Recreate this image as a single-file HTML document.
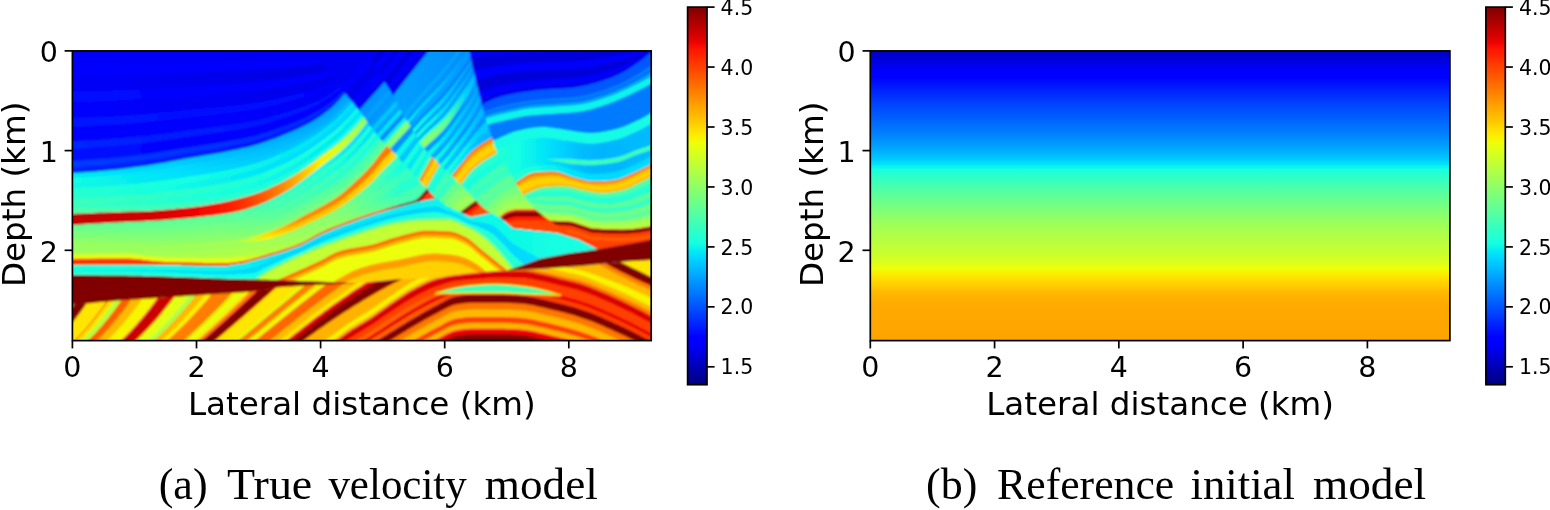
<!DOCTYPE html>
<html lang="en"><head><meta charset="utf-8"><title>Velocity models</title>
<style>
html,body{margin:0;padding:0;background:#fff;}
body{width:1550px;height:510px;overflow:hidden;}
svg{display:block;}
.t28{font-family:"DejaVu Sans","Liberation Sans",sans-serif;font-size:28.5px;fill:#000;}
.t32{font-family:"DejaVu Sans","Liberation Sans",sans-serif;font-size:32.55px;fill:#000;}
.t20{font-family:"DejaVu Sans","Liberation Sans",sans-serif;font-size:20.5px;fill:#000;}
.cap{font-family:"Liberation Serif","DejaVu Serif",serif;font-size:45px;fill:#000;}
.tk{stroke:#000;stroke-width:1.7;}
.sp{fill:none;stroke:#000;stroke-width:1.7;}
</style></head><body>
<svg width="1550" height="510" viewBox="0 0 1550 510">
<defs>
<linearGradient id="jet" x1="0" y1="0" x2="0" y2="1"><stop offset="0.0000" stop-color="#800000"/><stop offset="0.0156" stop-color="#920000"/><stop offset="0.0312" stop-color="#a40000"/><stop offset="0.0469" stop-color="#b60000"/><stop offset="0.0625" stop-color="#c80000"/><stop offset="0.0781" stop-color="#da0000"/><stop offset="0.0938" stop-color="#ec0400"/><stop offset="0.1094" stop-color="#fe1200"/><stop offset="0.1250" stop-color="#ff2100"/><stop offset="0.1406" stop-color="#ff3000"/><stop offset="0.1562" stop-color="#ff3f00"/><stop offset="0.1719" stop-color="#ff4d00"/><stop offset="0.1875" stop-color="#ff5c00"/><stop offset="0.2031" stop-color="#ff6b00"/><stop offset="0.2188" stop-color="#ff7a00"/><stop offset="0.2344" stop-color="#ff8800"/><stop offset="0.2500" stop-color="#ff9700"/><stop offset="0.2656" stop-color="#ffa600"/><stop offset="0.2812" stop-color="#ffb500"/><stop offset="0.2969" stop-color="#ffc300"/><stop offset="0.3125" stop-color="#ffd200"/><stop offset="0.3281" stop-color="#ffe100"/><stop offset="0.3438" stop-color="#fcf000"/><stop offset="0.3594" stop-color="#effe08"/><stop offset="0.3750" stop-color="#e2ff15"/><stop offset="0.3906" stop-color="#d5ff21"/><stop offset="0.4062" stop-color="#c9ff2e"/><stop offset="0.4219" stop-color="#bcff3b"/><stop offset="0.4375" stop-color="#afff48"/><stop offset="0.4531" stop-color="#a2ff55"/><stop offset="0.4688" stop-color="#95ff62"/><stop offset="0.4844" stop-color="#88ff6f"/><stop offset="0.5000" stop-color="#7bff7b"/><stop offset="0.5156" stop-color="#6fff88"/><stop offset="0.5312" stop-color="#62ff95"/><stop offset="0.5469" stop-color="#55ffa2"/><stop offset="0.5625" stop-color="#48ffaf"/><stop offset="0.5781" stop-color="#3bffbc"/><stop offset="0.5938" stop-color="#2effc9"/><stop offset="0.6094" stop-color="#21ffd5"/><stop offset="0.6250" stop-color="#15ffe2"/><stop offset="0.6406" stop-color="#08efef"/><stop offset="0.6562" stop-color="#00dffc"/><stop offset="0.6719" stop-color="#00cfff"/><stop offset="0.6875" stop-color="#00bfff"/><stop offset="0.7031" stop-color="#00afff"/><stop offset="0.7188" stop-color="#009fff"/><stop offset="0.7344" stop-color="#008fff"/><stop offset="0.7500" stop-color="#0080ff"/><stop offset="0.7656" stop-color="#0070ff"/><stop offset="0.7812" stop-color="#0060ff"/><stop offset="0.7969" stop-color="#0050ff"/><stop offset="0.8125" stop-color="#0040ff"/><stop offset="0.8281" stop-color="#0030ff"/><stop offset="0.8438" stop-color="#0020ff"/><stop offset="0.8594" stop-color="#0010ff"/><stop offset="0.8750" stop-color="#0000ff"/><stop offset="0.8906" stop-color="#0000fe"/><stop offset="0.9062" stop-color="#0000ec"/><stop offset="0.9219" stop-color="#0000da"/><stop offset="0.9375" stop-color="#0000c8"/><stop offset="0.9531" stop-color="#0000b6"/><stop offset="0.9688" stop-color="#0000a4"/><stop offset="0.9844" stop-color="#000092"/><stop offset="1.0000" stop-color="#000080"/></linearGradient>
<linearGradient id="prof" x1="0" y1="0" x2="0" y2="1"><stop offset="0.0000" stop-color="#0000c2"/><stop offset="0.0083" stop-color="#0000c9"/><stop offset="0.0167" stop-color="#0000d0"/><stop offset="0.0250" stop-color="#0000d7"/><stop offset="0.0333" stop-color="#0000de"/><stop offset="0.0417" stop-color="#0000e6"/><stop offset="0.0500" stop-color="#0000ee"/><stop offset="0.0583" stop-color="#0000f6"/><stop offset="0.0667" stop-color="#0000fe"/><stop offset="0.0750" stop-color="#0000ff"/><stop offset="0.0833" stop-color="#0000ff"/><stop offset="0.0917" stop-color="#0002ff"/><stop offset="0.1000" stop-color="#0008ff"/><stop offset="0.1083" stop-color="#000eff"/><stop offset="0.1167" stop-color="#0014ff"/><stop offset="0.1250" stop-color="#001aff"/><stop offset="0.1333" stop-color="#0020ff"/><stop offset="0.1417" stop-color="#0026ff"/><stop offset="0.1500" stop-color="#002cff"/><stop offset="0.1583" stop-color="#0032ff"/><stop offset="0.1667" stop-color="#0038ff"/><stop offset="0.1750" stop-color="#003eff"/><stop offset="0.1833" stop-color="#0043ff"/><stop offset="0.1917" stop-color="#0048ff"/><stop offset="0.2000" stop-color="#004dff"/><stop offset="0.2083" stop-color="#0052ff"/><stop offset="0.2167" stop-color="#0057ff"/><stop offset="0.2250" stop-color="#005cff"/><stop offset="0.2333" stop-color="#0061ff"/><stop offset="0.2417" stop-color="#0066ff"/><stop offset="0.2500" stop-color="#006bff"/><stop offset="0.2583" stop-color="#0070ff"/><stop offset="0.2667" stop-color="#0075ff"/><stop offset="0.2750" stop-color="#007aff"/><stop offset="0.2833" stop-color="#007fff"/><stop offset="0.2917" stop-color="#0085ff"/><stop offset="0.3000" stop-color="#008bff"/><stop offset="0.3083" stop-color="#0091ff"/><stop offset="0.3167" stop-color="#0098ff"/><stop offset="0.3250" stop-color="#009eff"/><stop offset="0.3333" stop-color="#00a5ff"/><stop offset="0.3417" stop-color="#00acff"/><stop offset="0.3500" stop-color="#00b3ff"/><stop offset="0.3583" stop-color="#00bbff"/><stop offset="0.3667" stop-color="#00c3ff"/><stop offset="0.3750" stop-color="#00ccff"/><stop offset="0.3833" stop-color="#00d8ff"/><stop offset="0.3917" stop-color="#00e5f7"/><stop offset="0.4000" stop-color="#0bf3ec"/><stop offset="0.4083" stop-color="#15ffe2"/><stop offset="0.4167" stop-color="#1effd8"/><stop offset="0.4250" stop-color="#26ffd1"/><stop offset="0.4333" stop-color="#2dffca"/><stop offset="0.4417" stop-color="#34ffc3"/><stop offset="0.4500" stop-color="#3bffbc"/><stop offset="0.4583" stop-color="#41ffb6"/><stop offset="0.4667" stop-color="#47ffb0"/><stop offset="0.4750" stop-color="#4dffaa"/><stop offset="0.4833" stop-color="#53ffa4"/><stop offset="0.4917" stop-color="#59ff9d"/><stop offset="0.5000" stop-color="#5fff97"/><stop offset="0.5083" stop-color="#65ff92"/><stop offset="0.5167" stop-color="#6aff8d"/><stop offset="0.5250" stop-color="#70ff87"/><stop offset="0.5333" stop-color="#75ff82"/><stop offset="0.5417" stop-color="#7aff7d"/><stop offset="0.5500" stop-color="#7fff77"/><stop offset="0.5583" stop-color="#85ff72"/><stop offset="0.5667" stop-color="#8aff6d"/><stop offset="0.5750" stop-color="#8fff67"/><stop offset="0.5833" stop-color="#95ff62"/><stop offset="0.5917" stop-color="#9aff5d"/><stop offset="0.6000" stop-color="#9fff57"/><stop offset="0.6083" stop-color="#a3ff54"/><stop offset="0.6167" stop-color="#a7ff50"/><stop offset="0.6250" stop-color="#aaff4d"/><stop offset="0.6333" stop-color="#aeff49"/><stop offset="0.6417" stop-color="#b1ff46"/><stop offset="0.6500" stop-color="#b5ff42"/><stop offset="0.6583" stop-color="#b8ff3f"/><stop offset="0.6667" stop-color="#bcff3b"/><stop offset="0.6750" stop-color="#bfff38"/><stop offset="0.6833" stop-color="#c3ff34"/><stop offset="0.6917" stop-color="#c6ff31"/><stop offset="0.7000" stop-color="#caff2c"/><stop offset="0.7083" stop-color="#cfff28"/><stop offset="0.7167" stop-color="#d4ff23"/><stop offset="0.7250" stop-color="#d8ff1f"/><stop offset="0.7333" stop-color="#deff19"/><stop offset="0.7417" stop-color="#e6ff11"/><stop offset="0.7500" stop-color="#edff0a"/><stop offset="0.7583" stop-color="#f4f903"/><stop offset="0.7667" stop-color="#fbf000"/><stop offset="0.7750" stop-color="#ffe800"/><stop offset="0.7833" stop-color="#ffe100"/><stop offset="0.7917" stop-color="#ffdb00"/><stop offset="0.8000" stop-color="#ffd400"/><stop offset="0.8083" stop-color="#ffce00"/><stop offset="0.8167" stop-color="#ffc700"/><stop offset="0.8250" stop-color="#ffbf00"/><stop offset="0.8333" stop-color="#ffb900"/><stop offset="0.8417" stop-color="#ffb600"/><stop offset="0.8500" stop-color="#ffb300"/><stop offset="0.8583" stop-color="#ffb000"/><stop offset="0.8667" stop-color="#ffad00"/><stop offset="0.8750" stop-color="#ffab00"/><stop offset="0.8833" stop-color="#ffaa00"/><stop offset="0.8917" stop-color="#ffa900"/><stop offset="0.9000" stop-color="#ffa900"/><stop offset="0.9083" stop-color="#ffa800"/><stop offset="0.9167" stop-color="#ffa800"/><stop offset="0.9250" stop-color="#ffa800"/><stop offset="0.9333" stop-color="#ffa700"/><stop offset="0.9417" stop-color="#ffa700"/><stop offset="0.9500" stop-color="#ffa600"/><stop offset="0.9583" stop-color="#ffa600"/><stop offset="0.9667" stop-color="#ffa500"/><stop offset="0.9750" stop-color="#ffa500"/><stop offset="0.9833" stop-color="#ffa500"/><stop offset="0.9917" stop-color="#ffa400"/><stop offset="1.0000" stop-color="#ffa400"/></linearGradient>
<clipPath id="pc"><rect x="72.4" y="50.9" width="578.80" height="289.70"/></clipPath>
<filter id="blur" x="0" y="0" width="1550" height="510" filterUnits="userSpaceOnUse"><feGaussianBlur stdDeviation="0.9"/></filter>
<mask id="cA" maskUnits="userSpaceOnUse" x="0" y="0" width="1550" height="510"><path d="M60,44 60,48 60,52 60,56 60,60 60,64 60,68 60,72 60,76 60,80 60,84 60,88 60,92 60,96 60,100 60,104 60,108 60,112 60,116 60,120 60,124 60,128 60,132 60,136 60,140 60,144 60,148 60,152 60,156 60,160 60,164 60,168 60,172 60,176 60,180 60,184 60,188 60,192 60,196 60,200 60,204 60,208 60,212 60,216 60,220 60,224 60,228 60,232 60,236 60,240 60,244 60,248 60,252 60,256 60,260 60,264 60,268 60,272 60,276 60,280 60,284 60,288 60,292 60,296 60,300 60,304 60,308 60,312 60,316 60,320 60,324 60,328 60,332 60,336 60,340 60,344 60,348 749.7,348 741.2,344 732.7,340 724.1,336 715.6,332 707.1,328 698.6,324 690.1,320 681.6,316 673.1,312 664.6,308 656.1,304 647.6,300 639.1,296 630.6,292 622.1,288 613.5,284 605,280 596.5,276 588,272 579.5,268 571,264 562.5,260 554,256 545.5,252 537,248 528.5,244 520,240 511.4,236 502.9,232 494.4,228 485.9,224 477.4,220 468.9,216 460.4,212 451.2,208 444.4,204 439.4,200 435.2,196 431.5,192 428.1,188 424.4,184 420.5,180 416.7,176 412.8,172 409,168 405.4,164 401.9,160 398.4,156 394.9,152 391,148 386.9,144 383,140 379.6,136 376.4,132 373.4,128 370.4,124 367.5,120 364.7,116 361.9,112 358.8,108 355.6,104 352.3,100 349,96 345.7,92 342.5,88 339.4,84 336.2,80 333.1,76 330,72 326.9,68 323.7,64 320.6,60 317.4,56 314.3,52 311.1,48 308,44Z" fill="#fff"/></mask>
<mask id="cB" maskUnits="userSpaceOnUse" x="0" y="0" width="1550" height="510"><path d="M306.4,44 309.5,48 312.7,52 315.8,56 319,60 322.1,64 325.2,68 328.4,72 331.5,76 334.6,80 337.8,84 340.9,88 344.1,92 347.3,96 350.7,100 354,104 357.2,108 360.3,112 363.2,116 365.9,120 368.8,124 371.8,128 374.8,132 378,136 381.3,140 385.1,144 389.2,148 393.1,152 396.7,156 400.2,160 403.7,164 407.3,168 411.1,172 414.9,176 418.8,180 422.6,184 426.4,188 429.9,192 433.4,196 437.5,200 442.3,204 448.5,208 457.3,212 466.1,216 474.6,220 483.1,224 491.6,228 500.1,232 508.6,236 517.1,240 525.6,244 534.2,248 542.7,252 551.2,256 559.7,260 568.2,264 576.7,268 585.2,272 593.7,276 602.2,280 610.7,284 619.2,288 627.7,292 636.3,296 644.8,300 653.3,304 661.8,308 670.3,312 678.8,316 687.3,320 695.8,324 704.3,328 712.8,332 721.3,336 729.8,340 738.3,344 746.9,348 658,348 653.2,344 648.3,340 643.5,336 638.6,332 633.8,328 629,324 624.1,320 619.3,316 614.5,312 609.6,308 604.8,304 600,300 595.1,296 590.3,292 585.4,288 580.6,284 575.8,280 570.9,276 566.1,272 561.3,268 556.4,264 551.6,260 546.8,256 541.9,252 537.1,248 532.2,244 527.4,240 522.6,236 517.7,232 512.9,228 509,224 503.9,220 497.9,216 490.8,212 485.7,208 481.2,204 477,200 473,196 469.3,192 465.7,188 461.9,184 458,180 453.9,176 449.6,172 445.2,168 440.9,164 436.8,160 432.7,156 428.9,152 425.4,148 422.5,144 420,140 417.7,136 415.4,132 412.9,128 410.5,124 408,120 405.6,116 403.1,112 400.8,108 398.6,104 396.7,100 394.7,96 392.5,92 390,88 387.4,84 384.9,80 382.3,76 379.8,72 377.2,68 374.6,64 372,60 369.4,56 366.8,52 364.3,48 361.7,44Z" fill="#fff"/></mask>
<mask id="cC" maskUnits="userSpaceOnUse" x="0" y="0" width="1550" height="510"><path d="M360.2,44 362.8,48 365.4,52 367.9,56 370.5,60 373.1,64 375.7,68 378.3,72 380.9,76 383.4,80 386,84 388.5,88 391,92 393.3,96 395.3,100 397.3,104 399.4,108 401.7,112 404.1,116 406.6,120 409,124 411.5,128 413.9,132 416.3,136 418.6,140 421,144 423.8,148 427.2,152 430.9,156 435,160 439.1,164 443.3,168 447.7,172 452.1,176 456.2,180 460.1,184 464,188 467.6,192 471.3,196 475.2,200 479.3,204 483.7,208 488.7,212 495.3,216 501.8,220 507,224 511.2,228 515.7,232 520.6,236 525.4,240 530.3,244 535.1,248 539.9,252 544.8,256 549.6,260 554.4,264 559.3,268 564.1,272 568.9,276 573.8,280 578.6,284 583.5,288 588.3,292 593.1,296 598,300 602.8,304 607.6,308 612.5,312 617.3,316 622.1,320 627,324 631.8,328 636.7,332 641.5,336 646.3,340 651.2,344 656,348 845.5,348 835.8,344 826,340 816.3,336 806.6,332 796.8,328 787.1,324 777.4,320 767.7,316 757.9,312 748.2,308 738.5,304 728.7,300 719,296 709.3,292 699.6,288 689.8,284 680.1,280 670.4,276 660.6,272 650.9,268 641.2,264 631.5,260 621.7,256 612,252 601.6,248 592.5,244 584.8,240 577.8,236 571,232 564,228 557.4,224 551.3,220 545.6,216 540.5,212 536.1,208 532.3,204 528.9,200 525.7,196 522.8,192 520.1,188 517.5,184 515.1,180 512.9,176 510.7,172 508.6,168 506.3,164 503.7,160 501,156 498.5,152 496.4,148 494.9,144 493.9,140 492.9,136 491.6,132 490,128 488.5,124 487.2,120 486.1,116 485,112 483.9,108 482.9,104 481.8,100 480.9,96 479.9,92 478.9,88 477.9,84 476.9,80 475.8,76 474.8,72 473.9,68 473,64 472.2,60 471.4,56 470.7,52 469.9,48 469.1,44Z" fill="#fff"/></mask>
<mask id="cD" maskUnits="userSpaceOnUse" x="0" y="0" width="1550" height="510"><path d="M468,44 468.8,48 469.6,52 470.4,56 471.1,60 472,64 472.8,68 473.7,72 474.7,76 475.7,80 476.8,84 477.8,88 478.8,92 479.7,96 480.7,100 481.7,104 482.8,108 483.8,112 484.9,116 486.1,120 487.3,124 488.8,128 490.3,132 491.7,136 492.8,140 493.7,144 495.1,148 497,152 499.5,156 502.2,160 504.8,164 507.2,168 509.4,172 511.5,176 513.7,180 516.1,184 518.6,188 521.2,192 524.1,196 527.2,200 530.6,204 534.3,208 538.5,212 543.5,216 549.1,220 555,224 561.6,228 568.5,232 575.4,236 582.3,240 589.8,244 598.6,248 608.7,252 618.6,256 628.4,260 638.1,264 647.8,268 657.6,272 667.3,276 677,280 686.7,284 696.5,288 706.2,292 715.9,296 725.7,300 735.4,304 745.1,308 754.8,312 764.6,316 774.3,320 784,324 793.8,328 803.5,332 813.2,336 822.9,340 832.7,344 842.4,348 666,348 666,344 666,340 666,336 666,332 666,328 666,324 666,320 666,316 666,312 666,308 666,304 666,300 666,296 666,292 666,288 666,284 666,280 666,276 666,272 666,268 666,264 666,260 666,256 666,252 666,248 666,244 666,240 666,236 666,232 666,228 666,224 666,220 666,216 666,212 666,208 666,204 666,200 666,196 666,192 666,188 666,184 666,180 666,176 666,172 666,168 666,164 666,160 666,156 666,152 666,148 666,144 666,140 666,136 666,132 666,128 666,124 666,120 666,116 666,112 666,108 666,104 666,100 666,96 666,92 666,88 666,84 666,80 666,76 666,72 666,68 666,64 666,60 666,56 666,52 666,48 666,44Z" fill="#fff"/></mask>
<mask id="cE" maskUnits="userSpaceOnUse" x="0" y="0" width="1550" height="510"><path d="M60,264.8 63,264.8 66,264.7 69,264.7 72,264.7 75,264.7 78,264.7 81,264.7 84,264.6 87,264.6 90,264.6 93,264.6 96,264.6 99,264.6 102,264.5 105,264.5 108,264.5 111,264.5 114,264.5 117,264.5 120,264.4 123,264.4 126,264.4 129,264.4 132,264.4 135,264.5 138,264.5 141,264.5 144,264.5 147,264.6 150,264.6 153,264.6 156,264.7 159,264.7 162,264.8 165,264.8 168,264.9 171,264.9 174,265 177,265.1 180,265.1 183,265.2 186,265.2 189,265.3 192,265.3 195,265.4 198,265.4 201,265.5 204,265.5 207,265.6 210,265.6 213,265.7 216,265.7 219,265.8 222,265.9 225,265.9 228,265.4 231,265 234,264.5 237,264.1 240,263.6 243,263.2 246,262.5 249,261.6 252,260.8 255,259.9 258,259.1 261,258.2 264,257.4 267,256.5 270,255.6 273,254.7 276,253.8 279,252.9 282,252 285,251 288,249.9 291,248.8 294,247.7 297,246.7 300,245.6 303,244 306,242.4 309,240.8 312,239.2 315,237.6 318,235.9 321,234.3 324,233 327,231.8 330,230.5 333,229.3 336,228.1 339,226.8 342,225.6 345,224.6 348,223.5 351,222.4 354,221.3 357,220.2 360,219.1 363,218 366,216.9 369,215.9 372,214.9 375,214 378,213.1 381,212.2 384,211.3 387,210.3 390,209.4 393,208.5 396,207.6 399,206.7 402,205.9 405,205 408,204.2 411,203.4 414,202.6 417,201.8 420,201.2 423,200.6 426,200 429,199.4 432,198.8 435,198.2 438,198.7 441,201.1 444,203.4 447,205.7 450,207.1 453,208.5 456,209.9 459,211.3 462,212.8 465,214.3 468,215.7 471,216.9 474,216.3 477,215.7 480,215 483,214.4 486,213.8 489,213.2 492,212.8 495,214.4 498,216.1 501,218.2 504,220.6 507,223.1 510,225.6 513,228 516,228.4 519,228.7 522,229.1 525,229.4 528,229.8 531,230.1 534,230.5 537,230.8 540,231.1 543,231.3 546,231.6 549,231.9 552,232.2 555,232.5 558,233.1 561,234 564,234.9 567,235.8 570,236.7 573,237.7 576,238.6 579,239.5 582,240.9 585,242.4 588,244 591,245.6 594,247.2 597,248.7 600,249.7 603,249.4 606,249.1 609,248.8 612,248.4 615,248 618,247.6 621,247.2 624,246.8 627,246.2 630,245.7 633,245.2 636,244.6 639,244.1 642,243.6 645,243.1 648,242.5 651,242 654,241.5 657,240.9 660,240.4 663,239.9 666,239.4 L666,346.0 60,346.0Z" fill="#fff"/></mask>
<mask id="cU" maskUnits="userSpaceOnUse" x="0" y="0" width="1550" height="510"><path d="M60,305.1 63,305 66,304.8 69,304.6 72,304.4 75,304.2 78,304.1 81,303.9 84,303.7 87,303.5 90,303.2 93,302.9 96,302.6 99,302.3 102,302 105,301.8 108,301.5 111,301.2 114,300.9 117,300.6 120,300.4 123,300.2 126,300 129,299.8 132,299.6 135,299.4 138,299.2 141,299 144,298.8 147,298.6 150,298.4 153,298.2 156,298 159,297.7 162,297.5 165,297.3 168,297.1 171,296.9 174,296.7 177,296.5 180,296.4 183,296.2 186,296 189,295.8 192,295.6 195,295.4 198,295.2 201,295 204,294.8 207,294.6 210,294.4 213,294.2 216,294 219,293.8 222,293.6 225,293.4 228,293.2 231,293 234,292.8 237,292.6 240,292.4 243,292.2 246,292.1 249,291.9 252,291.5 255,291.1 258,290.7 261,290.3 264,289.9 267,289.3 270,288.6 273,288 276,287.4 279,287.2 282,287 285,286.8 288,286.6 291,286.4 294,286.2 297,286 300,285.8 303,285.6 306,285.4 309,285.3 312,285.2 315,285 318,284.9 321,284.8 324,284.6 327,284.5 330,284.4 333,284.2 336,284.1 339,284 342,283.9 345,283.8 348,283.6 351,283.5 354,283.4 357,283.3 360,283 363,282.7 366,282.4 369,282.1 372,281.8 375,281.5 378,281.2 381,280.9 384,280.7 387,280.4 390,280.1 393,279.8 396,279.6 399,279.5 402,279.3 405,279.2 408,279 411,278.9 414,278.7 417,278.6 420,278.4 423,278.2 426,278.1 429,277.9 432,277.8 435,277.6 438,277.4 441,277 444,276.6 447,276.1 450,275.7 453,275.3 456,274.9 459,274.4 462,274 465,273.6 468,273.2 471,272.7 474,272.3 477,272 480,271.8 483,271.7 486,271.5 489,271.4 492,271.2 495,271.1 498,270.9 501,270.8 504,270.6 507,270.5 510,270.4 513,270.2 516,270.1 519,269.9 522,269.8 525,269.6 528,269.5 531,269.3 534,269.2 537,269 540,268.9 543,268.7 546,268.4 549,268.2 552,268 555,267.8 558,267.5 561,267.3 564,267.1 567,266.9 570,266.6 573,266.4 576,266.2 579,266 582,265.7 585,265.4 588,265.2 591,264.9 594,264.6 597,264.3 600,264 603,263.7 606,263.4 609,263.1 612,262.8 615,262.5 618,262.2 621,261.9 624,261.7 627,261.4 630,261.2 633,261 636,260.8 639,260.6 642,260.4 645,260.3 648,260.1 651,259.9 654,259.7 657,259.6 660,259.4 663,259.2 666,259 L666,346.0 60,346.0Z" fill="#fff"/></mask>
<linearGradient id="g1" gradientUnits="userSpaceOnUse" x1="72" y1="0" x2="400" y2="0"><stop offset="0.000" stop-color="#0000f9"/><stop offset="0.050" stop-color="#0000f9"/><stop offset="0.100" stop-color="#0000f8"/><stop offset="0.150" stop-color="#0000f8"/><stop offset="0.200" stop-color="#0000f7"/><stop offset="0.250" stop-color="#0000f7"/><stop offset="0.300" stop-color="#0000f7"/><stop offset="0.350" stop-color="#0000f6"/><stop offset="0.400" stop-color="#0000f6"/><stop offset="0.450" stop-color="#0000f6"/><stop offset="0.500" stop-color="#0000f5"/><stop offset="0.550" stop-color="#0000f5"/><stop offset="0.600" stop-color="#0000f5"/><stop offset="0.650" stop-color="#0000f4"/><stop offset="0.700" stop-color="#0000f4"/><stop offset="0.750" stop-color="#0000f3"/><stop offset="0.800" stop-color="#0000f3"/><stop offset="0.850" stop-color="#0000f3"/><stop offset="0.900" stop-color="#0000f2"/><stop offset="0.950" stop-color="#0000f2"/><stop offset="1.000" stop-color="#0000f2"/></linearGradient>
<linearGradient id="g2" gradientUnits="userSpaceOnUse" x1="72" y1="0" x2="400" y2="0"><stop offset="0.000" stop-color="#0005ff"/><stop offset="0.050" stop-color="#0004ff"/><stop offset="0.100" stop-color="#0003ff"/><stop offset="0.150" stop-color="#0001ff"/><stop offset="0.200" stop-color="#0000ff"/><stop offset="0.250" stop-color="#0000ff"/><stop offset="0.300" stop-color="#0000ff"/><stop offset="0.350" stop-color="#0000ff"/><stop offset="0.400" stop-color="#0000ff"/><stop offset="0.450" stop-color="#0000ff"/><stop offset="0.500" stop-color="#0000ff"/><stop offset="0.550" stop-color="#0000ff"/><stop offset="0.600" stop-color="#0000ff"/><stop offset="0.650" stop-color="#0000ff"/><stop offset="0.700" stop-color="#0000ff"/><stop offset="0.750" stop-color="#0000ff"/><stop offset="0.800" stop-color="#0000ff"/><stop offset="0.850" stop-color="#0000fd"/><stop offset="0.900" stop-color="#0000fc"/><stop offset="0.950" stop-color="#0000fa"/><stop offset="1.000" stop-color="#0000f9"/></linearGradient>
<linearGradient id="g3" gradientUnits="userSpaceOnUse" x1="72" y1="0" x2="400" y2="0"><stop offset="0.000" stop-color="#0000f9"/><stop offset="0.050" stop-color="#0000f7"/><stop offset="0.100" stop-color="#0000f6"/><stop offset="0.150" stop-color="#0000f5"/><stop offset="0.200" stop-color="#0000f3"/><stop offset="0.250" stop-color="#0000f2"/><stop offset="0.300" stop-color="#0000f0"/><stop offset="0.350" stop-color="#0000ef"/><stop offset="0.400" stop-color="#0000ed"/><stop offset="0.450" stop-color="#0000ec"/><stop offset="0.500" stop-color="#0000ea"/><stop offset="0.550" stop-color="#0000e9"/><stop offset="0.600" stop-color="#0000e7"/><stop offset="0.650" stop-color="#0000e6"/><stop offset="0.700" stop-color="#0000e4"/><stop offset="0.750" stop-color="#0000e3"/><stop offset="0.800" stop-color="#0000e1"/><stop offset="0.850" stop-color="#0000e0"/><stop offset="0.900" stop-color="#0000de"/><stop offset="0.950" stop-color="#0000dd"/><stop offset="1.000" stop-color="#0000db"/></linearGradient>
<linearGradient id="g4" gradientUnits="userSpaceOnUse" x1="72" y1="0" x2="400" y2="0"><stop offset="0.000" stop-color="#000cff"/><stop offset="0.050" stop-color="#000aff"/><stop offset="0.100" stop-color="#0009ff"/><stop offset="0.150" stop-color="#0008ff"/><stop offset="0.200" stop-color="#0007ff"/><stop offset="0.250" stop-color="#0005ff"/><stop offset="0.300" stop-color="#0004ff"/><stop offset="0.350" stop-color="#0003ff"/><stop offset="0.400" stop-color="#0001ff"/><stop offset="0.450" stop-color="#0000ff"/><stop offset="0.500" stop-color="#0000ff"/><stop offset="0.550" stop-color="#0000ff"/><stop offset="0.600" stop-color="#0000ff"/><stop offset="0.650" stop-color="#0000ff"/><stop offset="0.700" stop-color="#0000ff"/><stop offset="0.750" stop-color="#0000ff"/><stop offset="0.800" stop-color="#0000ff"/><stop offset="0.850" stop-color="#0000ff"/><stop offset="0.900" stop-color="#0000ff"/><stop offset="0.950" stop-color="#0000ff"/><stop offset="1.000" stop-color="#0000ff"/></linearGradient>
<linearGradient id="g5" gradientUnits="userSpaceOnUse" x1="72" y1="0" x2="400" y2="0"><stop offset="0.000" stop-color="#0000ff"/><stop offset="0.050" stop-color="#0000ff"/><stop offset="0.100" stop-color="#0000fd"/><stop offset="0.150" stop-color="#0000fc"/><stop offset="0.200" stop-color="#0000fa"/><stop offset="0.250" stop-color="#0000f9"/><stop offset="0.300" stop-color="#0000f7"/><stop offset="0.350" stop-color="#0000f6"/><stop offset="0.400" stop-color="#0000f5"/><stop offset="0.450" stop-color="#0000f3"/><stop offset="0.500" stop-color="#0000f2"/><stop offset="0.550" stop-color="#0000f0"/><stop offset="0.600" stop-color="#0000ef"/><stop offset="0.650" stop-color="#0000ed"/><stop offset="0.700" stop-color="#0000ec"/><stop offset="0.750" stop-color="#0000ea"/><stop offset="0.800" stop-color="#0000e9"/><stop offset="0.850" stop-color="#0000e7"/><stop offset="0.900" stop-color="#0000e6"/><stop offset="0.950" stop-color="#0000e4"/><stop offset="1.000" stop-color="#0000e3"/></linearGradient>
<linearGradient id="g6" gradientUnits="userSpaceOnUse" x1="72" y1="0" x2="400" y2="0"><stop offset="0.000" stop-color="#0019ff"/><stop offset="0.050" stop-color="#0017ff"/><stop offset="0.100" stop-color="#0016ff"/><stop offset="0.150" stop-color="#0015ff"/><stop offset="0.200" stop-color="#0014ff"/><stop offset="0.250" stop-color="#0012ff"/><stop offset="0.300" stop-color="#0011ff"/><stop offset="0.350" stop-color="#0010ff"/><stop offset="0.400" stop-color="#000eff"/><stop offset="0.450" stop-color="#000dff"/><stop offset="0.500" stop-color="#000cff"/><stop offset="0.550" stop-color="#000aff"/><stop offset="0.600" stop-color="#0009ff"/><stop offset="0.650" stop-color="#0008ff"/><stop offset="0.700" stop-color="#0007ff"/><stop offset="0.750" stop-color="#0005ff"/><stop offset="0.800" stop-color="#0004ff"/><stop offset="0.850" stop-color="#0003ff"/><stop offset="0.900" stop-color="#0001ff"/><stop offset="0.950" stop-color="#0000ff"/><stop offset="1.000" stop-color="#0000ff"/></linearGradient>
<linearGradient id="g7" gradientUnits="userSpaceOnUse" x1="72" y1="0" x2="400" y2="0"><stop offset="0.000" stop-color="#0000ff"/><stop offset="0.050" stop-color="#0000ff"/><stop offset="0.100" stop-color="#0000ff"/><stop offset="0.150" stop-color="#0000ff"/><stop offset="0.200" stop-color="#0000ff"/><stop offset="0.250" stop-color="#0000ff"/><stop offset="0.300" stop-color="#0000ff"/><stop offset="0.350" stop-color="#0000ff"/><stop offset="0.400" stop-color="#0000ff"/><stop offset="0.450" stop-color="#0000fe"/><stop offset="0.500" stop-color="#0000fd"/><stop offset="0.550" stop-color="#0000fb"/><stop offset="0.600" stop-color="#0000fa"/><stop offset="0.650" stop-color="#0000f8"/><stop offset="0.700" stop-color="#0000f7"/><stop offset="0.750" stop-color="#0000f5"/><stop offset="0.800" stop-color="#0000f4"/><stop offset="0.850" stop-color="#0000f2"/><stop offset="0.900" stop-color="#0000f1"/><stop offset="0.950" stop-color="#0000ef"/><stop offset="1.000" stop-color="#0000ee"/></linearGradient>
<linearGradient id="g8" gradientUnits="userSpaceOnUse" x1="72" y1="0" x2="400" y2="0"><stop offset="0.000" stop-color="#0026ff"/><stop offset="0.050" stop-color="#0024ff"/><stop offset="0.100" stop-color="#0023ff"/><stop offset="0.150" stop-color="#0022ff"/><stop offset="0.200" stop-color="#0020ff"/><stop offset="0.250" stop-color="#001fff"/><stop offset="0.300" stop-color="#001eff"/><stop offset="0.350" stop-color="#001dff"/><stop offset="0.400" stop-color="#001bff"/><stop offset="0.450" stop-color="#001aff"/><stop offset="0.500" stop-color="#0019ff"/><stop offset="0.550" stop-color="#0017ff"/><stop offset="0.600" stop-color="#0016ff"/><stop offset="0.650" stop-color="#0015ff"/><stop offset="0.700" stop-color="#0014ff"/><stop offset="0.750" stop-color="#0012ff"/><stop offset="0.800" stop-color="#0011ff"/><stop offset="0.850" stop-color="#0010ff"/><stop offset="0.900" stop-color="#000eff"/><stop offset="0.950" stop-color="#000dff"/><stop offset="1.000" stop-color="#000cff"/></linearGradient>
<linearGradient id="g9" gradientUnits="userSpaceOnUse" x1="72" y1="0" x2="400" y2="0"><stop offset="0.000" stop-color="#003cff"/><stop offset="0.050" stop-color="#003bff"/><stop offset="0.100" stop-color="#003aff"/><stop offset="0.150" stop-color="#0038ff"/><stop offset="0.200" stop-color="#0037ff"/><stop offset="0.250" stop-color="#0036ff"/><stop offset="0.300" stop-color="#0035ff"/><stop offset="0.350" stop-color="#0033ff"/><stop offset="0.400" stop-color="#0032ff"/><stop offset="0.450" stop-color="#0031ff"/><stop offset="0.500" stop-color="#002fff"/><stop offset="0.550" stop-color="#002eff"/><stop offset="0.600" stop-color="#002dff"/><stop offset="0.650" stop-color="#002bff"/><stop offset="0.700" stop-color="#002aff"/><stop offset="0.750" stop-color="#0029ff"/><stop offset="0.800" stop-color="#0028ff"/><stop offset="0.850" stop-color="#0026ff"/><stop offset="0.900" stop-color="#0025ff"/><stop offset="0.950" stop-color="#0024ff"/><stop offset="1.000" stop-color="#0022ff"/></linearGradient>
<linearGradient id="g10" gradientUnits="userSpaceOnUse" x1="72" y1="0" x2="380" y2="0"><stop offset="0.000" stop-color="#05ebf2"/><stop offset="0.053" stop-color="#01e7f6"/><stop offset="0.105" stop-color="#00e2fa"/><stop offset="0.158" stop-color="#00ddfd"/><stop offset="0.211" stop-color="#00d9ff"/><stop offset="0.263" stop-color="#00d4ff"/><stop offset="0.316" stop-color="#00d0ff"/><stop offset="0.368" stop-color="#00cbff"/><stop offset="0.421" stop-color="#00c6ff"/><stop offset="0.474" stop-color="#00c2ff"/><stop offset="0.526" stop-color="#00bdff"/><stop offset="0.579" stop-color="#00b9ff"/><stop offset="0.632" stop-color="#00b4ff"/><stop offset="0.684" stop-color="#00afff"/><stop offset="0.737" stop-color="#00abff"/><stop offset="0.789" stop-color="#00a6ff"/><stop offset="0.842" stop-color="#00a2ff"/><stop offset="0.895" stop-color="#009dff"/><stop offset="0.947" stop-color="#0098ff"/><stop offset="1.000" stop-color="#0094ff"/></linearGradient>
<linearGradient id="g11" gradientUnits="userSpaceOnUse" x1="72" y1="0" x2="380" y2="0"><stop offset="0.000" stop-color="#14ffe3"/><stop offset="0.053" stop-color="#10f9e7"/><stop offset="0.105" stop-color="#0cf4eb"/><stop offset="0.158" stop-color="#07efef"/><stop offset="0.211" stop-color="#03e9f4"/><stop offset="0.263" stop-color="#00e4f8"/><stop offset="0.316" stop-color="#00dffc"/><stop offset="0.368" stop-color="#00daff"/><stop offset="0.421" stop-color="#00d4ff"/><stop offset="0.474" stop-color="#00cfff"/><stop offset="0.526" stop-color="#00caff"/><stop offset="0.579" stop-color="#00c4ff"/><stop offset="0.632" stop-color="#00bfff"/><stop offset="0.684" stop-color="#00baff"/><stop offset="0.737" stop-color="#00b5ff"/><stop offset="0.789" stop-color="#00afff"/><stop offset="0.842" stop-color="#00aaff"/><stop offset="0.895" stop-color="#00a5ff"/><stop offset="0.947" stop-color="#009fff"/><stop offset="1.000" stop-color="#009aff"/></linearGradient>
<linearGradient id="g12" gradientUnits="userSpaceOnUse" x1="72" y1="0" x2="380" y2="0"><stop offset="0.000" stop-color="#12fbe5"/><stop offset="0.053" stop-color="#0ef7e8"/><stop offset="0.105" stop-color="#0bf3ec"/><stop offset="0.158" stop-color="#08efef"/><stop offset="0.211" stop-color="#04ebf2"/><stop offset="0.263" stop-color="#01e7f6"/><stop offset="0.316" stop-color="#00e3f9"/><stop offset="0.368" stop-color="#00dffc"/><stop offset="0.421" stop-color="#00dbff"/><stop offset="0.474" stop-color="#00d7ff"/><stop offset="0.526" stop-color="#00d2ff"/><stop offset="0.579" stop-color="#00ceff"/><stop offset="0.632" stop-color="#00caff"/><stop offset="0.684" stop-color="#00c6ff"/><stop offset="0.737" stop-color="#00c2ff"/><stop offset="0.789" stop-color="#00beff"/><stop offset="0.842" stop-color="#00baff"/><stop offset="0.895" stop-color="#00b6ff"/><stop offset="0.947" stop-color="#00b2ff"/><stop offset="1.000" stop-color="#00aeff"/></linearGradient>
<linearGradient id="g13" gradientUnits="userSpaceOnUse" x1="72" y1="0" x2="380" y2="0"><stop offset="0.000" stop-color="#27ffd0"/><stop offset="0.053" stop-color="#24ffd3"/><stop offset="0.105" stop-color="#22ffd5"/><stop offset="0.158" stop-color="#1fffd8"/><stop offset="0.211" stop-color="#1dffda"/><stop offset="0.263" stop-color="#1affdd"/><stop offset="0.316" stop-color="#18ffdf"/><stop offset="0.368" stop-color="#15ffe2"/><stop offset="0.421" stop-color="#13fde4"/><stop offset="0.474" stop-color="#10fae7"/><stop offset="0.526" stop-color="#0ef7e9"/><stop offset="0.579" stop-color="#0bf4eb"/><stop offset="0.632" stop-color="#09f0ee"/><stop offset="0.684" stop-color="#06edf0"/><stop offset="0.737" stop-color="#04eaf3"/><stop offset="0.789" stop-color="#01e7f5"/><stop offset="0.842" stop-color="#00e4f8"/><stop offset="0.895" stop-color="#00e1fa"/><stop offset="0.947" stop-color="#00defd"/><stop offset="1.000" stop-color="#00dbff"/></linearGradient>
<linearGradient id="g14" gradientUnits="userSpaceOnUse" x1="72" y1="0" x2="380" y2="0"><stop offset="0.000" stop-color="#27ffd0"/><stop offset="0.053" stop-color="#23ffd4"/><stop offset="0.105" stop-color="#20ffd7"/><stop offset="0.158" stop-color="#1dffda"/><stop offset="0.211" stop-color="#19ffdd"/><stop offset="0.263" stop-color="#16ffe1"/><stop offset="0.316" stop-color="#13fde4"/><stop offset="0.368" stop-color="#0ff9e7"/><stop offset="0.421" stop-color="#0cf5eb"/><stop offset="0.474" stop-color="#09f0ee"/><stop offset="0.526" stop-color="#06ecf1"/><stop offset="0.579" stop-color="#02e8f5"/><stop offset="0.632" stop-color="#00e4f8"/><stop offset="0.684" stop-color="#00e0fb"/><stop offset="0.737" stop-color="#00dcfe"/><stop offset="0.789" stop-color="#00d8ff"/><stop offset="0.842" stop-color="#00d4ff"/><stop offset="0.895" stop-color="#00d0ff"/><stop offset="0.947" stop-color="#00ccff"/><stop offset="1.000" stop-color="#00c8ff"/></linearGradient>
<linearGradient id="g15" gradientUnits="userSpaceOnUse" x1="72" y1="0" x2="380" y2="0"><stop offset="0.000" stop-color="#3bffbb"/><stop offset="0.053" stop-color="#39ffbe"/><stop offset="0.105" stop-color="#36ffc0"/><stop offset="0.158" stop-color="#34ffc3"/><stop offset="0.211" stop-color="#32ffc5"/><stop offset="0.263" stop-color="#2fffc8"/><stop offset="0.316" stop-color="#2dffca"/><stop offset="0.368" stop-color="#2affcd"/><stop offset="0.421" stop-color="#28ffcf"/><stop offset="0.474" stop-color="#25ffd2"/><stop offset="0.526" stop-color="#23ffd4"/><stop offset="0.579" stop-color="#20ffd7"/><stop offset="0.632" stop-color="#1effd9"/><stop offset="0.684" stop-color="#1bffdc"/><stop offset="0.737" stop-color="#19ffde"/><stop offset="0.789" stop-color="#16ffe0"/><stop offset="0.842" stop-color="#14fee3"/><stop offset="0.895" stop-color="#11fbe5"/><stop offset="0.947" stop-color="#0ff8e8"/><stop offset="1.000" stop-color="#0cf5ea"/></linearGradient>
<linearGradient id="g16" gradientUnits="userSpaceOnUse" x1="72" y1="0" x2="380" y2="0"><stop offset="0.000" stop-color="#39ffbe"/><stop offset="0.053" stop-color="#35ffc1"/><stop offset="0.105" stop-color="#32ffc5"/><stop offset="0.158" stop-color="#2effc8"/><stop offset="0.211" stop-color="#2bffcc"/><stop offset="0.263" stop-color="#28ffcf"/><stop offset="0.316" stop-color="#24ffd3"/><stop offset="0.368" stop-color="#21ffd6"/><stop offset="0.421" stop-color="#1dffd9"/><stop offset="0.474" stop-color="#1affdd"/><stop offset="0.526" stop-color="#16ffe0"/><stop offset="0.579" stop-color="#13fde4"/><stop offset="0.632" stop-color="#10f9e7"/><stop offset="0.684" stop-color="#0cf5eb"/><stop offset="0.737" stop-color="#09f0ee"/><stop offset="0.789" stop-color="#05ecf2"/><stop offset="0.842" stop-color="#02e8f5"/><stop offset="0.895" stop-color="#00e3f8"/><stop offset="0.947" stop-color="#00dffc"/><stop offset="1.000" stop-color="#00dbff"/></linearGradient>
<linearGradient id="g17" gradientUnits="userSpaceOnUse" x1="72" y1="0" x2="380" y2="0"><stop offset="0.000" stop-color="#4effa9"/><stop offset="0.053" stop-color="#4affad"/><stop offset="0.105" stop-color="#47ffb0"/><stop offset="0.158" stop-color="#43ffb3"/><stop offset="0.211" stop-color="#40ffb7"/><stop offset="0.263" stop-color="#3dffba"/><stop offset="0.316" stop-color="#39ffbe"/><stop offset="0.368" stop-color="#36ffc1"/><stop offset="0.421" stop-color="#32ffc5"/><stop offset="0.474" stop-color="#2fffc8"/><stop offset="0.526" stop-color="#2bffcb"/><stop offset="0.579" stop-color="#28ffcf"/><stop offset="0.632" stop-color="#24ffd2"/><stop offset="0.684" stop-color="#21ffd6"/><stop offset="0.737" stop-color="#1effd9"/><stop offset="0.789" stop-color="#1affdd"/><stop offset="0.842" stop-color="#17ffe0"/><stop offset="0.895" stop-color="#13fde3"/><stop offset="0.947" stop-color="#10f9e7"/><stop offset="1.000" stop-color="#0cf5ea"/></linearGradient>
<linearGradient id="g18" gradientUnits="userSpaceOnUse" x1="72" y1="0" x2="370" y2="0"><stop offset="0.000" stop-color="#c20000"/><stop offset="0.056" stop-color="#c50000"/><stop offset="0.111" stop-color="#c80000"/><stop offset="0.167" stop-color="#cb0000"/><stop offset="0.222" stop-color="#ce0000"/><stop offset="0.278" stop-color="#d30000"/><stop offset="0.333" stop-color="#de0000"/><stop offset="0.389" stop-color="#e90100"/><stop offset="0.444" stop-color="#f30900"/><stop offset="0.500" stop-color="#fe1200"/><stop offset="0.556" stop-color="#ff2900"/><stop offset="0.611" stop-color="#ff4600"/><stop offset="0.667" stop-color="#ff6b00"/><stop offset="0.722" stop-color="#ff9400"/><stop offset="0.778" stop-color="#ffc400"/><stop offset="0.833" stop-color="#fdee00"/><stop offset="0.889" stop-color="#d8ff1e"/><stop offset="0.944" stop-color="#adff4a"/><stop offset="1.000" stop-color="#82ff75"/></linearGradient>
<linearGradient id="g19" gradientUnits="userSpaceOnUse" x1="72" y1="0" x2="400" y2="0"><stop offset="0.000" stop-color="#60ff97"/><stop offset="0.050" stop-color="#5fff98"/><stop offset="0.100" stop-color="#5eff98"/><stop offset="0.150" stop-color="#5eff99"/><stop offset="0.200" stop-color="#5dff9a"/><stop offset="0.250" stop-color="#5cff9b"/><stop offset="0.300" stop-color="#5bff9c"/><stop offset="0.350" stop-color="#5aff9c"/><stop offset="0.400" stop-color="#59ff9d"/><stop offset="0.450" stop-color="#59ff9e"/><stop offset="0.500" stop-color="#54ffa3"/><stop offset="0.550" stop-color="#47ffb0"/><stop offset="0.600" stop-color="#3bffbc"/><stop offset="0.650" stop-color="#2fffc8"/><stop offset="0.700" stop-color="#22ffd5"/><stop offset="0.750" stop-color="#16ffe1"/><stop offset="0.800" stop-color="#0af1ed"/><stop offset="0.850" stop-color="#00e2fa"/><stop offset="0.900" stop-color="#00d3ff"/><stop offset="0.950" stop-color="#00c3ff"/><stop offset="1.000" stop-color="#00b4ff"/></linearGradient>
<linearGradient id="g20" gradientUnits="userSpaceOnUse" x1="72" y1="0" x2="400" y2="0"><stop offset="0.000" stop-color="#6aff8c"/><stop offset="0.050" stop-color="#6aff8d"/><stop offset="0.100" stop-color="#69ff8e"/><stop offset="0.150" stop-color="#68ff8f"/><stop offset="0.200" stop-color="#67ff90"/><stop offset="0.250" stop-color="#66ff90"/><stop offset="0.300" stop-color="#66ff91"/><stop offset="0.350" stop-color="#65ff92"/><stop offset="0.400" stop-color="#64ff93"/><stop offset="0.450" stop-color="#63ff94"/><stop offset="0.500" stop-color="#60ff97"/><stop offset="0.550" stop-color="#57ffa0"/><stop offset="0.600" stop-color="#4fffa8"/><stop offset="0.650" stop-color="#47ffb0"/><stop offset="0.700" stop-color="#3effb8"/><stop offset="0.750" stop-color="#36ffc1"/><stop offset="0.800" stop-color="#2effc9"/><stop offset="0.850" stop-color="#25ffd1"/><stop offset="0.900" stop-color="#1dffda"/><stop offset="0.950" stop-color="#15ffe2"/><stop offset="1.000" stop-color="#0cf5ea"/></linearGradient>
<linearGradient id="g21" gradientUnits="userSpaceOnUse" x1="72" y1="0" x2="400" y2="0"><stop offset="0.000" stop-color="#70ff87"/><stop offset="0.050" stop-color="#6fff88"/><stop offset="0.100" stop-color="#6eff89"/><stop offset="0.150" stop-color="#6dff8a"/><stop offset="0.200" stop-color="#6cff8a"/><stop offset="0.250" stop-color="#6cff8b"/><stop offset="0.300" stop-color="#6bff8c"/><stop offset="0.350" stop-color="#6aff8d"/><stop offset="0.400" stop-color="#69ff8e"/><stop offset="0.450" stop-color="#68ff8e"/><stop offset="0.500" stop-color="#63ff94"/><stop offset="0.550" stop-color="#57ffa0"/><stop offset="0.600" stop-color="#4affad"/><stop offset="0.650" stop-color="#3dffb9"/><stop offset="0.700" stop-color="#31ffc6"/><stop offset="0.750" stop-color="#24ffd3"/><stop offset="0.800" stop-color="#18ffdf"/><stop offset="0.850" stop-color="#0bf3ec"/><stop offset="0.900" stop-color="#00e4f8"/><stop offset="0.950" stop-color="#00d4ff"/><stop offset="1.000" stop-color="#00c4ff"/></linearGradient>
<linearGradient id="g22" gradientUnits="userSpaceOnUse" x1="72" y1="0" x2="400" y2="0"><stop offset="0.000" stop-color="#7aff7d"/><stop offset="0.050" stop-color="#79ff7e"/><stop offset="0.100" stop-color="#78ff7e"/><stop offset="0.150" stop-color="#78ff7f"/><stop offset="0.200" stop-color="#77ff80"/><stop offset="0.250" stop-color="#76ff81"/><stop offset="0.300" stop-color="#75ff82"/><stop offset="0.350" stop-color="#74ff82"/><stop offset="0.400" stop-color="#74ff83"/><stop offset="0.450" stop-color="#73ff84"/><stop offset="0.500" stop-color="#6fff88"/><stop offset="0.550" stop-color="#67ff90"/><stop offset="0.600" stop-color="#5eff99"/><stop offset="0.650" stop-color="#55ffa1"/><stop offset="0.700" stop-color="#4dffaa"/><stop offset="0.750" stop-color="#44ffb2"/><stop offset="0.800" stop-color="#3cffbb"/><stop offset="0.850" stop-color="#33ffc4"/><stop offset="0.900" stop-color="#2bffcc"/><stop offset="0.950" stop-color="#22ffd5"/><stop offset="1.000" stop-color="#19ffdd"/></linearGradient>
<linearGradient id="g23" gradientUnits="userSpaceOnUse" x1="72" y1="0" x2="400" y2="0"><stop offset="0.000" stop-color="#7fff77"/><stop offset="0.050" stop-color="#7eff78"/><stop offset="0.100" stop-color="#7eff79"/><stop offset="0.150" stop-color="#7dff7a"/><stop offset="0.200" stop-color="#7cff7b"/><stop offset="0.250" stop-color="#7bff7c"/><stop offset="0.300" stop-color="#7aff7c"/><stop offset="0.350" stop-color="#7aff7d"/><stop offset="0.400" stop-color="#79ff7e"/><stop offset="0.450" stop-color="#78ff7f"/><stop offset="0.500" stop-color="#73ff84"/><stop offset="0.550" stop-color="#68ff8f"/><stop offset="0.600" stop-color="#5cff9b"/><stop offset="0.650" stop-color="#50ffa6"/><stop offset="0.700" stop-color="#45ffb2"/><stop offset="0.750" stop-color="#39ffbd"/><stop offset="0.800" stop-color="#2effc9"/><stop offset="0.850" stop-color="#22ffd5"/><stop offset="0.900" stop-color="#17ffe0"/><stop offset="0.950" stop-color="#0bf3ec"/><stop offset="1.000" stop-color="#00e5f7"/></linearGradient>
<linearGradient id="g24" gradientUnits="userSpaceOnUse" x1="72" y1="0" x2="400" y2="0"><stop offset="0.000" stop-color="#87ff70"/><stop offset="0.050" stop-color="#86ff70"/><stop offset="0.100" stop-color="#86ff71"/><stop offset="0.150" stop-color="#85ff72"/><stop offset="0.200" stop-color="#84ff73"/><stop offset="0.250" stop-color="#83ff74"/><stop offset="0.300" stop-color="#82ff75"/><stop offset="0.350" stop-color="#81ff75"/><stop offset="0.400" stop-color="#81ff76"/><stop offset="0.450" stop-color="#80ff77"/><stop offset="0.500" stop-color="#7cff7a"/><stop offset="0.550" stop-color="#74ff82"/><stop offset="0.600" stop-color="#6cff8b"/><stop offset="0.650" stop-color="#64ff93"/><stop offset="0.700" stop-color="#5cff9b"/><stop offset="0.750" stop-color="#54ffa3"/><stop offset="0.800" stop-color="#4cffab"/><stop offset="0.850" stop-color="#44ffb3"/><stop offset="0.900" stop-color="#3cffbb"/><stop offset="0.950" stop-color="#34ffc3"/><stop offset="1.000" stop-color="#2cffcb"/></linearGradient>
<linearGradient id="g25" gradientUnits="userSpaceOnUse" x1="72" y1="0" x2="400" y2="0"><stop offset="0.000" stop-color="#8fff68"/><stop offset="0.050" stop-color="#8eff69"/><stop offset="0.100" stop-color="#8dff69"/><stop offset="0.150" stop-color="#8dff6a"/><stop offset="0.200" stop-color="#8cff6b"/><stop offset="0.250" stop-color="#8bff6c"/><stop offset="0.300" stop-color="#8aff6d"/><stop offset="0.350" stop-color="#89ff6d"/><stop offset="0.400" stop-color="#88ff6e"/><stop offset="0.450" stop-color="#88ff6f"/><stop offset="0.500" stop-color="#85ff72"/><stop offset="0.550" stop-color="#7eff79"/><stop offset="0.600" stop-color="#77ff80"/><stop offset="0.650" stop-color="#70ff87"/><stop offset="0.700" stop-color="#69ff8d"/><stop offset="0.750" stop-color="#63ff94"/><stop offset="0.800" stop-color="#5cff9b"/><stop offset="0.850" stop-color="#55ffa2"/><stop offset="0.900" stop-color="#4effa9"/><stop offset="0.950" stop-color="#47ffaf"/><stop offset="1.000" stop-color="#41ffb6"/></linearGradient>
<linearGradient id="g26" gradientUnits="userSpaceOnUse" x1="72" y1="0" x2="400" y2="0"><stop offset="0.000" stop-color="#94ff63"/><stop offset="0.050" stop-color="#93ff63"/><stop offset="0.100" stop-color="#93ff64"/><stop offset="0.150" stop-color="#92ff65"/><stop offset="0.200" stop-color="#91ff66"/><stop offset="0.250" stop-color="#90ff67"/><stop offset="0.300" stop-color="#8fff67"/><stop offset="0.350" stop-color="#8fff68"/><stop offset="0.400" stop-color="#8eff69"/><stop offset="0.450" stop-color="#8dff6a"/><stop offset="0.500" stop-color="#8bff6c"/><stop offset="0.550" stop-color="#86ff71"/><stop offset="0.600" stop-color="#81ff76"/><stop offset="0.650" stop-color="#7cff7b"/><stop offset="0.700" stop-color="#77ff7f"/><stop offset="0.750" stop-color="#73ff84"/><stop offset="0.800" stop-color="#6eff89"/><stop offset="0.850" stop-color="#69ff8e"/><stop offset="0.900" stop-color="#64ff92"/><stop offset="0.950" stop-color="#60ff97"/><stop offset="1.000" stop-color="#5bff9c"/></linearGradient>
<linearGradient id="g27" gradientUnits="userSpaceOnUse" x1="72" y1="0" x2="400" y2="0"><stop offset="0.000" stop-color="#99ff5d"/><stop offset="0.050" stop-color="#9aff5c"/><stop offset="0.100" stop-color="#9bff5b"/><stop offset="0.150" stop-color="#9cff5a"/><stop offset="0.200" stop-color="#9dff59"/><stop offset="0.250" stop-color="#9eff58"/><stop offset="0.300" stop-color="#9fff57"/><stop offset="0.350" stop-color="#a0ff56"/><stop offset="0.400" stop-color="#a1ff55"/><stop offset="0.450" stop-color="#a2ff54"/><stop offset="0.500" stop-color="#a3ff53"/><stop offset="0.550" stop-color="#ceff29"/><stop offset="0.600" stop-color="#ffd600"/><stop offset="0.650" stop-color="#ffaf00"/><stop offset="0.700" stop-color="#ff8b00"/><stop offset="0.750" stop-color="#ff8600"/><stop offset="0.800" stop-color="#ff8200"/><stop offset="0.850" stop-color="#ff7d00"/><stop offset="0.900" stop-color="#ff7b00"/><stop offset="0.950" stop-color="#ff7900"/><stop offset="1.000" stop-color="#ff7700"/></linearGradient>
<linearGradient id="g28" gradientUnits="userSpaceOnUse" x1="72" y1="0" x2="400" y2="0"><stop offset="0.000" stop-color="#9fff58"/><stop offset="0.050" stop-color="#a0ff57"/><stop offset="0.100" stop-color="#a1ff56"/><stop offset="0.150" stop-color="#a2ff55"/><stop offset="0.200" stop-color="#a3ff54"/><stop offset="0.250" stop-color="#a4ff53"/><stop offset="0.300" stop-color="#a5ff52"/><stop offset="0.350" stop-color="#a6ff51"/><stop offset="0.400" stop-color="#a7ff50"/><stop offset="0.450" stop-color="#a8ff4f"/><stop offset="0.500" stop-color="#a9ff4e"/><stop offset="0.550" stop-color="#cbff2c"/><stop offset="0.600" stop-color="#feed00"/><stop offset="0.650" stop-color="#ffd900"/><stop offset="0.700" stop-color="#ffc800"/><stop offset="0.750" stop-color="#ffc800"/><stop offset="0.800" stop-color="#ffc800"/><stop offset="0.850" stop-color="#ffc800"/><stop offset="0.900" stop-color="#ffcd00"/><stop offset="0.950" stop-color="#ffd200"/><stop offset="1.000" stop-color="#ffd700"/></linearGradient>
<linearGradient id="g29" gradientUnits="userSpaceOnUse" x1="72" y1="0" x2="400" y2="0"><stop offset="0.000" stop-color="#8fff68"/><stop offset="0.050" stop-color="#90ff67"/><stop offset="0.100" stop-color="#91ff66"/><stop offset="0.150" stop-color="#92ff64"/><stop offset="0.200" stop-color="#94ff63"/><stop offset="0.250" stop-color="#95ff62"/><stop offset="0.300" stop-color="#96ff61"/><stop offset="0.350" stop-color="#97ff60"/><stop offset="0.400" stop-color="#98ff5f"/><stop offset="0.450" stop-color="#99ff5e"/><stop offset="0.500" stop-color="#9aff5c"/><stop offset="0.550" stop-color="#9cff5b"/><stop offset="0.600" stop-color="#98ff5f"/><stop offset="0.650" stop-color="#90ff67"/><stop offset="0.700" stop-color="#88ff6f"/><stop offset="0.750" stop-color="#80ff77"/><stop offset="0.800" stop-color="#78ff7f"/><stop offset="0.850" stop-color="#68ff8f"/><stop offset="0.900" stop-color="#54ffa3"/><stop offset="0.950" stop-color="#40ffb7"/><stop offset="1.000" stop-color="#2cffcb"/></linearGradient>
<linearGradient id="g30" gradientUnits="userSpaceOnUse" x1="72" y1="0" x2="400" y2="0"><stop offset="0.000" stop-color="#a4ff53"/><stop offset="0.050" stop-color="#a5ff52"/><stop offset="0.100" stop-color="#a6ff51"/><stop offset="0.150" stop-color="#a7ff4f"/><stop offset="0.200" stop-color="#a8ff4e"/><stop offset="0.250" stop-color="#aaff4d"/><stop offset="0.300" stop-color="#abff4c"/><stop offset="0.350" stop-color="#acff4b"/><stop offset="0.400" stop-color="#adff4a"/><stop offset="0.450" stop-color="#aeff49"/><stop offset="0.500" stop-color="#afff48"/><stop offset="0.550" stop-color="#b0ff46"/><stop offset="0.600" stop-color="#adff4a"/><stop offset="0.650" stop-color="#a5ff52"/><stop offset="0.700" stop-color="#9dff5a"/><stop offset="0.750" stop-color="#95ff62"/><stop offset="0.800" stop-color="#8cff6a"/><stop offset="0.850" stop-color="#76ff81"/><stop offset="0.900" stop-color="#57ffa0"/><stop offset="0.950" stop-color="#38ffbf"/><stop offset="1.000" stop-color="#19ffdd"/></linearGradient>
<linearGradient id="g31" gradientUnits="userSpaceOnUse" x1="72" y1="0" x2="400" y2="0"><stop offset="0.000" stop-color="#9cff5b"/><stop offset="0.050" stop-color="#9dff5a"/><stop offset="0.100" stop-color="#9eff58"/><stop offset="0.150" stop-color="#9fff57"/><stop offset="0.200" stop-color="#a1ff56"/><stop offset="0.250" stop-color="#a2ff55"/><stop offset="0.300" stop-color="#a3ff54"/><stop offset="0.350" stop-color="#a4ff53"/><stop offset="0.400" stop-color="#a5ff52"/><stop offset="0.450" stop-color="#a6ff50"/><stop offset="0.500" stop-color="#a7ff4f"/><stop offset="0.550" stop-color="#a9ff4e"/><stop offset="0.600" stop-color="#a5ff52"/><stop offset="0.650" stop-color="#9dff5a"/><stop offset="0.700" stop-color="#95ff62"/><stop offset="0.750" stop-color="#8dff6a"/><stop offset="0.800" stop-color="#85ff72"/><stop offset="0.850" stop-color="#74ff82"/><stop offset="0.900" stop-color="#60ff97"/><stop offset="0.950" stop-color="#4bffac"/><stop offset="1.000" stop-color="#36ffc1"/></linearGradient>
<linearGradient id="g32" gradientUnits="userSpaceOnUse" x1="72" y1="0" x2="400" y2="0"><stop offset="0.000" stop-color="#aeff48"/><stop offset="0.050" stop-color="#afff47"/><stop offset="0.100" stop-color="#b1ff46"/><stop offset="0.150" stop-color="#b2ff45"/><stop offset="0.200" stop-color="#b3ff44"/><stop offset="0.250" stop-color="#b4ff43"/><stop offset="0.300" stop-color="#b5ff42"/><stop offset="0.350" stop-color="#b6ff40"/><stop offset="0.400" stop-color="#b7ff3f"/><stop offset="0.450" stop-color="#b9ff3e"/><stop offset="0.500" stop-color="#baff3d"/><stop offset="0.550" stop-color="#bbff3c"/><stop offset="0.600" stop-color="#b7ff40"/><stop offset="0.650" stop-color="#afff48"/><stop offset="0.700" stop-color="#a7ff50"/><stop offset="0.750" stop-color="#9fff58"/><stop offset="0.800" stop-color="#97ff60"/><stop offset="0.850" stop-color="#80ff76"/><stop offset="0.900" stop-color="#62ff94"/><stop offset="0.950" stop-color="#44ffb2"/><stop offset="1.000" stop-color="#27ffd0"/></linearGradient>
<linearGradient id="g33" gradientUnits="userSpaceOnUse" x1="72" y1="0" x2="400" y2="0"><stop offset="0.000" stop-color="#a9ff4e"/><stop offset="0.050" stop-color="#aaff4d"/><stop offset="0.100" stop-color="#abff4b"/><stop offset="0.150" stop-color="#adff4a"/><stop offset="0.200" stop-color="#aeff49"/><stop offset="0.250" stop-color="#afff48"/><stop offset="0.300" stop-color="#b0ff47"/><stop offset="0.350" stop-color="#b1ff46"/><stop offset="0.400" stop-color="#b2ff45"/><stop offset="0.450" stop-color="#b3ff43"/><stop offset="0.500" stop-color="#b4ff42"/><stop offset="0.550" stop-color="#b6ff41"/><stop offset="0.600" stop-color="#b2ff45"/><stop offset="0.650" stop-color="#aaff4d"/><stop offset="0.700" stop-color="#a2ff55"/><stop offset="0.750" stop-color="#9aff5d"/><stop offset="0.800" stop-color="#92ff65"/><stop offset="0.850" stop-color="#82ff75"/><stop offset="0.900" stop-color="#6eff89"/><stop offset="0.950" stop-color="#5aff9d"/><stop offset="1.000" stop-color="#46ffb1"/></linearGradient>
<linearGradient id="g34" gradientUnits="userSpaceOnUse" x1="72" y1="0" x2="275" y2="0"><stop offset="0.000" stop-color="#e3ff14"/><stop offset="0.083" stop-color="#e3ff14"/><stop offset="0.167" stop-color="#e3ff14"/><stop offset="0.250" stop-color="#e3ff14"/><stop offset="0.333" stop-color="#e3ff14"/><stop offset="0.417" stop-color="#e3ff14"/><stop offset="0.500" stop-color="#e3ff14"/><stop offset="0.583" stop-color="#e3ff14"/><stop offset="0.667" stop-color="#e3ff14"/><stop offset="0.750" stop-color="#e3ff14"/><stop offset="0.833" stop-color="#e1ff16"/><stop offset="0.917" stop-color="#c5ff32"/><stop offset="1.000" stop-color="#a9ff4e"/></linearGradient>
<linearGradient id="g35" gradientUnits="userSpaceOnUse" x1="72" y1="0" x2="425" y2="0"><stop offset="0.000" stop-color="#ff3200"/><stop offset="0.045" stop-color="#ff3300"/><stop offset="0.091" stop-color="#ff3500"/><stop offset="0.136" stop-color="#ff3600"/><stop offset="0.182" stop-color="#ff3700"/><stop offset="0.227" stop-color="#ff3900"/><stop offset="0.273" stop-color="#ff3a00"/><stop offset="0.318" stop-color="#ff3b00"/><stop offset="0.364" stop-color="#ff3d00"/><stop offset="0.409" stop-color="#ff3e00"/><stop offset="0.455" stop-color="#ff3f00"/><stop offset="0.500" stop-color="#ff4100"/><stop offset="0.545" stop-color="#ff4400"/><stop offset="0.591" stop-color="#ff4800"/><stop offset="0.636" stop-color="#ff4b00"/><stop offset="0.682" stop-color="#ff4f00"/><stop offset="0.727" stop-color="#ff5200"/><stop offset="0.773" stop-color="#ff5600"/><stop offset="0.818" stop-color="#ff5a00"/><stop offset="0.864" stop-color="#ff5d00"/><stop offset="0.909" stop-color="#d40000"/><stop offset="0.955" stop-color="#800000"/><stop offset="1.000" stop-color="#800000"/></linearGradient>
<linearGradient id="g36" gradientUnits="userSpaceOnUse" x1="72" y1="0" x2="440" y2="0"><stop offset="0.000" stop-color="#ff3200"/><stop offset="0.043" stop-color="#ff3300"/><stop offset="0.087" stop-color="#ff3500"/><stop offset="0.130" stop-color="#ff3600"/><stop offset="0.174" stop-color="#ff3700"/><stop offset="0.217" stop-color="#ff3900"/><stop offset="0.261" stop-color="#ff3a00"/><stop offset="0.304" stop-color="#ff3b00"/><stop offset="0.348" stop-color="#ff3d00"/><stop offset="0.391" stop-color="#ff3e00"/><stop offset="0.435" stop-color="#ff3f00"/><stop offset="0.478" stop-color="#ff4100"/><stop offset="0.522" stop-color="#ff4400"/><stop offset="0.565" stop-color="#ff4700"/><stop offset="0.609" stop-color="#ff4b00"/><stop offset="0.652" stop-color="#ff4e00"/><stop offset="0.696" stop-color="#ff5200"/><stop offset="0.739" stop-color="#ff5500"/><stop offset="0.783" stop-color="#ff5800"/><stop offset="0.826" stop-color="#ff5c00"/><stop offset="0.870" stop-color="#ff5900"/><stop offset="0.913" stop-color="#ff2900"/><stop offset="0.957" stop-color="#ff3100"/><stop offset="1.000" stop-color="#ff4100"/></linearGradient>
<linearGradient id="g37" gradientUnits="userSpaceOnUse" x1="395" y1="0" x2="480" y2="0"><stop offset="0.000" stop-color="#00a1ff"/><stop offset="0.200" stop-color="#009cff"/><stop offset="0.400" stop-color="#0097ff"/><stop offset="0.600" stop-color="#0092ff"/><stop offset="0.800" stop-color="#008cff"/><stop offset="1.000" stop-color="#0087ff"/></linearGradient>
<linearGradient id="g38" gradientUnits="userSpaceOnUse" x1="395" y1="0" x2="480" y2="0"><stop offset="0.000" stop-color="#00b7ff"/><stop offset="0.200" stop-color="#00b2ff"/><stop offset="0.400" stop-color="#00aeff"/><stop offset="0.600" stop-color="#00a8ff"/><stop offset="0.800" stop-color="#00a3ff"/><stop offset="1.000" stop-color="#009dff"/></linearGradient>
<linearGradient id="g39" gradientUnits="userSpaceOnUse" x1="395" y1="0" x2="480" y2="0"><stop offset="0.000" stop-color="#1cffdb"/><stop offset="0.200" stop-color="#08f0ee"/><stop offset="0.400" stop-color="#00d7ff"/><stop offset="0.600" stop-color="#00baff"/><stop offset="0.800" stop-color="#0097ff"/><stop offset="1.000" stop-color="#0094ff"/></linearGradient>
<linearGradient id="g40" gradientUnits="userSpaceOnUse" x1="395" y1="0" x2="480" y2="0"><stop offset="0.000" stop-color="#00aeff"/><stop offset="0.200" stop-color="#00a9ff"/><stop offset="0.400" stop-color="#00a4ff"/><stop offset="0.600" stop-color="#009fff"/><stop offset="0.800" stop-color="#0099ff"/><stop offset="1.000" stop-color="#0094ff"/></linearGradient>
<linearGradient id="g41" gradientUnits="userSpaceOnUse" x1="395" y1="0" x2="480" y2="0"><stop offset="0.000" stop-color="#0080ff"/><stop offset="0.200" stop-color="#007bff"/><stop offset="0.400" stop-color="#0077ff"/><stop offset="0.600" stop-color="#0071ff"/><stop offset="0.800" stop-color="#006cff"/><stop offset="1.000" stop-color="#0066ff"/></linearGradient>
<linearGradient id="g42" gradientUnits="userSpaceOnUse" x1="395" y1="0" x2="480" y2="0"><stop offset="0.000" stop-color="#2cffcb"/><stop offset="0.200" stop-color="#18ffdf"/><stop offset="0.400" stop-color="#04ebf2"/><stop offset="0.600" stop-color="#00ceff"/><stop offset="0.800" stop-color="#00a9ff"/><stop offset="1.000" stop-color="#0094ff"/></linearGradient>
<linearGradient id="g43" gradientUnits="userSpaceOnUse" x1="395" y1="0" x2="480" y2="0"><stop offset="0.000" stop-color="#0087ff"/><stop offset="0.200" stop-color="#0082ff"/><stop offset="0.400" stop-color="#007dff"/><stop offset="0.600" stop-color="#0078ff"/><stop offset="0.800" stop-color="#0072ff"/><stop offset="1.000" stop-color="#006dff"/></linearGradient>
<linearGradient id="g44" gradientUnits="userSpaceOnUse" x1="395" y1="0" x2="480" y2="0"><stop offset="0.000" stop-color="#34ffc3"/><stop offset="0.200" stop-color="#20ffd7"/><stop offset="0.400" stop-color="#0cf5eb"/><stop offset="0.600" stop-color="#00d7ff"/><stop offset="0.800" stop-color="#00b2ff"/><stop offset="1.000" stop-color="#0094ff"/></linearGradient>
<linearGradient id="g45" gradientUnits="userSpaceOnUse" x1="395" y1="0" x2="480" y2="0"><stop offset="0.000" stop-color="#008dff"/><stop offset="0.200" stop-color="#0088ff"/><stop offset="0.400" stop-color="#0083ff"/><stop offset="0.600" stop-color="#007eff"/><stop offset="0.800" stop-color="#0079ff"/><stop offset="1.000" stop-color="#0073ff"/></linearGradient>
<linearGradient id="g46" gradientUnits="userSpaceOnUse" x1="395" y1="0" x2="480" y2="0"><stop offset="0.000" stop-color="#41ffb6"/><stop offset="0.200" stop-color="#2dffca"/><stop offset="0.400" stop-color="#19ffde"/><stop offset="0.600" stop-color="#02e8f5"/><stop offset="0.800" stop-color="#00c2ff"/><stop offset="1.000" stop-color="#0094ff"/></linearGradient>
<linearGradient id="g47" gradientUnits="userSpaceOnUse" x1="415" y1="0" x2="482" y2="0"><stop offset="0.000" stop-color="#8fff68"/><stop offset="0.250" stop-color="#82ff75"/><stop offset="0.500" stop-color="#54ffa3"/><stop offset="0.750" stop-color="#00d4ff"/><stop offset="1.000" stop-color="#00a4ff"/></linearGradient>
<linearGradient id="g48" gradientUnits="userSpaceOnUse" x1="395" y1="0" x2="480" y2="0"><stop offset="0.000" stop-color="#009eff"/><stop offset="0.200" stop-color="#009aff"/><stop offset="0.400" stop-color="#0096ff"/><stop offset="0.600" stop-color="#0092ff"/><stop offset="0.800" stop-color="#008eff"/><stop offset="1.000" stop-color="#0089ff"/></linearGradient>
<linearGradient id="g49" gradientUnits="userSpaceOnUse" x1="395" y1="0" x2="480" y2="0"><stop offset="0.000" stop-color="#31ffc6"/><stop offset="0.200" stop-color="#21ffd6"/><stop offset="0.400" stop-color="#11fbe5"/><stop offset="0.600" stop-color="#00e4f8"/><stop offset="0.800" stop-color="#00c5ff"/><stop offset="1.000" stop-color="#00a1ff"/></linearGradient>
<linearGradient id="g50" gradientUnits="userSpaceOnUse" x1="395" y1="0" x2="480" y2="0"><stop offset="0.000" stop-color="#00aeff"/><stop offset="0.200" stop-color="#00aaff"/><stop offset="0.400" stop-color="#00a6ff"/><stop offset="0.600" stop-color="#00a2ff"/><stop offset="0.800" stop-color="#009eff"/><stop offset="1.000" stop-color="#009aff"/></linearGradient>
<linearGradient id="g51" gradientUnits="userSpaceOnUse" x1="395" y1="0" x2="480" y2="0"><stop offset="0.000" stop-color="#3bffbb"/><stop offset="0.200" stop-color="#2cffcb"/><stop offset="0.400" stop-color="#1cffdb"/><stop offset="0.600" stop-color="#09f1ee"/><stop offset="0.800" stop-color="#00d2ff"/><stop offset="1.000" stop-color="#00aeff"/></linearGradient>
<linearGradient id="g52" gradientUnits="userSpaceOnUse" x1="395" y1="0" x2="480" y2="0"><stop offset="0.000" stop-color="#02e8f5"/><stop offset="0.200" stop-color="#00d4ff"/><stop offset="0.400" stop-color="#00c1ff"/><stop offset="0.600" stop-color="#00aaff"/><stop offset="0.800" stop-color="#008eff"/><stop offset="1.000" stop-color="#0094ff"/></linearGradient>
<linearGradient id="g53" gradientUnits="userSpaceOnUse" x1="395" y1="0" x2="480" y2="0"><stop offset="0.000" stop-color="#46ffb1"/><stop offset="0.200" stop-color="#36ffc1"/><stop offset="0.400" stop-color="#26ffd0"/><stop offset="0.600" stop-color="#14fee3"/><stop offset="0.800" stop-color="#00dffc"/><stop offset="1.000" stop-color="#00bbff"/></linearGradient>
<linearGradient id="g54" gradientUnits="userSpaceOnUse" x1="395" y1="0" x2="480" y2="0"><stop offset="0.000" stop-color="#1cffdb"/><stop offset="0.200" stop-color="#0cf5ea"/><stop offset="0.400" stop-color="#00e1fa"/><stop offset="0.600" stop-color="#00caff"/><stop offset="0.800" stop-color="#00acff"/><stop offset="1.000" stop-color="#0094ff"/></linearGradient>
<linearGradient id="g55" gradientUnits="userSpaceOnUse" x1="395" y1="0" x2="480" y2="0"><stop offset="0.000" stop-color="#56ffa1"/><stop offset="0.200" stop-color="#46ffb1"/><stop offset="0.400" stop-color="#36ffc1"/><stop offset="0.600" stop-color="#23ffd4"/><stop offset="0.800" stop-color="#0bf3ec"/><stop offset="1.000" stop-color="#00ceff"/></linearGradient>
<linearGradient id="g56" gradientUnits="userSpaceOnUse" x1="395" y1="0" x2="480" y2="0"><stop offset="0.000" stop-color="#43ffb4"/><stop offset="0.200" stop-color="#33ffc3"/><stop offset="0.400" stop-color="#24ffd3"/><stop offset="0.600" stop-color="#11fae6"/><stop offset="0.800" stop-color="#00dcfe"/><stop offset="1.000" stop-color="#00b7ff"/></linearGradient>
<linearGradient id="g57" gradientUnits="userSpaceOnUse" x1="500" y1="0" x2="650" y2="0"><stop offset="0.000" stop-color="#21ffd5"/><stop offset="0.111" stop-color="#15ffe2"/><stop offset="0.222" stop-color="#08f0ef"/><stop offset="0.333" stop-color="#00dffc"/><stop offset="0.444" stop-color="#00cdff"/><stop offset="0.556" stop-color="#00bbff"/><stop offset="0.667" stop-color="#00b5ff"/><stop offset="0.778" stop-color="#00b7ff"/><stop offset="0.889" stop-color="#00b9ff"/><stop offset="1.000" stop-color="#00bbff"/></linearGradient>
<linearGradient id="g58" gradientUnits="userSpaceOnUse" x1="500" y1="0" x2="650" y2="0"><stop offset="0.000" stop-color="#36ffc1"/><stop offset="0.111" stop-color="#27ffd0"/><stop offset="0.222" stop-color="#17ffe0"/><stop offset="0.333" stop-color="#0af2ed"/><stop offset="0.444" stop-color="#02e8f4"/><stop offset="0.556" stop-color="#00dffc"/><stop offset="0.667" stop-color="#00dbff"/><stop offset="0.778" stop-color="#00dbff"/><stop offset="0.889" stop-color="#00dbff"/><stop offset="1.000" stop-color="#00dbff"/></linearGradient>
<linearGradient id="g59" gradientUnits="userSpaceOnUse" x1="72" y1="0" x2="650" y2="0"><stop offset="0.000" stop-color="#21ffd5"/><stop offset="0.028" stop-color="#1fffd8"/><stop offset="0.056" stop-color="#1dffda"/><stop offset="0.083" stop-color="#1affdd"/><stop offset="0.111" stop-color="#18ffdf"/><stop offset="0.139" stop-color="#15ffe1"/><stop offset="0.167" stop-color="#13fde4"/><stop offset="0.194" stop-color="#11fae6"/><stop offset="0.222" stop-color="#0ef7e9"/><stop offset="0.250" stop-color="#0cf4eb"/><stop offset="0.278" stop-color="#09f1ed"/><stop offset="0.306" stop-color="#07eef0"/><stop offset="0.333" stop-color="#05ebf2"/><stop offset="0.361" stop-color="#02e8f5"/><stop offset="0.389" stop-color="#00e5f7"/><stop offset="0.417" stop-color="#01e6f6"/><stop offset="0.444" stop-color="#02e8f5"/><stop offset="0.472" stop-color="#04eaf3"/><stop offset="0.500" stop-color="#05ecf2"/><stop offset="0.528" stop-color="#07eef0"/><stop offset="0.556" stop-color="#08efef"/><stop offset="0.583" stop-color="#0af1ed"/><stop offset="0.611" stop-color="#0bf3ec"/><stop offset="0.639" stop-color="#0cf5ea"/><stop offset="0.667" stop-color="#0df6e9"/><stop offset="0.694" stop-color="#0ef7e8"/><stop offset="0.722" stop-color="#0ff9e7"/><stop offset="0.750" stop-color="#10fae6"/><stop offset="0.778" stop-color="#11fbe5"/><stop offset="0.806" stop-color="#12fce4"/><stop offset="0.833" stop-color="#13fee3"/><stop offset="0.861" stop-color="#14ffe2"/><stop offset="0.889" stop-color="#15ffe1"/><stop offset="0.917" stop-color="#16ffe0"/><stop offset="0.944" stop-color="#17ffdf"/><stop offset="0.972" stop-color="#18ffde"/><stop offset="1.000" stop-color="#19ffdd"/></linearGradient>
<linearGradient id="g60" gradientUnits="userSpaceOnUse" x1="72" y1="0" x2="650" y2="0"><stop offset="0.000" stop-color="#12fbe5"/><stop offset="0.028" stop-color="#0ff8e8"/><stop offset="0.056" stop-color="#0cf5ea"/><stop offset="0.083" stop-color="#0af2ed"/><stop offset="0.111" stop-color="#07efef"/><stop offset="0.139" stop-color="#05ebf2"/><stop offset="0.167" stop-color="#02e8f5"/><stop offset="0.194" stop-color="#00e5f7"/><stop offset="0.222" stop-color="#00e2fa"/><stop offset="0.250" stop-color="#00dffc"/><stop offset="0.278" stop-color="#00dbff"/><stop offset="0.306" stop-color="#00d8ff"/><stop offset="0.333" stop-color="#00d5ff"/><stop offset="0.361" stop-color="#00d2ff"/><stop offset="0.389" stop-color="#00cfff"/><stop offset="0.417" stop-color="#00cfff"/><stop offset="0.444" stop-color="#00cfff"/><stop offset="0.472" stop-color="#00d0ff"/><stop offset="0.500" stop-color="#00d1ff"/><stop offset="0.528" stop-color="#00d2ff"/><stop offset="0.556" stop-color="#00d2ff"/><stop offset="0.583" stop-color="#00d3ff"/><stop offset="0.611" stop-color="#00d4ff"/><stop offset="0.639" stop-color="#00d5ff"/><stop offset="0.667" stop-color="#00d6ff"/><stop offset="0.694" stop-color="#00d7ff"/><stop offset="0.722" stop-color="#00d8ff"/><stop offset="0.750" stop-color="#00daff"/><stop offset="0.778" stop-color="#00dbff"/><stop offset="0.806" stop-color="#00dcfe"/><stop offset="0.833" stop-color="#00ddfd"/><stop offset="0.861" stop-color="#00dffc"/><stop offset="0.889" stop-color="#00e0fb"/><stop offset="0.917" stop-color="#00e1fa"/><stop offset="0.944" stop-color="#00e2f9"/><stop offset="0.972" stop-color="#00e3f8"/><stop offset="1.000" stop-color="#00e5f7"/></linearGradient>
<linearGradient id="g61" gradientUnits="userSpaceOnUse" x1="72" y1="0" x2="650" y2="0"><stop offset="0.000" stop-color="#27ffd0"/><stop offset="0.028" stop-color="#25ffd2"/><stop offset="0.056" stop-color="#24ffd3"/><stop offset="0.083" stop-color="#22ffd5"/><stop offset="0.111" stop-color="#21ffd6"/><stop offset="0.139" stop-color="#1fffd8"/><stop offset="0.167" stop-color="#1effd9"/><stop offset="0.194" stop-color="#1cffdb"/><stop offset="0.222" stop-color="#1bffdc"/><stop offset="0.250" stop-color="#19ffdd"/><stop offset="0.278" stop-color="#18ffdf"/><stop offset="0.306" stop-color="#16ffe0"/><stop offset="0.333" stop-color="#15ffe2"/><stop offset="0.361" stop-color="#13fee3"/><stop offset="0.389" stop-color="#12fce5"/><stop offset="0.417" stop-color="#13fde4"/><stop offset="0.444" stop-color="#15ffe2"/><stop offset="0.472" stop-color="#17ffe0"/><stop offset="0.500" stop-color="#18ffde"/><stop offset="0.528" stop-color="#1affdd"/><stop offset="0.556" stop-color="#1cffdb"/><stop offset="0.583" stop-color="#1effd9"/><stop offset="0.611" stop-color="#20ffd7"/><stop offset="0.639" stop-color="#21ffd5"/><stop offset="0.667" stop-color="#22ffd5"/><stop offset="0.694" stop-color="#22ffd5"/><stop offset="0.722" stop-color="#23ffd4"/><stop offset="0.750" stop-color="#23ffd4"/><stop offset="0.778" stop-color="#23ffd3"/><stop offset="0.806" stop-color="#24ffd3"/><stop offset="0.833" stop-color="#24ffd3"/><stop offset="0.861" stop-color="#25ffd2"/><stop offset="0.889" stop-color="#25ffd2"/><stop offset="0.917" stop-color="#25ffd1"/><stop offset="0.944" stop-color="#26ffd1"/><stop offset="0.972" stop-color="#26ffd1"/><stop offset="1.000" stop-color="#27ffd0"/></linearGradient>
<linearGradient id="g62" gradientUnits="userSpaceOnUse" x1="340" y1="0" x2="660" y2="0"><stop offset="0.000" stop-color="#ff6b00"/><stop offset="0.050" stop-color="#ff6800"/><stop offset="0.100" stop-color="#ff6600"/><stop offset="0.150" stop-color="#ff6400"/><stop offset="0.200" stop-color="#ff6100"/><stop offset="0.250" stop-color="#ff5f00"/><stop offset="0.300" stop-color="#ff5500"/><stop offset="0.350" stop-color="#ff4c00"/><stop offset="0.400" stop-color="#ff4200"/><stop offset="0.450" stop-color="#ff4100"/><stop offset="0.500" stop-color="#ff4100"/><stop offset="0.550" stop-color="#ff4100"/><stop offset="0.600" stop-color="#ff4100"/><stop offset="0.650" stop-color="#ff4100"/><stop offset="0.700" stop-color="#ff4100"/><stop offset="0.750" stop-color="#ff4100"/><stop offset="0.800" stop-color="#ff4100"/><stop offset="0.850" stop-color="#ff4100"/><stop offset="0.900" stop-color="#ff4100"/><stop offset="0.950" stop-color="#ff4100"/><stop offset="1.000" stop-color="#ff4100"/></linearGradient>
</defs>
<rect width="1550" height="510" fill="#fff"/>
<g clip-path="url(#pc)">
<g filter="url(#blur)"><rect x="60" y="40" width="610" height="310" fill="#00b4ff"/>
<g mask="url(#cA)"><path d="M60,40 468,40 L468,346 60,346Z" fill="url(#g1)"/>
<path d="M60,65.8 66,65.7 72,65.7 81,65.6 87,65.5 93,65.5 99,65.4 105,65.3 111,65.3 117,65.2 123,65.1 129,65 135,64.9 138,64.9 141,64.8 144,64.8 147,64.7 150,64.7 153,64.6 156,64.6 159,64.5 162,64.4 165,64.4 168,64.3 171,64.2 174,64.2 177,64.1 180,64 183,64 186,63.9 189,63.8 192,63.8 195,63.7 198,63.7 201,63.6 204,63.5 207,63.5 210,63.4 213,63.4 216,63.3 219,63.2 222,63.2 225,63.1 228,63 231,63 234,62.9 237,62.8 240,62.7 243,62.7 246,62.6 249,62.5 252,62.4 255,62.3 258,62.2 261,62.1 264,61.9 267,61.8 270,61.7 273,61.6 276,61.4 279,61.3 282,61.1 285,61 288,60.8 291,60.7 294,60.5 297,60.4 300,60.2 303,60 306,59.9 309,59.7 312,59.5 315,59.2 318,59 321,58.8 324,58.5 327,58.2 330,57.9 333,57.6 336,57.3 339,56.9 342,56.5 345,56.1 348,55.6 351,55.2 354,54.8 357,54.3 360,53.9 363,53.4 366,53 369,52.6 372,52.1 375,51.7 378,51.3 381,50.8 384,50.4 387,49.9 390,49.5 393,49.1 396,48.6 399,48.2 402,47.8 405,47.3 408,46.9 411,46.4 414,46 417,45.6 420,45.1 423,44.7 426,44.3 429,43.8 432,43.4 435,43 438,42.5 441,42.1 444,41.6 447,41.2 450,40.8 453,40.3 456,40 468,40 L468,346 60,346Z" fill="url(#g2)"/>
<path d="M60,75.6 66,75.5 72,75.4 78,75.3 84,75.3 90,75.2 93,75.1 96,75.1 99,75 102,75 105,74.9 108,74.9 111,74.8 114,74.7 117,74.7 120,74.6 123,74.5 126,74.5 129,74.4 132,74.3 135,74.2 138,74.1 141,74.1 144,74 147,73.9 150,73.8 153,73.7 156,73.6 159,73.5 162,73.4 165,73.3 168,73.2 171,73.1 174,73 177,72.8 180,72.7 183,72.6 186,72.5 189,72.4 192,72.3 195,72.2 198,72.1 201,72 204,71.9 207,71.8 210,71.7 213,71.6 216,71.5 219,71.4 222,71.3 225,71.2 228,71 231,70.9 234,70.8 237,70.7 240,70.6 243,70.4 246,70.3 249,70.1 252,70 255,69.8 258,69.6 261,69.4 264,69.2 267,69 270,68.8 273,68.6 276,68.4 279,68.1 282,67.9 285,67.7 288,67.4 291,67.2 294,66.9 297,66.6 300,66.4 303,66.1 306,65.8 309,65.4 312,65.1 315,64.7 318,64.4 321,64 324,63.5 327,63.1 330,62.6 333,62 336,61.4 339,60.8 342,60.1 345,59.4 348,58.7 351,58 354,57.3 357,56.6 360,55.8 363,55.1 366,54.3 369,53.6 372,52.9 375,52.2 378,51.4 381,50.7 384,50 387,49.2 390,48.5 393,47.8 396,47.1 399,46.3 402,45.6 405,44.9 408,44.1 411,43.4 414,42.7 417,42 420,41.2 423,40.5 426,40 468,40 L468,346 60,346Z" fill="url(#g3)"/>
<path d="M60,91.6 63,91.5 66,91.4 69,91.4 72,91.3 75,91.2 78,91.2 81,91.1 84,91 87,91 90,90.9 93,90.8 96,90.7 99,90.6 102,90.6 105,90.5 108,90.4 111,90.3 114,90.2 117,90.1 120,90 123,89.8 126,89.7 129,89.6 132,89.5 135,89.3 138,89.2 141,89.1 144,88.9 147,88.8 150,88.6 153,88.5 156,88.3 159,88.1 162,88 165,87.8 168,87.6 171,87.4 174,87.2 177,87 180,86.9 183,86.7 186,86.5 189,86.3 192,86.2 195,86 198,85.8 201,85.7 204,85.5 207,85.3 210,85.2 213,85 216,84.8 219,84.6 222,84.5 225,84.3 228,84.1 231,83.9 234,83.7 237,83.5 240,83.3 243,83 246,82.8 249,82.6 252,82.3 255,82 258,81.7 261,81.4 264,81.1 267,80.8 270,80.4 273,80 276,79.7 279,79.3 282,78.9 285,78.5 288,78.1 291,77.7 294,77.2 297,76.8 300,76.3 303,75.8 306,75.3 309,74.8 312,74.3 315,73.7 318,73 321,72.4 324,71.7 327,70.9 330,70.1 333,69.2 336,68.2 339,67.2 342,66 345,64.9 348,63.8 351,62.6 354,61.4 357,60.2 360,58.9 363,57.7 366,56.5 369,55.3 372,54.1 375,52.9 378,51.7 381,50.5 384,49.3 387,48.1 390,46.9 393,45.7 396,44.5 399,43.3 402,42.1 405,40.9 408,40 468,40 L468,346 60,346Z" fill="url(#g4)"/>
<path d="M60,102.7 63,102.6 66,102.5 69,102.4 72,102.3 75,102.2 78,102.1 81,102 84,102 87,101.9 90,101.8 93,101.7 96,101.6 99,101.5 102,101.3 105,101.2 108,101.1 111,101 114,100.9 117,100.7 120,100.6 123,100.4 126,100.3 129,100.1 132,99.9 135,99.8 138,99.6 141,99.4 144,99.3 147,99.1 150,98.9 153,98.7 156,98.5 159,98.3 162,98 165,97.8 168,97.6 171,97.3 174,97.1 177,96.9 180,96.6 183,96.4 186,96.2 189,96 192,95.8 195,95.5 198,95.3 201,95.1 204,94.9 207,94.7 210,94.5 213,94.3 216,94 219,93.8 222,93.6 225,93.3 228,93.1 231,92.8 234,92.6 237,92.3 240,92.1 243,91.8 246,91.5 249,91.2 252,90.9 255,90.5 258,90.1 261,89.7 264,89.3 267,88.9 270,88.4 273,88 276,87.5 279,87 282,86.5 285,86 288,85.5 291,84.9 294,84.4 297,83.8 300,83.2 303,82.6 306,82 309,81.3 312,80.6 315,79.9 318,79.1 321,78.2 324,77.3 327,76.3 330,75.3 333,74.2 336,72.9 339,71.6 342,70.1 345,68.7 348,67.3 351,65.8 354,64.2 357,62.7 360,61.1 363,59.5 366,58 369,56.5 372,55 375,53.4 378,51.9 381,50.4 384,48.8 387,47.3 390,45.8 393,44.2 396,42.7 399,41.2 402,40 468,40 L468,346 60,346Z" fill="url(#g5)"/>
<path d="M60,118.7 63,118.5 66,118.4 69,118.3 72,118.2 75,118.1 78,118 81,117.8 84,117.7 87,117.6 90,117.5 93,117.3 96,117.2 99,117.1 102,116.9 105,116.8 108,116.6 111,116.5 114,116.3 117,116.1 120,115.9 123,115.7 126,115.5 129,115.3 132,115.1 135,114.9 138,114.7 141,114.4 144,114.2 147,113.9 150,113.7 153,113.4 156,113.2 159,112.9 162,112.6 165,112.3 168,112 171,111.7 174,111.4 177,111.1 180,110.8 183,110.5 186,110.2 189,109.9 192,109.6 195,109.3 198,109.1 201,108.8 204,108.5 207,108.2 210,107.9 213,107.7 216,107.4 219,107.1 222,106.8 225,106.4 228,106.1 231,105.8 234,105.5 237,105.1 240,104.8 243,104.4 246,104 249,103.6 252,103.2 255,102.7 258,102.2 261,101.7 264,101.2 267,100.6 270,100 273,99.4 276,98.8 279,98.1 282,97.5 285,96.8 288,96.1 291,95.4 294,94.7 297,94 300,93.2 303,92.4 306,91.6 309,90.7 312,89.8 315,88.8 318,87.7 321,86.6 324,85.4 327,84.2 330,82.8 333,81.4 336,79.7 339,77.9 342,76.1 345,74.2 348,72.3 351,70.3 354,68.3 357,66.3 360,64.2 363,62.2 366,60.2 369,58.2 372,56.2 375,54.2 378,52.2 381,50.2 384,48.2 387,46.2 390,44.2 393,42.2 396,40.2 399,40 468,40 L468,346 60,346Z" fill="url(#g6)"/>
<path d="M60,127.3 63,127.1 66,127 69,126.8 72,126.7 75,126.6 78,126.5 81,126.4 84,126.2 87,126.1 90,125.9 93,125.8 96,125.6 99,125.5 102,125.3 105,125.1 108,125 111,124.8 114,124.6 117,124.4 120,124.2 123,124 126,123.7 129,123.5 132,123.3 135,123 138,122.8 141,122.5 144,122.2 147,122 150,121.7 153,121.4 156,121.1 159,120.8 162,120.4 165,120.1 168,119.8 171,119.4 174,119.1 177,118.7 180,118.4 183,118 186,117.7 189,117.4 192,117.1 195,116.8 198,116.4 201,116.1 204,115.8 207,115.5 210,115.2 213,114.9 216,114.5 219,114.2 222,113.9 225,113.5 228,113.1 231,112.8 234,112.4 237,112 240,111.6 243,111.2 246,110.8 249,110.3 252,109.8 255,109.3 258,108.8 261,108.2 264,107.6 267,106.9 270,106.3 273,105.6 276,104.9 279,104.1 282,103.4 285,102.6 288,101.9 291,101.1 294,100.3 297,99.5 300,98.6 303,97.7 306,96.7 309,95.7 312,94.7 315,93.6 318,92.4 321,91.2 324,89.8 327,88.4 330,86.9 333,85.2 336,83.4 339,81.4 342,79.3 345,77.1 348,75 351,72.8 354,70.6 357,68.2 360,65.9 363,63.6 366,61.4 369,59.1 372,56.8 375,54.6 378,52.3 381,50.1 384,47.8 387,45.6 390,43.3 393,41 396,40 468,40 L468,346 60,346Z" fill="url(#g7)"/>
<path d="M60,142.1 63,141.9 66,141.7 69,141.5 72,141.4 75,141.2 78,141.1 81,140.9 84,140.8 87,140.6 90,140.5 93,140.3 96,140.1 99,139.9 102,139.7 105,139.5 108,139.3 111,139.1 114,138.8 117,138.6 120,138.3 123,138.1 126,137.8 129,137.5 132,137.2 135,136.9 138,136.6 141,136.3 144,136 147,135.7 150,135.4 153,135 156,134.6 159,134.3 162,133.9 165,133.5 168,133.1 171,132.7 174,132.2 177,131.8 180,131.4 183,131 186,130.6 189,130.2 192,129.9 195,129.5 198,129.1 201,128.7 204,128.4 207,128 210,127.6 213,127.2 216,126.8 219,126.4 222,126 225,125.6 228,125.2 231,124.7 234,124.3 237,123.8 240,123.4 243,122.9 246,122.3 249,121.8 252,121.2 255,120.6 258,119.9 261,119.2 264,118.5 267,117.7 270,116.9 273,116.1 276,115.3 279,114.4 282,113.5 285,112.6 288,111.7 291,110.8 294,109.8 297,108.8 300,107.8 303,106.7 306,105.6 309,104.4 312,103.2 315,101.9 318,100.4 321,98.9 324,97.3 327,95.6 330,93.8 333,91.8 336,89.6 339,87.2 342,84.7 345,82.2 348,79.6 351,77 354,74.3 357,71.6 360,68.8 363,66.1 366,63.4 369,60.7 372,58 375,55.3 378,52.6 381,49.9 384,47.2 387,44.5 390,41.8 393,40 468,40 L468,346 60,346Z" fill="url(#g8)"/>
<path d="M60,149.4 63,149.2 66,149.1 69,148.9 72,148.7 75,148.5 78,148.4 81,148.2 84,148.1 87,147.9 90,147.7 93,147.5 96,147.3 99,147.1 102,146.9 105,146.7 108,146.4 111,146.2 114,146 117,145.7 120,145.4 123,145.1 126,144.9 129,144.6 132,144.2 135,143.9 138,143.6 141,143.2 144,142.9 147,142.6 150,142.2 153,141.8 156,141.4 159,141 162,140.6 165,140.2 168,139.7 171,139.3 174,138.8 177,138.4 180,137.9 183,137.5 186,137.1 189,136.7 192,136.3 195,135.8 198,135.4 201,135 204,134.6 207,134.2 210,133.8 213,133.4 216,133 219,132.5 222,132.1 225,131.6 228,131.2 231,130.7 234,130.2 237,129.7 240,129.2 243,128.7 246,128.1 249,127.5 252,126.9 255,126.3 258,125.5 261,124.8 264,124 267,123.2 270,122.3 273,121.4 276,120.5 279,119.6 282,118.6 285,117.6 288,116.7 291,115.6 294,114.6 297,113.5 300,112.4 303,111.2 306,110 309,108.7 312,107.4 315,106 318,104.5 321,102.8 324,101.1 327,99.2 330,97.3 333,95.2 336,92.8 339,90.2 342,87.5 345,84.7 348,82 351,79.1 354,76.2 357,73.3 360,70.2 363,67.3 366,64.4 369,61.5 372,58.5 375,55.6 378,52.7 381,49.8 384,46.9 387,44 390,41.1 393,40 468,40 L468,346 60,346Z" fill="url(#g4)"/>
<path d="M60,161.7 63,161.5 66,161.3 69,161.1 72,160.9 75,160.7 78,160.6 81,160.4 84,160.2 87,160 90,159.8 93,159.6 96,159.3 99,159.1 102,158.9 105,158.6 108,158.4 111,158.1 114,157.8 117,157.5 120,157.2 123,156.9 126,156.6 129,156.2 132,155.9 135,155.5 138,155.2 141,154.8 144,154.4 147,154 150,153.6 153,153.2 156,152.7 159,152.3 162,151.8 165,151.3 168,150.8 171,150.3 174,149.8 177,149.3 180,148.8 183,148.3 186,147.8 189,147.4 192,146.9 195,146.5 198,146 201,145.5 204,145.1 207,144.6 210,144.2 213,143.7 216,143.2 219,142.7 222,142.2 225,141.7 228,141.2 231,140.7 234,140.1 237,139.6 240,139 243,138.4 246,137.8 249,137.1 252,136.4 255,135.7 258,134.9 261,134 264,133.1 267,132.2 270,131.2 273,130.2 276,129.2 279,128.1 282,127 285,126 288,124.9 291,123.7 294,122.6 297,121.3 300,120.1 303,118.8 306,117.4 309,116 312,114.5 315,112.8 318,111.1 321,109.3 324,107.4 327,105.3 330,103.1 333,100.7 336,98 339,95.1 342,92 345,88.9 348,85.8 351,82.7 354,79.4 357,76 360,72.6 363,69.3 366,66 369,62.8 372,59.5 375,56.2 378,52.9 381,49.6 384,46.4 387,43.1 390,40 468,40 L468,346 60,346Z" fill="url(#g9)"/>
<path d="M60,167.9 63,167.7 66,167.4 69,167.2 72,167 75,166.8 78,166.7 81,166.5 84,166.3 87,166.1 90,165.8 93,165.6 96,165.4 99,165.1 102,164.9 105,164.6 108,164.3 111,164.1 114,163.8 117,163.5 120,163.1 123,162.8 126,162.5 129,162.1 132,161.7 135,161.3 138,160.9 141,160.5 144,160.1 147,159.7 150,159.3 153,158.9 156,158.4 159,157.9 162,157.4 165,156.9 168,156.4 171,155.8 174,155.3 177,154.8 180,154.2 183,153.7 186,153.2 189,152.7 192,152.2 195,151.8 198,151.3 201,150.8 204,150.3 207,149.8 210,149.4 213,148.9 216,148.4 219,147.8 222,147.3 225,146.8 228,146.2 231,145.6 234,145.1 237,144.5 240,143.9 243,143.3 246,142.6 249,141.9 252,141.2 255,140.4 258,139.5 261,138.6 264,137.7 267,136.7 270,135.7 273,134.6 276,133.5 279,132.4 282,131.3 285,130.1 288,129 291,127.8 294,126.5 297,125.2 300,123.9 303,122.5 306,121.1 309,119.6 312,118 315,116.3 318,114.5 321,112.5 324,110.5 327,108.3 330,106 333,103.4 336,100.6 339,97.5 342,94.3 345,91 348,87.8 351,84.4 354,81 357,77.4 360,73.8 363,70.3 366,66.9 369,63.4 372,60 375,56.5 378,53 381,49.6 384,46.1 387,42.7 390,40 468,40 L468,346 60,346Z" fill="url(#g8)"/>
<path d="M60,174 63,173.8 66,173.6 69,173.3 72,173.1 75,172.9 78,172.7 81,172.5 84,172.3 87,172.1 90,171.9 93,171.6 96,171.4 99,171.1 102,170.9 105,170.6 108,170.3 111,170 114,169.7 117,169.4 120,169 123,168.7 126,168.3 129,167.9 132,167.5 135,167.1 138,166.7 141,166.3 144,165.9 147,165.4 150,165 153,164.5 156,164 159,163.5 162,163 165,162.4 168,161.9 171,161.3 174,160.8 177,160.2 180,159.7 183,159.1 186,158.6 189,158.1 192,157.6 195,157.1 198,156.6 201,156.1 204,155.6 207,155 210,154.5 213,154 216,153.5 219,152.9 222,152.4 225,151.8 228,151.2 231,150.6 234,150 237,149.4 240,148.8 243,148.1 246,147.4 249,146.7 252,145.9 255,145.1 258,144.2 261,143.2 264,142.2 267,141.2 270,140.1 273,139 276,137.9 279,136.7 282,135.5 285,134.3 288,133.1 291,131.8 294,130.5 297,129.2 300,127.8 303,126.3 306,124.8 309,123.2 312,121.5 315,119.7 318,117.8 321,115.8 324,113.6 327,111.3 330,108.9 333,106.2 336,103.2 339,100 342,96.6 345,93.1 348,89.7 351,86.2 354,82.5 357,78.8 360,75 363,71.4 366,67.7 369,64.1 372,60.4 375,56.8 378,53.1 381,49.5 384,45.9 387,42.2 390,40 468,40 L468,346 60,346Z" fill="url(#g10)"/>
<path d="M60,179.1 63,178.9 66,178.7 69,178.4 72,178.2 75,178 78,177.8 81,177.7 84,177.5 87,177.2 90,177 93,176.8 96,176.6 99,176.3 102,176.1 105,175.8 108,175.5 111,175.3 114,175 117,174.7 120,174.4 123,174.1 126,173.7 129,173.4 132,173 135,172.7 138,172.3 141,171.9 144,171.5 147,171.1 150,170.7 153,170.3 156,169.8 159,169.4 162,168.9 165,168.4 168,167.8 171,167.3 174,166.8 177,166.3 180,165.8 183,165.2 186,164.7 189,164.2 192,163.8 195,163.3 198,162.8 201,162.3 204,161.8 207,161.3 210,160.8 213,160.3 216,159.7 219,159.2 222,158.6 225,158.1 228,157.5 231,156.9 234,156.2 237,155.6 240,155 243,154.3 246,153.6 249,152.8 252,152 255,151.2 258,150.3 261,149.3 264,148.3 267,147.2 270,146.1 273,145 276,143.8 279,142.6 282,141.3 285,140.1 288,138.8 291,137.5 294,136.1 297,134.7 300,133.2 303,131.7 306,130.1 309,128.5 312,126.7 315,124.9 318,122.9 321,120.8 324,118.7 327,116.4 330,113.9 333,111.3 336,108.4 339,105.3 342,102 345,98.7 348,95.3 351,91.8 354,88.2 357,84.6 360,80.8 363,77.2 366,73.5 369,69.8 372,66.2 375,62.5 378,58.8 381,55.1 384,51.5 387,47.8 390,44.1 393,40.4 396,40 468,40 L468,346 60,346Z" fill="url(#g11)"/>
<path d="M60,184.2 63,184 66,183.7 69,183.5 72,183.3 75,183.1 78,183 81,182.8 84,182.6 87,182.4 90,182.2 93,181.9 96,181.7 99,181.5 102,181.3 105,181 108,180.8 111,180.5 114,180.3 117,180 120,179.7 123,179.5 126,179.2 129,178.9 132,178.5 135,178.2 138,177.9 141,177.5 144,177.2 147,176.8 150,176.5 153,176.1 156,175.6 159,175.2 162,174.7 165,174.3 168,173.8 171,173.3 174,172.8 177,172.3 180,171.8 183,171.4 186,170.9 189,170.4 192,169.9 195,169.5 198,169 201,168.5 204,168 207,167.5 210,167 213,166.5 216,166 219,165.4 222,164.9 225,164.3 228,163.7 231,163.1 234,162.5 237,161.8 240,161.1 243,160.5 246,159.7 249,159 252,158.2 255,157.3 258,156.4 261,155.4 264,154.3 267,153.2 270,152.1 273,150.9 276,149.7 279,148.4 282,147.2 285,145.9 288,144.6 291,143.2 294,141.7 297,140.2 300,138.7 303,137.1 306,135.5 309,133.7 312,131.9 315,130 318,128 321,125.9 324,123.7 327,121.4 330,119 333,116.5 336,113.7 339,110.6 342,107.5 345,104.2 348,100.9 351,97.5 354,93.9 357,90.3 360,86.6 363,83 366,79.3 369,75.6 372,71.9 375,68.2 378,64.5 381,60.8 384,57 387,53.3 390,49.6 393,45.9 396,42.2 399,40 468,40 L468,346 60,346Z" fill="url(#g12)"/>
<path d="M60,189.2 63,189 66,188.8 69,188.6 72,188.4 75,188.2 78,188.1 81,187.9 84,187.7 87,187.5 90,187.3 93,187.1 96,186.9 99,186.7 102,186.5 105,186.3 108,186 111,185.8 114,185.6 117,185.3 120,185.1 123,184.8 126,184.6 129,184.3 132,184 135,183.8 138,183.5 141,183.2 144,182.9 147,182.5 150,182.2 153,181.8 156,181.5 159,181 162,180.6 165,180.2 168,179.7 171,179.3 174,178.8 177,178.4 180,177.9 183,177.5 186,177 189,176.6 192,176.1 195,175.7 198,175.2 201,174.8 204,174.3 207,173.8 210,173.3 213,172.8 216,172.2 219,171.7 222,171.1 225,170.6 228,170 231,169.3 234,168.7 237,168 240,167.3 243,166.6 246,165.9 249,165.1 252,164.3 255,163.4 258,162.5 261,161.5 264,160.4 267,159.3 270,158.1 273,156.9 276,155.6 279,154.3 282,153 285,151.7 288,150.3 291,148.9 294,147.4 297,145.8 300,144.2 303,142.5 306,140.8 309,139 312,137.1 315,135.2 318,133.1 321,131 324,128.8 327,126.5 330,124.1 333,121.6 336,118.9 339,116 342,112.9 345,109.7 348,106.5 351,103.1 354,99.7 357,96.1 360,92.4 363,88.7 366,85.1 369,81.4 372,77.6 375,73.9 378,70.1 381,66.4 384,62.6 387,58.9 390,55.2 393,51.4 396,47.7 399,43.9 402,40.2 405,40 468,40 L468,346 60,346Z" fill="url(#g13)"/>
<path d="M60,194.3 63,194.1 66,193.9 69,193.7 72,193.5 75,193.3 78,193.2 81,193 84,192.8 87,192.6 90,192.5 93,192.3 96,192.1 99,191.9 102,191.7 105,191.5 108,191.3 111,191.1 114,190.9 117,190.7 120,190.5 123,190.2 126,190 129,189.8 132,189.5 135,189.3 138,189 141,188.8 144,188.5 147,188.2 150,187.9 153,187.6 156,187.3 159,186.9 162,186.5 165,186.1 168,185.7 171,185.3 174,184.9 177,184.4 180,184 183,183.6 186,183.2 189,182.7 192,182.3 195,181.9 198,181.4 201,181 204,180.5 207,180 210,179.5 213,179 216,178.5 219,178 222,177.4 225,176.8 228,176.2 231,175.6 234,174.9 237,174.2 240,173.5 243,172.8 246,172 249,171.3 252,170.4 255,169.5 258,168.6 261,167.5 264,166.4 267,165.3 270,164.1 273,162.8 276,161.5 279,160.2 282,158.9 285,157.5 288,156.1 291,154.5 294,153 297,151.3 300,149.7 303,148 306,146.2 309,144.3 312,142.3 315,140.3 318,138.2 321,136 324,133.8 327,131.6 330,129.2 333,126.8 336,124.2 339,121.3 342,118.3 345,115.2 348,112.1 351,108.8 354,105.4 357,101.9 360,98.2 363,94.5 366,90.9 369,87.1 372,83.4 375,79.6 378,75.8 381,72 384,68.2 387,64.5 390,60.7 393,56.9 396,53.1 399,49.4 402,45.6 405,41.8 408,40 468,40 L468,346 60,346Z" fill="url(#g14)"/>
<path d="M60,199.3 63,199.2 66,199 69,198.8 72,198.6 75,198.4 78,198.3 81,198.1 84,197.9 87,197.8 90,197.6 93,197.4 96,197.2 99,197.1 102,196.9 105,196.7 108,196.5 111,196.3 114,196.2 117,196 120,195.8 123,195.6 126,195.4 129,195.2 132,195 135,194.8 138,194.6 141,194.4 144,194.2 147,193.9 150,193.7 153,193.4 156,193.1 159,192.7 162,192.4 165,192 168,191.6 171,191.3 174,190.9 177,190.5 180,190.1 183,189.7 186,189.3 189,188.9 192,188.5 195,188.1 198,187.7 201,187.2 204,186.8 207,186.3 210,185.8 213,185.3 216,184.8 219,184.2 222,183.7 225,183.1 228,182.5 231,181.8 234,181.1 237,180.4 240,179.7 243,179 246,178.2 249,177.4 252,176.5 255,175.7 258,174.7 261,173.6 264,172.5 267,171.3 270,170.1 273,168.8 276,167.4 279,166.1 282,164.7 285,163.3 288,161.8 291,160.2 294,158.6 297,156.9 300,155.1 303,153.4 306,151.5 309,149.6 312,147.5 315,145.4 318,143.3 321,141.1 324,138.9 327,136.6 330,134.3 333,132 336,129.4 339,126.7 342,123.8 345,120.8 348,117.7 351,114.4 354,111.1 357,107.6 360,104 363,100.3 366,96.6 369,92.9 372,89.1 375,85.3 378,81.4 381,77.6 384,73.8 387,70 390,66.2 393,62.4 396,58.6 399,54.8 402,51 405,47.2 408,43.4 411,40 468,40 L468,346 60,346Z" fill="url(#g15)"/>
<path d="M60,204.4 63,204.2 66,204.1 69,203.9 72,203.7 75,203.5 78,203.4 81,203.2 84,203.1 87,202.9 90,202.7 93,202.6 96,202.4 99,202.3 102,202.1 105,201.9 108,201.8 111,201.6 114,201.5 117,201.3 120,201.2 123,201 126,200.9 129,200.7 132,200.5 135,200.4 138,200.2 141,200 144,199.8 147,199.6 150,199.4 153,199.2 156,198.9 159,198.6 162,198.3 165,197.9 168,197.6 171,197.3 174,196.9 177,196.5 180,196.2 183,195.8 186,195.4 189,195.1 192,194.7 195,194.3 198,193.9 201,193.5 204,193 207,192.5 210,192 213,191.5 216,191 219,190.5 222,189.9 225,189.3 228,188.7 231,188.1 234,187.4 237,186.6 240,185.9 243,185.1 246,184.4 249,183.5 252,182.7 255,181.8 258,180.8 261,179.7 264,178.5 267,177.3 270,176 273,174.7 276,173.3 279,172 282,170.5 285,169.1 288,167.5 291,165.9 294,164.2 297,162.4 300,160.6 303,158.8 306,156.9 309,154.9 312,152.8 315,150.6 318,148.4 321,146.1 324,143.9 327,141.7 330,139.4 333,137.1 336,134.6 339,132 342,129.2 345,126.3 348,123.2 351,120.1 354,116.8 357,113.4 360,109.8 363,106.1 366,102.4 369,98.7 372,94.8 375,91 378,87.1 381,83.2 384,79.4 387,75.6 390,71.7 393,67.9 396,64.1 399,60.2 402,56.4 405,52.6 408,48.7 411,44.9 414,41.1 417,40 468,40 L468,346 60,346Z" fill="url(#g16)"/>
<path d="M60,209.5 63,209.3 66,209.1 69,209 72,208.8 75,208.6 78,208.5 81,208.3 84,208.2 87,208 90,207.9 93,207.7 96,207.6 99,207.4 102,207.3 105,207.2 108,207 111,206.9 114,206.8 117,206.6 120,206.5 123,206.4 126,206.3 129,206.2 132,206 135,205.9 138,205.8 141,205.6 144,205.5 147,205.3 150,205.2 153,204.9 156,204.7 159,204.4 162,204.1 165,203.8 168,203.5 171,203.2 174,202.9 177,202.6 180,202.3 183,201.9 186,201.6 189,201.2 192,200.9 195,200.5 198,200.1 201,199.7 204,199.2 207,198.8 210,198.3 213,197.8 216,197.3 219,196.7 222,196.2 225,195.6 228,195 231,194.3 234,193.6 237,192.9 240,192.1 243,191.3 246,190.5 249,189.7 252,188.8 255,187.9 258,186.9 261,185.8 264,184.6 267,183.3 270,182 273,180.7 276,179.2 279,177.8 282,176.4 285,174.9 288,173.3 291,171.6 294,169.8 297,168 300,166.1 303,164.2 306,162.2 309,160.1 312,158 315,155.7 318,153.5 321,151.2 324,149 327,146.7 330,144.5 333,142.3 336,139.9 339,137.4 342,134.7 345,131.8 348,128.8 351,125.7 354,122.5 357,119.1 360,115.6 363,111.9 366,108.2 369,104.4 372,100.6 375,96.7 378,92.7 381,88.9 384,85 387,81.1 390,77.3 393,73.4 396,69.5 399,65.7 402,61.8 405,57.9 408,54.1 411,50.2 414,46.3 417,42.5 420,40 468,40 L468,346 60,346Z" fill="url(#g17)"/>
<path d="M60,214.5 63,214.4 66,214.2 69,214.1 72,213.9 75,213.7 78,213.6 81,213.4 84,213.3 87,213.2 90,213 93,212.9 96,212.8 99,212.6 102,212.5 105,212.4 108,212.3 111,212.2 114,212.1 117,212 120,211.9 123,211.8 126,211.7 129,211.6 132,211.5 135,211.5 138,211.4 141,211.3 144,211.2 147,211 150,210.9 153,210.7 156,210.5 159,210.3 162,210 165,209.8 168,209.5 171,209.2 174,208.9 177,208.6 180,208.3 183,208 186,207.7 189,207.4 192,207 195,206.7 198,206.3 201,205.9 204,205.5 207,205 210,204.5 213,204 216,203.5 219,203 222,202.4 225,201.8 228,201.2 231,200.5 234,199.8 237,199.1 240,198.3 243,197.5 246,196.7 249,195.8 252,194.9 255,194 258,193 261,191.9 264,190.6 267,189.4 270,188 273,186.6 276,185.2 279,183.7 282,182.2 285,180.7 288,179 291,177.3 294,175.4 297,173.5 300,171.6 303,169.6 306,167.6 309,165.4 312,163.2 315,160.9 318,158.6 321,156.3 324,154 327,151.8 330,149.6 333,147.4 336,145.1 339,142.7 342,140.1 345,137.4 348,134.4 351,131.4 354,128.2 357,124.9 360,121.4 363,117.7 366,114 369,110.2 372,106.3 375,102.3 378,98.4 381,94.5 384,90.6 387,86.7 390,82.8 393,78.9 396,75 399,71.1 402,67.2 405,63.3 408,59.4 411,55.5 414,51.6 417,47.7 420,43.8 423,40 468,40 L468,346 60,346Z" fill="url(#g18)"/>
<path d="M60,225.7 63,225.6 66,225.4 69,225.3 72,225.1 75,224.9 78,224.7 81,224.5 84,224.3 87,224.1 90,223.9 93,223.8 96,223.6 99,223.4 102,223.2 105,223.1 108,222.9 111,222.8 114,222.6 117,222.5 120,222.3 123,222.2 126,222.1 129,221.9 132,221.8 135,221.7 138,221.5 141,221.4 144,221.2 147,221.1 150,220.9 153,220.7 156,220.6 159,220.4 162,220.2 165,220 168,219.8 171,219.6 174,219.3 177,219.1 180,218.8 183,218.6 186,218.3 189,218 192,217.7 195,217.4 198,217.1 201,216.8 204,216.5 207,216.1 210,215.8 213,215.4 216,215 219,214.6 222,214.2 225,213.8 228,213.3 231,212.7 234,212.2 237,211.5 240,210.9 243,210 246,209.2 249,208.3 252,207.3 255,206.3 258,205.3 261,204.1 264,202.8 267,201.5 270,200.1 273,198.6 276,197.1 279,195.5 282,193.8 285,192.1 288,190.3 291,188.4 294,186.4 297,184.3 300,182.2 303,180 306,177.8 309,175.5 312,173.2 315,170.9 318,168.6 321,166.3 324,164 327,161.8 330,159.6 333,157.4 336,155.1 339,152.7 342,150.1 345,147.4 348,144.4 351,141.4 354,138.2 357,134.9 360,131.4 363,127.7 366,124 369,120.2 372,116.3 375,112.3 378,108.4 381,104.5 384,100.6 387,96.7 390,92.8 393,88.9 396,85 399,81.1 402,77.2 405,73.3 408,69.4 411,65.5 414,61.6 417,57.7 420,53.8 423,49.9 426,46 429,42.1 432,40 468,40 L468,346 60,346Z" fill="url(#g19)"/>
<path d="M60,228.1 63,227.9 66,227.8 69,227.7 72,227.5 75,227.4 78,227.2 81,227 84,226.9 87,226.7 90,226.6 93,226.4 96,226.3 99,226.1 102,226 105,225.8 108,225.7 111,225.6 114,225.4 117,225.3 120,225.2 123,225.1 126,225 129,224.9 132,224.8 135,224.6 138,224.5 141,224.4 144,224.2 147,224.1 150,223.9 153,223.8 156,223.7 159,223.5 162,223.3 165,223.1 168,222.9 171,222.7 174,222.5 177,222.3 180,222 183,221.8 186,221.5 189,221.2 192,221 195,220.7 198,220.4 201,220.1 204,219.8 207,219.4 210,219.1 213,218.8 216,218.4 219,218 222,217.6 225,217.2 228,216.7 231,216.2 234,215.7 237,215.1 240,214.4 243,213.6 246,212.8 249,211.9 252,211 255,210.1 258,209 261,207.9 264,206.6 267,205.4 270,204 273,202.6 276,201.1 279,199.6 282,198 285,196.3 288,194.5 291,192.6 294,190.7 297,188.7 300,186.6 303,184.5 306,182.4 309,180.2 312,178 315,175.7 318,173.5 321,171.3 324,169.1 327,167 330,164.9 333,162.7 336,160.5 339,158.1 342,155.5 345,152.8 348,149.9 351,146.9 354,143.8 357,140.5 360,137.1 363,133.6 366,129.9 369,126.2 372,122.4 375,118.4 378,114.5 381,110.6 384,106.7 387,102.8 390,99.1 393,95.3 396,91.4 399,87.6 402,83.7 405,79.9 408,76.1 411,72.2 414,68.4 417,64.6 420,60.8 423,56.9 426,53.1 429,49.3 432,45.4 435,41.6 438,40 468,40 L468,346 60,346Z" fill="url(#g20)"/>
<path d="M60,230.4 63,230.3 66,230.2 69,230.1 72,229.9 75,229.8 78,229.7 81,229.6 84,229.5 87,229.3 90,229.2 93,229.1 96,229 99,228.8 102,228.7 105,228.6 108,228.5 111,228.4 114,228.3 117,228.2 120,228.1 123,228 126,227.9 129,227.8 132,227.7 135,227.6 138,227.5 141,227.4 144,227.3 147,227.1 150,227 153,226.9 156,226.7 159,226.6 162,226.4 165,226.3 168,226.1 171,225.9 174,225.7 177,225.4 180,225.2 183,225 186,224.7 189,224.5 192,224.2 195,223.9 198,223.6 201,223.3 204,223 207,222.7 210,222.4 213,222.1 216,221.7 219,221.4 222,221 225,220.6 228,220.2 231,219.7 234,219.2 237,218.6 240,218 243,217.3 246,216.5 249,215.6 252,214.7 255,213.8 258,212.7 261,211.6 264,210.5 267,209.2 270,207.9 273,206.6 276,205.1 279,203.6 282,202.1 285,200.5 288,198.8 291,196.9 294,195 297,193.1 300,191.1 303,189 306,187 309,184.8 312,182.7 315,180.6 318,178.5 321,176.4 324,174.3 327,172.2 330,170.1 333,168 336,165.8 339,163.5 342,161 345,158.3 348,155.4 351,152.4 354,149.3 357,146.2 360,142.9 363,139.4 366,135.8 369,132.2 372,128.4 375,124.5 378,120.5 381,116.6 384,112.7 387,109 390,105.3 393,101.6 396,97.9 399,94.1 402,90.3 405,86.5 408,82.8 411,79 414,75.2 417,71.5 420,67.7 423,64 426,60.2 429,56.4 432,52.7 435,48.9 438,45.2 441,41.4 444,40 468,40 L468,346 60,346Z" fill="url(#g21)"/>
<path d="M60,232.7 63,232.6 66,232.5 69,232.5 72,232.4 75,232.3 78,232.2 81,232.1 84,232 87,231.9 90,231.8 93,231.7 96,231.7 99,231.6 102,231.5 105,231.4 108,231.3 111,231.2 114,231.1 117,231 120,230.9 123,230.9 126,230.8 129,230.7 132,230.6 135,230.5 138,230.5 141,230.4 144,230.3 147,230.2 150,230 153,229.9 156,229.8 159,229.7 162,229.5 165,229.4 168,229.2 171,229 174,228.8 177,228.6 180,228.4 183,228.2 186,227.9 189,227.7 192,227.4 195,227.2 198,226.9 201,226.6 204,226.3 207,226 210,225.7 213,225.4 216,225.1 219,224.7 222,224.4 225,224 228,223.6 231,223.1 234,222.6 237,222.1 240,221.5 243,220.9 246,220.1 249,219.3 252,218.4 255,217.5 258,216.5 261,215.4 264,214.3 267,213.1 270,211.8 273,210.5 276,209.2 279,207.7 282,206.2 285,204.7 288,203 291,201.2 294,199.4 297,197.5 300,195.5 303,193.6 306,191.6 309,189.5 312,187.5 315,185.5 318,183.4 321,181.4 324,179.4 327,177.4 330,175.4 333,173.3 336,171.1 339,168.9 342,166.4 345,163.7 348,160.9 351,158 354,154.9 357,151.8 360,148.6 363,145.2 366,141.8 369,138.2 372,134.4 375,130.5 378,126.6 381,122.7 384,118.8 387,115.1 390,111.6 393,108 396,104.3 399,100.6 402,96.8 405,93.1 408,89.4 411,85.8 414,82.1 417,78.4 420,74.7 423,71 426,67.3 429,63.6 432,59.9 435,56.2 438,52.6 441,48.9 444,45.2 447,41.5 450,40 468,40 L468,346 60,346Z" fill="url(#g22)"/>
<path d="M60,235 63,235 66,234.9 69,234.9 72,234.8 75,234.8 78,234.7 81,234.6 84,234.6 87,234.5 90,234.5 93,234.4 96,234.3 99,234.3 102,234.2 105,234.1 108,234.1 111,234 114,233.9 117,233.9 120,233.8 123,233.8 126,233.7 129,233.6 132,233.6 135,233.5 138,233.4 141,233.3 144,233.3 147,233.2 150,233.1 153,233 156,232.9 159,232.8 162,232.7 165,232.5 168,232.3 171,232.2 174,232 177,231.8 180,231.6 183,231.4 186,231.2 189,230.9 192,230.7 195,230.4 198,230.2 201,229.9 204,229.6 207,229.3 210,229 213,228.7 216,228.4 219,228.1 222,227.8 225,227.4 228,227 231,226.6 234,226.1 237,225.6 240,225.1 243,224.5 246,223.8 249,222.9 252,222.1 255,221.2 258,220.2 261,219.2 264,218.1 267,216.9 270,215.7 273,214.5 276,213.2 279,211.8 282,210.4 285,208.8 288,207.2 291,205.5 294,203.7 297,201.8 300,200 303,198.1 306,196.2 309,194.2 312,192.3 315,190.3 318,188.4 321,186.5 324,184.5 327,182.6 330,180.6 333,178.6 336,176.5 339,174.2 342,171.8 345,169.2 348,166.4 351,163.5 354,160.5 357,157.5 360,154.3 363,151 366,147.7 369,144.2 372,140.5 375,136.6 378,132.7 381,128.7 384,124.9 387,121.3 390,117.8 393,114.3 396,110.7 399,107 402,103.4 405,99.7 408,96.1 411,92.5 414,88.9 417,85.3 420,81.7 423,78 426,74.4 429,70.8 432,67.2 435,63.6 438,59.9 441,56.3 444,52.7 447,49.1 450,45.5 453,41.9 456,40 468,40 L468,346 60,346Z" fill="url(#g23)"/>
<path d="M60,237.4 66,237.3 72,237.2 84,237.2 90,237.1 96,237 102,237 108,236.9 114,236.8 120,236.7 126,236.6 132,236.5 135,236.5 138,236.4 141,236.3 144,236.3 147,236.2 150,236.1 153,236.1 156,236 159,235.9 162,235.8 165,235.6 168,235.5 171,235.3 174,235.2 177,235 180,234.8 183,234.6 186,234.4 189,234.2 192,233.9 195,233.7 198,233.4 201,233.2 204,232.9 207,232.6 210,232.4 213,232.1 216,231.8 219,231.5 222,231.1 225,230.8 228,230.5 231,230.1 234,229.6 237,229.2 240,228.7 243,228.1 246,227.4 249,226.6 252,225.8 255,224.9 258,224 261,222.9 264,221.9 267,220.8 270,219.7 273,218.5 276,217.2 279,215.9 282,214.5 285,213 288,211.4 291,209.8 294,208 297,206.2 300,204.4 303,202.6 306,200.7 309,198.9 312,197 315,195.2 318,193.4 321,191.5 324,189.6 327,187.8 330,185.9 333,183.9 336,181.8 339,179.6 342,177.2 345,174.6 348,171.9 351,169 354,166.1 357,163.1 360,160 363,156.9 366,153.6 369,150.1 372,146.5 375,142.7 378,138.7 381,134.8 384,131 387,127.4 390,124.1 393,120.7 396,117.1 399,113.5 402,109.9 405,106.3 408,102.8 411,99.2 414,95.7 417,92.2 420,88.6 423,85.1 426,81.5 429,78 432,74.4 435,70.9 438,67.3 441,63.8 444,60.2 447,56.7 450,53.2 453,49.6 456,46.1 459,42.5 462,40 468,40 L468,346 60,346Z" fill="url(#g24)"/>
<path d="M60,239.7 111,239.6 120,239.6 126,239.5 132,239.4 138,239.4 144,239.3 147,239.2 150,239.2 153,239.1 156,239.1 159,239 162,238.9 165,238.8 168,238.6 171,238.5 174,238.3 177,238.2 180,238 183,237.8 186,237.6 189,237.4 192,237.2 195,236.9 198,236.7 201,236.4 204,236.2 207,235.9 210,235.7 213,235.4 216,235.1 219,234.8 222,234.5 225,234.2 228,233.9 231,233.5 234,233.1 237,232.7 240,232.2 243,231.7 246,231.1 249,230.3 252,229.5 255,228.6 258,227.7 261,226.7 264,225.7 267,224.7 270,223.6 273,222.4 276,221.2 279,220 282,218.6 285,217.2 288,215.7 291,214.1 294,212.4 297,210.6 300,208.9 303,207.1 306,205.3 309,203.6 312,201.8 315,200.1 318,198.3 321,196.5 324,194.8 327,193 330,191.1 333,189.2 336,187.2 339,185 342,182.6 345,180.1 348,177.4 351,174.6 354,171.7 357,168.7 360,165.8 363,162.7 366,159.5 369,156.1 372,152.6 375,148.7 378,144.8 381,140.8 384,137 387,133.6 390,130.3 393,127 396,123.6 399,120 402,116.4 405,113 408,109.5 411,106 414,102.5 417,99 420,95.6 423,92.1 426,88.6 429,85.2 432,81.7 435,78.2 438,74.7 441,71.2 444,67.8 447,64.3 450,60.8 453,57.3 456,53.9 459,50.4 462,46.9 465,43.5 468,40 L468,346 60,346Z" fill="url(#g25)"/>
<path d="M60,242 72,242.1 75,242.1 78,242.2 81,242.2 87,242.3 93,242.4 105,242.4 129,242.4 138,242.3 144,242.3 150,242.2 153,242.2 156,242.1 159,242.1 162,242 165,241.9 168,241.8 171,241.6 174,241.5 177,241.3 180,241.2 183,241 186,240.8 189,240.6 192,240.4 195,240.2 198,240 201,239.7 204,239.5 207,239.2 210,239 213,238.7 216,238.5 219,238.2 222,237.9 225,237.6 228,237.3 231,237 234,236.6 237,236.2 240,235.8 243,235.3 246,234.7 249,234 252,233.2 255,232.3 258,231.4 261,230.5 264,229.5 267,228.5 270,227.5 273,226.4 276,225.2 279,224 282,222.8 285,221.4 288,219.9 291,218.3 294,216.7 297,215 300,213.3 303,211.6 306,209.9 309,208.3 312,206.6 315,204.9 318,203.3 321,201.6 324,199.9 327,198.1 330,196.3 333,194.5 336,192.5 339,190.4 342,188.1 345,185.5 348,182.9 351,180.1 354,177.3 357,174.4 360,171.5 363,168.5 366,165.4 369,162.1 372,158.6 375,154.8 378,150.9 381,146.9 384,143.1 387,139.7 390,136.6 393,133.4 396,130 399,126.5 402,123 405,119.6 408,116.2 411,112.8 414,109.3 417,105.9 420,102.5 423,99.1 426,95.7 429,92.3 432,88.9 435,85.5 438,82.1 441,78.7 444,75.3 447,71.9 450,68.5 453,65.1 456,61.7 459,58.3 462,54.9 465,51.5 468,48.1 L468,346 60,346Z" fill="url(#g26)"/>
<path d="M60,244.3 66,244.4 72,244.5 75,244.6 78,244.7 81,244.8 84,244.9 87,244.9 90,245 93,245 99,245.1 105,245.2 114,245.3 156,245.2 159,245.2 162,245.1 165,245 168,244.9 171,244.8 174,244.7 177,244.5 180,244.4 183,244.2 186,244 189,243.8 192,243.6 195,243.4 198,243.2 201,243 204,242.8 207,242.5 210,242.3 213,242.1 216,241.8 219,241.6 222,241.3 225,241.1 228,240.8 231,240.5 234,240.1 237,239.8 240,239.3 243,238.9 246,238.4 249,237.6 252,236.9 255,236.1 258,235.2 261,234.2 264,233.3 267,232.4 270,231.4 273,230.3 276,229.2 279,228.1 282,226.9 285,225.6 288,224.1 291,222.6 294,221 297,219.4 300,217.8 303,216.1 306,214.5 309,212.9 312,211.4 315,209.8 318,208.2 321,206.6 324,205 327,203.3 330,201.6 333,199.8 336,197.8 339,195.8 342,193.5 345,191 348,188.3 351,185.6 354,182.8 357,180 360,177.2 363,174.3 366,171.3 369,168.1 372,164.7 375,160.9 378,156.9 381,153 384,149.2 387,145.9 390,142.8 393,139.7 396,136.4 399,133 402,129.5 405,126.2 408,122.8 411,119.5 414,116.2 417,112.8 420,109.5 423,106.2 426,102.8 429,99.5 432,96.2 435,92.8 438,89.5 441,86.2 444,82.8 447,79.5 450,76.2 453,72.8 456,69.5 459,66.2 462,62.8 465,59.5 468,56.2 L468,346 60,346Z" fill="url(#g27)"/>
<path d="M60,245.8 66,245.9 72,246 75,246.1 78,246.2 81,246.3 84,246.4 87,246.5 90,246.5 93,246.6 96,246.7 99,246.7 105,246.8 111,246.9 120,246.9 138,247 159,246.9 162,246.9 165,246.8 168,246.7 171,246.6 174,246.5 177,246.3 180,246.2 183,246 186,245.9 189,245.7 192,245.5 195,245.3 198,245.1 201,244.9 204,244.7 207,244.4 210,244.2 213,244 216,243.7 219,243.5 222,243.2 225,243 228,242.7 231,242.4 234,242.1 237,241.7 240,241.3 243,240.9 246,240.4 249,239.9 252,239.4 255,238.9 258,238.3 261,237.6 264,236.8 267,236 270,235.1 273,234.2 276,233.2 279,232.2 282,231.1 285,229.9 288,228.6 291,227.2 294,225.8 297,224.3 300,222.8 303,221.2 306,219.7 309,218.2 312,216.7 315,215.3 318,213.8 321,212.3 324,210.7 327,209.1 330,207.5 333,205.8 336,203.9 339,202 342,199.8 345,197.5 348,195.1 351,192.6 354,190 357,187.5 360,184.9 363,182.2 366,179.4 369,176.5 372,173.4 375,169.9 378,166.2 381,162.6 384,159.1 387,155.9 390,153 393,150 396,146.8 399,143.5 402,140 405,136.7 408,133.3 411,130 414,126.7 417,123.3 420,120 423,116.7 426,113.3 429,110 432,106.7 435,103.3 438,100 441,96.7 444,93.3 447,90 450,86.7 453,83.3 456,80 459,76.7 462,73.3 465,70 468,66.7 L468,346 60,346Z" fill="url(#g28)"/>
<path d="M60,247.3 66,247.4 72,247.5 75,247.6 78,247.7 81,247.8 84,247.9 87,248 90,248.1 93,248.2 96,248.2 99,248.3 102,248.4 108,248.4 114,248.5 120,248.6 129,248.6 141,248.7 159,248.7 162,248.6 165,248.5 168,248.5 171,248.4 174,248.3 177,248.1 180,248 183,247.8 186,247.7 189,247.5 192,247.3 195,247.1 198,246.9 201,246.7 204,246.5 207,246.3 210,246.1 213,245.9 216,245.6 219,245.4 222,245.2 225,244.9 228,244.7 231,244.4 234,244.1 237,243.7 240,243.3 243,242.9 246,242.5 249,242.3 252,242 255,241.7 258,241.3 261,240.9 264,240.3 267,239.6 270,238.9 273,238.1 276,237.2 279,236.3 282,235.4 285,234.3 288,233.1 291,231.9 294,230.5 297,229.2 300,227.8 303,226.3 306,224.9 309,223.5 312,222.1 315,220.7 318,219.3 321,217.9 324,216.5 327,215 330,213.4 333,211.7 336,210 339,208.1 342,206.2 345,204.1 348,201.9 351,199.6 354,197.2 357,194.9 360,192.5 363,190.1 366,187.5 369,184.9 372,182.1 375,178.9 378,175.5 381,172.2 384,169 387,166 390,163.2 393,160.3 396,157.2 399,153.9 402,150.5 405,147.2 408,143.8 411,140.5 414,137.2 417,133.8 420,130.5 423,127.2 426,123.8 429,120.5 432,117.2 435,113.8 438,110.5 441,107.2 444,103.8 447,100.5 450,97.2 453,93.8 456,90.5 459,87.2 462,83.8 465,80.5 468,77.2 L468,346 60,346Z" fill="url(#g29)"/>
<path d="M60,249.7 66,249.7 72,249.8 75,249.9 78,249.9 81,250 84,250.1 87,250.2 90,250.2 93,250.3 96,250.3 102,250.4 108,250.5 114,250.5 123,250.6 132,250.7 135,250.7 138,250.8 141,250.8 144,250.9 147,251 150,251.1 153,251.2 159,251.3 168,251.2 171,251.1 174,251 177,251 180,250.9 183,250.8 186,250.6 189,250.5 192,250.4 195,250.3 198,250.1 201,250 204,249.8 207,249.6 210,249.5 213,249.3 216,249.1 219,248.9 222,248.8 225,248.6 228,248.3 231,248.1 234,247.7 237,247.4 240,247 243,246.5 246,246.1 249,245.8 252,245.4 255,245 258,244.5 261,244 264,243.3 267,242.6 270,241.8 273,241 276,240.2 279,239.3 282,238.3 285,237.2 288,236.1 291,234.9 294,233.6 297,232.3 300,230.9 303,229.5 306,228 309,226.6 312,225.1 315,223.7 318,222.2 321,220.8 324,219.3 327,217.9 330,216.4 333,214.8 336,213.2 339,211.5 342,209.7 345,207.8 348,205.8 351,203.7 354,201.6 357,199.5 360,197.4 363,195.2 366,193 369,190.7 372,188.2 375,185.5 378,182.6 381,179.7 384,177 387,174.5 390,172 393,169.5 396,166.9 399,164.1 402,161.2 405,158.4 408,155.6 411,152.7 414,149.9 417,146.9 420,143.7 423,140.4 426,137 429,133.7 432,130.5 435,127.3 438,124 441,120.8 444,117.5 447,114.3 450,111 453,107.8 456,104.5 459,101.3 462,98 465,94.8 468,91.5 L468,346 60,346Z" fill="url(#g30)"/>
<path d="M60,252 72,252.1 75,252.1 78,252.2 84,252.3 90,252.3 96,252.4 102,252.5 111,252.5 120,252.6 132,252.7 135,252.8 138,252.9 141,253 144,253.2 147,253.4 150,253.5 153,253.6 156,253.7 159,253.8 177,253.8 180,253.7 183,253.7 186,253.6 189,253.5 192,253.5 195,253.4 198,253.3 201,253.2 204,253.1 207,253 210,252.8 213,252.7 216,252.6 219,252.5 222,252.3 225,252.2 228,252 231,251.7 234,251.4 237,251 240,250.6 243,250.1 246,249.7 249,249.3 252,248.8 255,248.3 258,247.7 261,247 264,246.3 267,245.6 270,244.8 273,243.9 276,243.1 279,242.2 282,241.2 285,240.2 288,239.1 291,237.9 294,236.7 297,235.4 300,234.1 303,232.7 306,231.2 309,229.7 312,228.1 315,226.6 318,225.1 321,223.7 324,222.2 327,220.8 330,219.4 333,217.9 336,216.4 339,214.8 342,213.2 345,211.4 348,209.7 351,207.8 354,206 357,204.1 360,202.3 363,200.4 366,198.5 369,196.5 372,194.4 375,192.1 378,189.7 381,187.3 384,185.1 387,182.9 390,180.9 393,178.8 396,176.6 399,174.3 402,171.9 405,169.6 408,167.3 411,165 414,162.6 417,160 420,156.9 423,153.5 426,150.2 429,147 432,143.8 435,140.7 438,137.5 441,134.3 444,131.2 447,128 450,124.9 453,121.7 456,118.5 459,115.4 462,112.2 465,109 468,105.9 L468,346 60,346Z" fill="url(#g31)"/>
<path d="M60,254.3 78,254.4 87,254.4 96,254.5 108,254.5 123,254.6 129,254.6 132,254.7 135,254.8 138,254.9 141,255.1 144,255.4 147,255.7 150,255.9 153,256.1 156,256.3 159,256.4 162,256.5 168,256.6 195,256.5 201,256.4 204,256.3 207,256.3 210,256.2 213,256.2 216,256.1 219,256 222,255.9 225,255.8 228,255.7 231,255.4 234,255.1 237,254.7 240,254.2 243,253.8 246,253.3 249,252.8 252,252.2 255,251.5 258,250.8 261,250.1 264,249.3 267,248.5 270,247.7 273,246.9 276,246 279,245.1 282,244.1 285,243.1 288,242.1 291,241 294,239.8 297,238.6 300,237.3 303,235.9 306,234.4 309,232.8 312,231.2 315,229.6 318,228 321,226.5 324,225.1 327,223.7 330,222.4 333,221 336,219.6 339,218.1 342,216.6 345,215.1 348,213.6 351,212 354,210.4 357,208.7 360,207.2 363,205.5 366,203.9 369,202.3 372,200.5 375,198.7 378,196.8 381,194.9 384,193.1 387,191.4 390,189.7 393,188 396,186.3 399,184.4 402,182.6 405,180.8 408,179.1 411,177.2 414,175.3 417,173.1 420,170.1 423,166.7 426,163.4 429,160.2 432,157.2 435,154.1 438,151 441,147.9 444,144.9 447,141.8 450,138.7 453,135.6 456,132.5 459,129.5 462,126.4 465,123.3 468,120.2 L468,346 60,346Z" fill="url(#g32)"/>
<path d="M60,256.6 81,256.6 129,256.6 132,256.7 135,256.8 138,257 141,257.3 144,257.7 147,258 150,258.3 153,258.5 156,258.8 159,259 162,259.1 165,259.2 168,259.3 171,259.3 174,259.4 180,259.5 186,259.5 195,259.6 219,259.5 225,259.5 228,259.3 231,259.1 234,258.7 237,258.3 240,257.9 243,257.4 246,256.9 249,256.3 252,255.6 255,254.8 258,254 261,253.2 264,252.3 267,251.5 270,250.7 273,249.8 276,248.9 279,248 282,247.1 285,246.1 288,245.1 291,244 294,242.9 297,241.7 300,240.5 303,239.1 306,237.5 309,235.9 312,234.2 315,232.5 318,230.9 321,229.4 324,228 327,226.7 330,225.3 333,224 336,222.8 339,221.4 342,220.1 345,218.8 348,217.4 351,216.1 354,214.7 357,213.4 360,212 363,210.7 366,209.4 369,208 372,206.7 375,205.3 378,203.9 381,202.5 384,201.1 387,199.8 390,198.6 393,197.3 396,196 399,194.6 402,193.3 405,192 408,190.8 411,189.5 414,188 417,186.2 420,183.3 423,179.9 426,176.5 429,173.5 432,170.5 435,167.5 438,164.5 441,161.5 444,158.5 447,155.5 450,152.5 453,149.5 456,146.5 459,143.5 462,140.5 465,137.6 468,134.6 L468,346 60,346Z" fill="url(#g33)"/>
<path d="M60,254.5 72,254.4 78,254.3 84,254.2 90,254.2 99,254.1 129,254.1 132,254.2 135,254.4 138,254.6 141,254.9 144,255.4 147,255.8 150,256.2 153,256.5 156,256.8 159,257.1 162,257.3 165,257.4 168,257.5 171,257.6 174,257.7 177,257.7 180,257.8 183,257.9 186,258 189,258.1 192,258.1 195,258.2 198,258.3 201,258.3 204,258.4 210,258.5 216,258.5 225,258.6 228,258.5 231,258.2 234,257.9 237,257.5 240,257 243,256.9 246,256.7 249,256.4 252,256 255,255.5 258,255 261,254.5 264,253.9 267,253.5 270,253 273,252.5 276,251.9 L276,346 60,346Z" fill="url(#g34)"/>
<path d="M60,259 72,258.9 78,258.8 84,258.7 90,258.7 99,258.6 129,258.6 132,258.7 135,258.9 138,259.1 141,259.4 144,259.9 147,260.3 150,260.7 153,261 156,261.3 159,261.6 162,261.8 165,261.9 168,262 171,262.1 174,262.2 177,262.2 180,262.3 183,262.4 186,262.5 189,262.6 192,262.6 195,262.7 198,262.8 201,262.8 204,262.9 210,263 216,263 225,263.1 228,263 231,262.7 234,262.4 237,262 240,261.5 243,261 246,260.5 249,259.8 252,259 255,258.1 258,257.2 261,256.3 264,255.4 267,254.5 270,253.6 273,252.7 276,251.9 279,250.9 282,250 285,249 288,248 291,247 294,246 297,244.8 300,243.6 303,242.3 306,240.7 309,239 312,237.2 315,235.5 318,233.8 321,232.3 324,230.9 327,229.6 330,228.3 333,227.1 336,225.9 339,224.8 342,223.6 345,222.5 348,221.3 351,220.2 354,219.1 357,218 360,216.9 363,215.9 366,214.8 369,213.8 372,212.8 375,211.9 378,211 381,210.1 384,209.2 387,208.3 390,207.4 393,206.5 396,205.7 399,204.8 402,204 405,203.2 408,202.5 411,201.7 414,200.7 417,199.2 420,196.5 423,193.1 426,189.7 429,186.7 432,183.8 435,180.9 438,178 441,175.1 444,172.2 447,169.3 450,166.4 453,163.5 456,160.6 459,157.6 462,154.7 465,151.8 468,148.9 L468,346 60,346Z" fill="url(#g35)"/>
<path d="M60,259.5 72,259.4 78,259.3 84,259.2 90,259.2 99,259.1 129,259.1 132,259.2 135,259.4 138,259.6 141,259.9 144,260.4 147,260.8 150,261.2 153,261.5 156,261.8 159,262.1 162,262.3 165,262.4 168,262.5 171,262.6 174,262.7 177,262.7 180,262.8 183,262.9 186,263 189,263.1 192,263.1 195,263.2 198,263.3 201,263.3 204,263.4 210,263.5 216,263.5 225,263.6 228,263.5 231,263.2 234,262.9 237,262.5 240,262 243,261.5 246,261 249,260.3 252,259.5 255,258.6 258,257.7 261,256.8 264,255.9 267,255 270,254.1 273,253.2 276,252.4 279,251.4 282,250.5 285,249.5 288,248.5 291,247.5 294,246.5 297,245.3 300,244.1 303,242.8 306,241.2 309,239.5 312,237.7 315,236 318,234.3 321,232.8 324,231.4 327,230.1 330,228.8 333,227.6 336,226.4 339,225.3 342,224.1 345,223 348,221.8 351,220.7 354,219.6 357,218.5 360,217.4 363,216.4 366,215.3 369,214.3 372,213.3 375,212.4 378,211.5 381,210.7 384,210.3 387,209.8 390,209.4 393,209 396,208.6 399,208.1 402,207.6 405,207 408,206.4 411,205.8 414,204.9 417,203.6 420,201 423,197.8 426,194.5 429,191.7 432,188.8 435,185.9 438,183 441,180.1 444,177.2 447,174.3 450,171.4 453,168.5 456,165.6 459,162.6 462,159.7 465,156.8 468,153.9 L468,346 60,346Z" fill="url(#g36)"/></g>
<g mask="url(#cB)"><path d="M294,40 516,40 L516,346 294,346Z" fill="#0000f2"/>
<path d="M294,140.4 297,137 300,133.7 303,130.4 306,127 309,123.7 312,120.4 315,117.1 318,113.7 321,110.4 324,107.1 327,103.7 330,100.4 333,97.1 336,93.8 339,90.4 342,87.1 345,83.8 348,80.4 351,77.1 354,73.8 357,70.5 360,67.1 363,63.8 366,60.5 369,57.1 372,53.8 375,50.5 378,47.2 381,43.8 384,40.5 387,40 516,40 L516,346 294,346Z" fill="#0000ff"/>
<path d="M294,149.4 297,146 300,142.7 303,139.4 306,136 309,132.7 312,129.4 315,126.1 318,122.7 321,119.4 324,116.1 327,112.7 330,109.4 333,106.1 336,102.8 339,99.4 342,96.1 345,92.8 348,89.4 351,86.1 354,82.8 357,79.5 360,76.1 363,72.8 366,69.5 369,66.1 372,62.8 375,59.5 378,56.2 381,52.8 384,49.5 387,46.2 390,42.9 393,40 516,40 L516,346 294,346Z" fill="#0000ea"/>
<path d="M294,164.4 297,161 300,157.7 303,154.4 306,151 309,147.7 312,144.4 315,141.1 318,137.7 321,134.4 324,131.1 327,127.7 330,124.4 333,121.1 336,117.8 339,114.4 342,111.1 345,107.8 348,104.4 351,101.1 354,97.8 357,94.5 360,91.1 363,87.8 366,84.5 369,81.1 372,77.8 375,74.5 378,71.2 381,67.8 384,64.5 387,61.2 390,57.9 393,54.5 396,51.2 399,47.9 402,44.5 405,41.2 408,40 516,40 L516,346 294,346Z" fill="#0005ff"/>
<path d="M294,173.4 297,170 300,166.7 303,163.4 306,160 309,156.7 312,153.4 315,150.1 318,146.7 321,143.4 324,140.1 327,136.7 330,133.4 333,130.1 336,126.8 339,123.4 342,120.1 345,116.8 348,113.4 351,110.1 354,106.8 357,103.5 360,100.1 363,96.8 366,93.5 369,90.1 372,86.8 375,83.5 378,80.2 381,76.8 384,73.5 387,70.2 390,66.9 393,63.5 396,60.2 399,56.9 402,53.5 405,50.2 408,46.9 411,43.6 414,40.2 417,40 516,40 L516,346 294,346Z" fill="#0000f2"/>
<path d="M294,182.4 297,179 300,175.7 303,172.4 306,169 309,165.7 312,162.4 315,159.1 318,155.7 321,152.4 324,149.1 327,145.7 330,142.4 333,139.1 336,135.8 339,132.4 342,129.1 345,125.8 348,122.4 351,119.1 354,115.8 357,112.5 360,109.1 363,105.8 366,102.5 369,99.1 372,95.8 375,92.5 378,89.2 381,85.8 384,82.5 387,79.2 390,75.9 393,72.5 396,69.2 399,65.9 402,62.5 405,59.2 408,55.9 411,52.6 414,49.2 417,45.9 420,42.6 423,40 516,40 L516,346 294,346Z" fill="#0094ff"/>
<path d="M294,188.5 297,185.2 300,181.9 303,178.5 306,175.2 309,171.9 312,168.6 315,165.2 318,161.9 321,158.6 324,155.3 327,151.9 330,148.6 333,145.3 336,142 339,138.7 342,135.3 345,132 348,128.7 351,125.4 354,122 357,118.7 360,115.4 363,112.1 366,108.7 369,105.4 372,102.1 375,98.8 378,95.4 381,92.1 384,88.8 387,85.5 390,82.2 393,78.8 396,75.5 399,72.2 402,68.9 405,65.5 408,62.2 411,58.9 414,55.6 417,52.2 420,48.9 423,45.6 426,42.3 429,40 516,40 L516,346 294,346Z" fill="#0094ff"/>
<path d="M294,194.6 297,191.3 300,188 303,184.7 306,181.4 309,178.1 312,174.7 315,171.4 318,168.1 321,164.8 324,161.5 327,158.1 330,154.8 333,151.5 336,148.2 339,144.9 342,141.6 345,138.2 348,134.9 351,131.6 354,128.3 357,125 360,121.6 363,118.3 366,115 369,111.7 372,108.4 375,105.1 378,101.7 381,98.4 384,95.1 387,91.8 390,88.5 393,85.1 396,81.8 399,78.5 402,75.2 405,71.9 408,68.6 411,65.2 414,61.9 417,58.6 420,55.3 423,52 426,48.6 429,45.3 432,42 435,40 516,40 L516,346 294,346Z" fill="#00a1ff"/>
<path d="M294,200.8 297,197.5 300,194.2 303,190.8 306,187.5 309,184.2 312,180.9 315,177.6 318,174.3 321,171 324,167.7 327,164.3 330,161 333,157.7 336,154.4 339,151.1 342,147.8 345,144.5 348,141.1 351,137.8 354,134.5 357,131.2 360,127.9 363,124.6 366,121.3 369,118 372,114.6 375,111.3 378,108 381,104.7 384,101.4 387,98.1 390,94.8 393,91.5 396,88.1 399,84.8 402,81.5 405,78.2 408,74.9 411,71.6 414,68.3 417,64.9 420,61.6 423,58.3 426,55 429,51.7 432,48.4 435,45.1 438,41.8 441,40 516,40 L516,346 294,346Z" fill="#0094ff"/>
<path d="M294,206.9 297,203.6 300,200.3 303,197 306,193.7 309,190.4 312,187.1 315,183.8 318,180.5 321,177.2 324,173.8 327,170.5 330,167.2 333,163.9 336,160.6 339,157.3 342,154 345,150.7 348,147.4 351,144.1 354,140.8 357,137.5 360,134.2 363,130.8 366,127.5 369,124.2 372,120.9 375,117.6 378,114.3 381,111 384,107.7 387,104.4 390,101.1 393,97.8 396,94.5 399,91.1 402,87.8 405,84.5 408,81.2 411,77.9 414,74.6 417,71.3 420,68 423,64.7 426,61.4 429,58.1 432,54.8 435,51.4 438,48.1 441,44.8 444,41.5 447,40 516,40 L516,346 294,346Z" fill="#009aff"/>
<path d="M294,213.1 297,209.8 300,206.5 303,203.2 306,199.9 309,196.6 312,193.3 315,189.9 318,186.6 321,183.3 324,180 327,176.7 330,173.4 333,170.1 336,166.8 339,163.5 342,160.2 345,156.9 348,153.6 351,150.3 354,147 357,143.7 360,140.4 363,137.1 366,133.8 369,130.5 372,127.2 375,123.9 378,120.6 381,117.3 384,114 387,110.7 390,107.4 393,104.1 396,100.8 399,97.5 402,94.2 405,90.9 408,87.6 411,84.3 414,80.9 417,77.6 420,74.3 423,71 426,67.7 429,64.4 432,61.1 435,57.8 438,54.5 441,51.2 444,47.9 447,44.6 450,41.3 453,40 516,40 L516,346 294,346Z" fill="#00c8ff"/>
<path d="M294,219.2 297,215.9 300,212.6 303,209.3 306,206 309,202.7 312,199.4 315,196.1 318,192.8 321,189.5 324,186.2 327,182.9 330,179.6 333,176.3 336,173 339,169.7 342,166.4 345,163.1 348,159.9 351,156.6 354,153.3 357,150 360,146.7 363,143.4 366,140.1 369,136.8 372,133.5 375,130.2 378,126.9 381,123.6 384,120.3 387,117 390,113.7 393,110.4 396,107.1 399,103.8 402,100.5 405,97.2 408,93.9 411,90.6 414,87.3 417,84 420,80.7 423,77.4 426,74.1 429,70.8 432,67.5 435,64.2 438,60.9 441,57.6 444,54.3 447,51 450,47.7 453,44.4 456,41.1 459,40 516,40 L516,346 294,346Z" fill="#00a1ff"/>
<path d="M294,225.4 297,222.1 300,218.8 303,215.5 306,212.2 309,208.9 312,205.6 315,202.3 318,199 321,195.7 324,192.4 327,189.1 330,185.8 333,182.5 336,179.3 339,176 342,172.7 345,169.4 348,166.1 351,162.8 354,159.5 357,156.2 360,152.9 363,149.6 366,146.3 369,143 372,139.7 375,136.4 378,133.2 381,129.9 384,126.6 387,123.3 390,120 393,116.7 396,113.4 399,110.1 402,106.8 405,103.5 408,100.2 411,96.9 414,93.6 417,90.3 420,87.1 423,83.8 426,80.5 429,77.2 432,73.9 435,70.6 438,67.3 441,64 444,60.7 447,57.4 450,54.1 453,50.8 456,47.5 459,44.2 462,41 465,40 516,40 L516,346 294,346Z" fill="#00e5f7"/>
<path d="M294,231.5 297,228.2 300,224.9 303,221.6 306,218.3 309,215.1 312,211.8 315,208.5 318,205.2 321,201.9 324,198.6 327,195.3 330,192 333,188.8 336,185.5 339,182.2 342,178.9 345,175.6 348,172.3 351,169 354,165.7 357,162.5 360,159.2 363,155.9 366,152.6 369,149.3 372,146 375,142.7 378,139.4 381,136.2 384,132.9 387,129.6 390,126.3 393,123 396,119.7 399,116.4 402,113.1 405,109.8 408,106.6 411,103.3 414,100 417,96.7 420,93.4 423,90.1 426,86.8 429,83.5 432,80.3 435,77 438,73.7 441,70.4 444,67.1 447,63.8 450,60.5 453,57.2 456,54 459,50.7 462,47.4 465,44.1 468,40.8 471,40 516,40 L516,346 294,346Z" fill="#0084ff"/>
<path d="M294,237.6 297,234.4 300,231.1 303,227.8 306,224.5 309,221.2 312,217.9 315,214.7 318,211.4 321,208.1 324,204.8 327,201.5 330,198.2 333,195 336,191.7 339,188.4 342,185.1 345,181.8 348,178.6 351,175.3 354,172 357,168.7 360,165.4 363,162.1 366,158.9 369,155.6 372,152.3 375,149 378,145.7 381,142.4 384,139.2 387,135.9 390,132.6 393,129.3 396,126 399,122.7 402,119.5 405,116.2 408,112.9 411,109.6 414,106.3 417,103 420,99.8 423,96.5 426,93.2 429,89.9 432,86.6 435,83.3 438,80.1 441,76.8 444,73.5 447,70.2 450,66.9 453,63.7 456,60.4 459,57.1 462,53.8 465,50.5 468,47.2 471,44 474,40.7 477,40 516,40 L516,346 294,346Z" fill="#07eef0"/>
<path d="M294,243.8 297,240.5 300,237.2 303,234 306,230.7 309,227.4 312,224.1 315,220.8 318,217.6 321,214.3 324,211 327,207.7 330,204.5 333,201.2 336,197.9 339,194.6 342,191.3 345,188.1 348,184.8 351,181.5 354,178.2 357,175 360,171.7 363,168.4 366,165.1 369,161.8 372,158.6 375,155.3 378,152 381,148.7 384,145.5 387,142.2 390,138.9 393,135.6 396,132.3 399,129.1 402,125.8 405,122.5 408,119.2 411,116 414,112.7 417,109.4 420,106.1 423,102.8 426,99.6 429,96.3 432,93 435,89.7 438,86.5 441,83.2 444,79.9 447,76.6 450,73.3 453,70.1 456,66.8 459,63.5 462,60.2 465,57 468,53.7 471,50.4 474,47.1 477,43.8 480,40.6 483,40 516,40 L516,346 294,346Z" fill="#82ff75"/>
<path d="M294,253.8 297,250.5 300,247.2 303,244 306,240.7 309,237.4 312,234.1 315,230.8 318,227.6 321,224.3 324,221 327,217.7 330,214.5 333,211.2 336,207.9 339,204.6 342,201.3 345,198.1 348,194.8 351,191.5 354,188.2 357,185 360,181.7 363,178.4 366,175.1 369,171.8 372,168.6 375,165.3 378,162 381,158.7 384,155.5 387,152.2 390,148.9 393,145.6 396,142.3 399,139.1 402,135.8 405,132.5 408,129.2 411,126 414,122.7 417,119.4 420,116.1 423,112.8 426,109.6 429,106.3 432,103 435,99.7 438,96.5 441,93.2 444,89.9 447,86.6 450,83.3 453,80.1 456,76.8 459,73.5 462,70.2 465,67 468,63.7 471,60.4 474,57.1 477,53.8 480,50.6 483,47.3 486,44 489,40.7 492,40 516,40 L516,346 294,346Z" fill="#0094ff"/>
<path d="M294,272.3 297,268.8 300,265.2 303,261.7 306,258.2 309,254.6 312,251.1 315,247.6 318,244 321,240.5 324,237 327,233.4 330,229.9 333,226.4 336,222.8 339,219.3 342,215.8 345,212.2 348,208.7 351,205.2 354,201.6 357,198.1 360,194.6 363,191 366,187.5 369,184 372,180.4 375,176.9 378,173.4 381,169.8 384,166.3 387,162.8 390,159.2 393,155.7 396,152.2 399,148.6 402,145.1 405,141.6 408,138 411,134.5 414,131 417,127.4 420,123.9 423,120.4 426,116.8 429,113.3 432,109.8 435,106.2 438,102.7 441,99.2 444,95.6 447,92.1 450,88.6 453,85 456,81.5 459,78 462,74.4 465,70.9 468,67.4 471,63.8 474,60.3 477,56.8 480,53.2 483,49.7 486,46.2 489,42.6 492,40 516,40 L516,346 294,346Z" fill="#0cf5ea"/>
<path d="M294,290.8 297,287.1 300,283.3 303,279.5 306,275.7 309,271.9 312,268.1 315,264.3 318,260.5 321,256.7 324,253 327,249.2 330,245.4 333,241.6 336,237.8 339,234 342,230.2 345,226.4 348,222.6 351,218.9 354,215.1 357,211.3 360,207.5 363,203.7 366,199.9 369,196.1 372,192.3 375,188.5 378,184.8 381,181 384,177.2 387,173.4 390,169.6 393,165.8 396,162 399,158.2 402,154.4 405,150.7 408,146.9 411,143.1 414,139.3 417,135.5 420,131.7 423,127.9 426,124.1 429,120.3 432,116.6 435,112.8 438,109 441,105.2 444,101.4 447,97.6 450,93.8 453,90 456,86.2 459,82.5 462,78.7 465,74.9 468,71.1 471,67.3 474,63.5 477,59.7 480,55.9 483,52.1 486,48.3 489,44.6 492,40.8 495,40 516,40 L516,346 294,346Z" fill="#00c4ff"/>
<path d="M294,309.4 297,305.3 300,301.3 303,297.2 306,293.2 309,289.2 312,285.1 315,281.1 318,277 321,273 324,268.9 327,264.9 330,260.8 333,256.8 336,252.8 339,248.7 342,244.7 345,240.6 348,236.6 351,232.5 354,228.5 357,224.4 360,220.4 363,216.3 366,212.3 369,208.3 372,204.2 375,200.2 378,196.1 381,192.1 384,188 387,184 390,179.9 393,175.9 396,171.9 399,167.8 402,163.8 405,159.7 408,155.7 411,151.6 414,147.6 417,143.5 420,139.5 423,135.5 426,131.4 429,127.4 432,123.3 435,119.3 438,115.2 441,111.2 444,107.1 447,103.1 450,99.1 453,95 456,91 459,86.9 462,82.9 465,78.8 468,74.8 471,70.7 474,66.7 477,62.7 480,58.6 483,54.6 486,50.5 489,46.5 492,42.4 495,40 516,40 L516,346 294,346Z" fill="#19ffdd"/>
<path d="M294,327.9 297,323.6 300,319.3 303,315 306,310.7 309,306.4 312,302.1 315,297.8 318,293.5 321,289.2 324,284.9 327,280.6 330,276.3 333,272 336,267.7 339,263.4 342,259.1 345,254.8 348,250.5 351,246.2 354,241.9 357,237.6 360,233.3 363,229 366,224.7 369,220.4 372,216.1 375,211.8 378,207.5 381,203.2 384,198.9 387,194.6 390,190.3 393,186 396,181.7 399,177.4 402,173.1 405,168.8 408,164.5 411,160.2 414,155.9 417,151.6 420,147.3 423,143 426,138.7 429,134.4 432,130.1 435,125.8 438,121.5 441,117.2 444,112.9 447,108.6 450,104.3 453,100 456,95.7 459,91.4 462,87.1 465,82.8 468,78.5 471,74.2 474,69.9 477,65.6 480,61.3 483,57 486,52.7 489,48.4 492,44.1 495,40 516,40 L516,346 294,346Z" fill="#00e5f7"/>
<path d="M294,346 297,341.9 300,337.3 303,332.8 306,328.2 309,323.7 312,319.1 315,314.5 318,310 321,305.4 324,300.9 327,296.3 330,291.8 333,287.2 336,282.7 339,278.1 342,273.5 345,269 348,264.4 351,259.9 354,255.3 357,250.8 360,246.2 363,241.7 366,237.1 369,232.5 372,228 375,223.4 378,218.9 381,214.3 384,209.8 387,205.2 390,200.6 393,196.1 396,191.5 399,187 402,182.4 405,177.9 408,173.3 411,168.8 414,164.2 417,159.6 420,155.1 423,150.5 426,146 429,141.4 432,136.9 435,132.3 438,127.8 441,123.2 444,118.6 447,114.1 450,109.5 453,105 456,100.4 459,95.9 462,91.3 465,86.8 468,82.2 471,77.6 474,73.1 477,68.5 480,64 483,59.4 486,54.9 489,50.3 492,45.8 495,41.2 498,40 516,40 L516,346 294,346Z" fill="#27ffd0"/>
<path d="M294,346 303,346 306,345.7 309,340.9 312,336.1 315,331.3 318,326.5 321,321.7 324,316.8 327,312 330,307.2 333,302.4 336,297.6 339,292.8 342,288 345,283.2 348,278.4 351,273.5 354,268.7 357,263.9 360,259.1 363,254.3 366,249.5 369,244.7 372,239.9 375,235.1 378,230.2 381,225.4 384,220.6 387,215.8 390,211 393,206.2 396,201.4 399,196.6 402,191.8 405,186.9 408,182.1 411,177.3 414,172.5 417,167.7 420,162.9 423,158.1 426,153.3 429,148.5 432,143.6 435,138.8 438,134 441,129.2 444,124.4 447,119.6 450,114.8 453,110 456,105.1 459,100.3 462,95.5 465,90.7 468,85.9 471,81.1 474,76.3 477,71.5 480,66.7 483,61.8 486,57 489,52.2 492,47.4 495,42.6 498,40 516,40 L516,346 294,346Z" fill="#0cf5ea"/>
<path d="M294,346 315,346 318,343 321,337.9 324,332.8 327,327.8 330,322.7 333,317.6 336,312.6 339,307.5 342,302.4 345,297.4 348,292.3 351,287.2 354,282.2 357,277.1 360,272 363,267 366,261.9 369,256.8 372,251.8 375,246.7 378,241.6 381,236.6 384,231.5 387,226.4 390,221.3 393,216.3 396,211.2 399,206.1 402,201.1 405,196 408,190.9 411,185.9 414,180.8 417,175.7 420,170.7 423,165.6 426,160.5 429,155.5 432,150.4 435,145.3 438,140.3 441,135.2 444,130.1 447,125.1 450,120 453,114.9 456,109.9 459,104.8 462,99.7 465,94.7 468,89.6 471,84.5 474,79.5 477,74.4 480,69.3 483,64.3 486,59.2 489,54.1 492,49.1 495,44 498,40 516,40 L516,346 294,346Z" fill="#34ffc3"/>
<path d="M294,346 324,346 327,343.5 330,338.2 333,332.8 336,327.5 339,322.2 342,316.9 345,311.5 348,306.2 351,300.9 354,295.6 357,290.2 360,284.9 363,279.6 366,274.3 369,269 372,263.6 375,258.3 378,253 381,247.7 384,242.3 387,237 390,231.7 393,226.4 396,221.1 399,215.7 402,210.4 405,205.1 408,199.8 411,194.4 414,189.1 417,183.8 420,178.5 423,173.2 426,167.8 429,162.5 432,157.2 435,151.9 438,146.5 441,141.2 444,135.9 447,130.6 450,125.2 453,119.9 456,114.6 459,109.3 462,104 465,98.6 468,93.3 471,88 474,82.7 477,77.3 480,72 483,66.7 486,61.4 489,56.1 492,50.7 495,45.4 498,40.1 501,40 516,40 L516,346 294,346Z" fill="#ff7d00"/>
<path d="M294,346 327,346 330,342.3 333,337 336,331.7 339,326.3 342,321 345,315.7 348,310.4 351,305.1 354,299.7 357,294.4 360,289.1 363,283.8 366,278.4 369,273.1 372,267.8 375,262.5 378,257.2 381,251.8 384,246.5 387,241.2 390,235.9 393,230.5 396,225.2 399,219.9 402,214.6 405,209.2 408,203.9 411,198.6 414,193.3 417,188 420,182.6 423,177.3 426,172 429,166.7 432,161.3 435,156 438,150.7 441,145.4 444,140.1 447,134.7 450,129.4 453,124.1 456,118.8 459,113.4 462,108.1 465,102.8 468,97.5 471,92.2 474,86.8 477,81.5 480,76.2 483,70.9 486,65.5 489,60.2 492,54.9 495,49.6 498,44.2 501,40 516,40 L516,346 294,346Z" fill="#ffad00"/>
<path d="M294,346 327,346 330,345.6 333,340.3 336,335 339,329.7 342,324.3 345,319 348,313.7 351,308.4 354,303.1 357,297.7 360,292.4 363,287.1 366,281.8 369,276.4 372,271.1 375,265.8 378,260.5 381,255.2 384,249.8 387,244.5 390,239.2 393,233.9 396,228.5 399,223.2 402,217.9 405,212.6 408,207.3 411,201.9 414,196.6 417,191.3 420,186 423,180.6 426,175.3 429,170 432,164.7 435,159.3 438,154 441,148.7 444,143.4 447,138.1 450,132.7 453,127.4 456,122.1 459,116.8 462,111.4 465,106.1 468,100.8 471,95.5 474,90.2 477,84.8 480,79.5 483,74.2 486,68.9 489,63.5 492,58.2 495,52.9 498,47.6 501,42.3 504,40 516,40 L516,346 294,346Z" fill="#ffd100"/>
<path d="M294,346 333,346 336,344.1 339,338.8 342,333.5 345,328.2 348,322.9 351,317.5 354,312.2 357,306.9 360,301.6 363,296.2 366,290.9 369,285.6 372,280.3 375,275 378,269.6 381,264.3 384,259 387,253.7 390,248.3 393,243 396,237.7 399,232.4 402,227 405,221.7 408,216.4 411,211.1 414,205.8 417,200.4 420,195.1 423,189.8 426,184.5 429,179.1 432,173.8 435,168.5 438,163.2 441,157.9 444,152.5 447,147.2 450,141.9 453,136.6 456,131.2 459,125.9 462,120.6 465,115.3 468,110 471,104.6 474,99.3 477,94 480,88.7 483,83.3 486,78 489,72.7 492,67.4 495,62 498,56.7 501,51.4 504,46.1 507,40.8 510,40 516,40 L516,346 294,346Z" fill="#ffb300"/>
<path d="M294,346 336,346 339,343 342,337.7 345,332.3 348,327 351,321.7 354,316.4 357,311 360,305.7 363,300.4 366,295.1 369,289.8 372,284.4 375,279.1 378,273.8 381,268.5 384,263.1 387,257.8 390,252.5 393,247.2 396,241.9 399,236.5 402,231.2 405,225.9 408,220.6 411,215.2 414,209.9 417,204.6 420,199.3 423,194 426,188.6 429,183.3 432,178 435,172.7 438,167.3 441,162 444,156.7 447,151.4 450,146 453,140.7 456,135.4 459,130.1 462,124.8 465,119.4 468,114.1 471,108.8 474,103.5 477,98.1 480,92.8 483,87.5 486,82.2 489,76.9 492,71.5 495,66.2 498,60.9 501,55.6 504,50.2 507,44.9 510,40 516,40 L516,346 294,346Z" fill="#27ffd0"/>
<path d="M294,346 333,346 336,342.1 339,337.2 342,332.3 345,327.5 348,322.6 351,317.7 354,312.8 357,307.9 360,303 363,298.2 366,293.3 369,288.4 372,283.5 375,278.6 378,273.7 381,268.9 384,264 387,259.1 390,254.2 393,249.3 396,244.5 399,239.6 402,234.7 405,229.8 408,224.9 411,220 414,215.2 417,210.3 420,205.4 423,200.5 426,195.6 429,190.8 432,185.9 435,181 438,176.1 441,171.2 444,166.3 447,161.5 450,156.6 453,151.7 456,146.8 459,141.9 462,137.1 465,132.2 468,127.3 471,122.4 474,117.5 477,112.6 480,107.8 483,102.9 486,98 489,93.1 492,88.2 495,83.4 498,78.5 501,73.6 504,68.7 507,63.8 510,59 513,54.1 516,49.2 L516,346 294,346Z" fill="#19ffdd"/>
<path d="M294,346 327,346 330,344.8 333,340.3 336,335.9 339,331.4 342,327 345,322.6 348,318.1 351,313.7 354,309.2 357,304.8 360,300.4 363,295.9 366,291.5 369,287 372,282.6 375,278.1 378,273.7 381,269.3 384,264.8 387,260.4 390,255.9 393,251.5 396,247.1 399,242.6 402,238.2 405,233.7 408,229.3 411,224.8 414,220.4 417,216 420,211.5 423,207.1 426,202.6 429,198.2 432,193.8 435,189.3 438,184.9 441,180.4 444,176 447,171.6 450,167.1 453,162.7 456,158.2 459,153.8 462,149.3 465,144.9 468,140.5 471,136 474,131.6 477,127.1 480,122.7 483,118.3 486,113.8 489,109.4 492,105 495,100.5 498,96.1 501,91.6 504,87.2 507,82.8 510,78.3 513,73.9 516,69.5 L516,346 294,346Z" fill="#41ffb6"/>
<path d="M294,346 321,346 324,345.7 327,341.7 330,337.7 333,333.7 336,329.7 339,325.7 342,321.7 345,317.7 348,313.7 351,309.7 354,305.7 357,301.7 360,297.7 363,293.7 366,289.7 369,285.7 372,281.7 375,277.7 378,273.7 381,269.7 384,265.7 387,261.7 390,257.7 393,253.7 396,249.7 399,245.7 402,241.7 405,237.7 408,233.7 411,229.7 414,225.7 417,221.7 420,217.6 423,213.6 426,209.6 429,205.6 432,201.6 435,197.6 438,193.6 441,189.6 444,185.6 447,181.6 450,177.6 453,173.6 456,169.6 459,165.6 462,161.6 465,157.6 468,153.6 471,149.6 474,145.6 477,141.6 480,137.7 483,133.7 486,129.7 489,125.7 492,121.7 495,117.7 498,113.7 501,109.7 504,105.7 507,101.7 510,97.7 513,93.7 516,89.7 L516,346 294,346Z" fill="#34ffc3"/>
<path d="M294,346 315,346 318,344.8 321,341.3 324,337.7 327,334.1 330,330.6 333,327 336,323.5 339,319.9 342,316.3 345,312.8 348,309.2 351,305.7 354,302.1 357,298.5 360,295 363,291.4 366,287.9 369,284.3 372,280.7 375,277.2 378,273.6 381,270.1 384,266.5 387,262.9 390,259.4 393,255.8 396,252.3 399,248.7 402,245.1 405,241.6 408,238 411,234.5 414,230.9 417,227.3 420,223.8 423,220.2 426,216.7 429,213.1 432,209.5 435,206 438,202.4 441,198.9 444,195.3 447,191.7 450,188.2 453,184.6 456,181 459,177.5 462,173.9 465,170.4 468,166.8 471,163.3 474,159.7 477,156.1 480,152.6 483,149 486,145.5 489,141.9 492,138.4 495,134.8 498,131.3 501,127.7 504,124.2 507,120.6 510,117.1 513,113.5 516,109.9 L516,346 294,346Z" fill="#68ff8f"/>
<path d="M294,346 306,346 309,345.3 312,342.2 315,339.1 318,336 321,332.9 324,329.7 327,326.6 330,323.5 333,320.4 336,317.3 339,314.1 342,311 345,307.9 348,304.8 351,301.7 354,298.5 357,295.4 360,292.3 363,289.2 366,286.1 369,282.9 372,279.8 375,276.7 378,273.6 381,270.5 384,267.3 387,264.2 390,261.1 393,258 396,254.9 399,251.7 402,248.6 405,245.5 408,242.4 411,239.3 414,236.1 417,233 420,229.9 423,226.8 426,223.7 429,220.5 432,217.4 435,214.3 438,211.2 441,208.1 444,204.9 447,201.8 450,198.7 453,195.6 456,192.5 459,189.3 462,186.2 465,183.1 468,180 471,176.9 474,173.8 477,170.6 480,167.5 483,164.4 486,161.3 489,158.2 492,155.1 495,152 498,148.9 501,145.8 504,142.6 507,139.5 510,136.4 513,133.3 516,130.2 L516,346 294,346Z" fill="#82ff75"/>
<path d="M294,346 297,345.9 300,343.2 303,340.5 306,337.8 309,335.2 312,332.5 315,329.8 318,327.1 321,324.4 324,321.8 327,319.1 330,316.4 333,313.7 336,311 339,308.4 342,305.7 345,303 348,300.3 351,297.6 354,295 357,292.3 360,289.6 363,286.9 366,284.3 369,281.6 372,278.9 375,276.2 378,273.5 381,270.9 384,268.2 387,265.5 390,262.8 393,260.1 396,257.5 399,254.8 402,252.1 405,249.4 408,246.7 411,244.1 414,241.4 417,238.7 420,236 423,233.3 426,230.7 429,228 432,225.3 435,222.6 438,219.9 441,217.3 444,214.6 447,211.9 450,209.2 453,206.5 456,203.9 459,201.2 462,198.5 465,195.8 468,193.2 471,190.5 474,187.8 477,185.2 480,182.5 483,179.8 486,177.1 489,174.5 492,171.8 495,169.1 498,166.5 501,163.8 504,161.1 507,158.5 510,155.8 513,153.1 516,150.4 L516,346 294,346Z" fill="#9cff5b"/>
<path d="M294,336.2 297,333.9 300,331.7 303,329.5 306,327.2 309,325 312,322.7 315,320.5 318,318.3 321,316 324,313.8 327,311.6 330,309.3 333,307.1 336,304.8 339,302.6 342,300.4 345,298.1 348,295.9 351,293.6 354,291.4 357,289.2 360,286.9 363,284.7 366,282.4 369,280.2 372,278 375,275.7 378,273.5 381,271.3 384,269 387,266.8 390,264.5 393,262.3 396,260.1 399,257.8 402,255.6 405,253.3 408,251.1 411,248.9 414,246.6 417,244.4 420,242.1 423,239.9 426,237.7 429,235.4 432,233.2 435,231 438,228.7 441,226.5 444,224.2 447,222 450,219.8 453,217.5 456,215.3 459,213 462,210.8 465,208.6 468,206.3 471,204.1 474,201.9 477,199.7 480,197.4 483,195.2 486,193 489,190.7 492,188.5 495,186.3 498,184.1 501,181.8 504,179.6 507,177.4 510,175.2 513,172.9 516,170.7 L516,346 294,346Z" fill="#800000"/>
<path d="M294,340.7 297,338.4 300,336.2 303,334 306,331.7 309,329.5 312,327.2 315,325 318,322.8 321,320.5 324,318.3 327,316.1 330,313.8 333,311.6 336,309.3 339,307.1 342,304.9 345,302.6 348,300.4 351,298.1 354,295.9 357,293.7 360,291.4 363,289.2 366,286.9 369,284.7 372,282.5 375,280.2 378,278 381,275.8 384,273.5 387,271.3 390,269 393,266.8 396,264.6 399,262.3 402,260.1 405,257.8 408,255.6 411,253.4 414,251.1 417,248.9 420,246.6 423,244.4 426,242.2 429,239.9 432,237.7 435,235.5 438,233.2 441,231 444,228.7 447,226.5 450,224.3 453,222 456,219.8 459,217.5 462,215.3 465,213.1 468,210.8 471,208.6 474,206.4 477,204.2 480,201.9 483,199.7 486,197.5 489,195.2 492,193 495,190.8 498,188.6 501,186.3 504,184.1 507,181.9 510,179.7 513,177.4 516,175.2 L516,346 294,346Z" fill="#ff1400"/>
<path d="M294,345.2 297,342.9 300,340.7 303,338.5 306,336.2 309,334 312,331.7 315,329.5 318,327.3 321,325 324,322.8 327,320.6 330,318.3 333,316.1 336,313.8 339,311.6 342,309.4 345,307.1 348,304.9 351,302.6 354,300.4 357,298.2 360,295.9 363,293.7 366,291.4 369,289.2 372,287 375,284.7 378,282.5 381,280.3 384,278 387,275.8 390,273.5 393,271.3 396,269.1 399,266.8 402,264.6 405,262.3 408,260.1 411,257.9 414,255.6 417,253.4 420,251.1 423,248.9 426,246.7 429,244.4 432,242.2 435,240 438,237.7 441,235.5 444,233.2 447,231 450,228.8 453,226.5 456,224.3 459,222 462,219.8 465,217.6 468,215.3 471,213.1 474,210.9 477,208.7 480,206.4 483,204.2 486,202 489,199.7 492,197.5 495,195.3 498,193.1 501,190.8 504,188.6 507,186.4 510,184.2 513,181.9 516,179.7 L516,346 294,346Z" fill="#ff5000"/></g>
<g mask="url(#cC)"><path d="M363,40 618,40 L618,346 363,346Z" fill="#0000f2"/>
<path d="M363,71.8 366,68 369,64.2 372,60.4 375,56.6 378,52.7 381,48.9 384,45.1 387,41.3 390,40 618,40 L618,346 363,346Z" fill="#0000db"/>
<path d="M363,79.8 366,76 369,72.2 372,68.4 375,64.6 378,60.7 381,56.9 384,53.1 387,49.3 390,45.5 393,41.6 396,40 618,40 L618,346 363,346Z" fill="#0000ff"/>
<path d="M363,89.8 366,86 369,82.2 372,78.4 375,74.6 378,70.7 381,66.9 384,63.1 387,59.3 390,55.5 393,51.6 396,47.8 399,44 402,40.1 405,40 618,40 L618,346 363,346Z" fill="#0000e3"/>
<path d="M363,97.8 366,94 369,90.2 372,86.4 375,82.6 378,78.7 381,74.9 384,71.1 387,67.3 390,63.5 393,59.6 396,55.8 399,52 402,48.1 405,44.3 408,40.5 411,40 618,40 L618,346 363,346Z" fill="#0000ff"/>
<path d="M363,107.8 366,104 369,100.2 372,96.4 375,92.6 378,88.7 381,84.9 384,81.1 387,77.3 390,73.5 393,69.6 396,65.8 399,62 402,58.1 405,54.3 408,50.5 411,46.7 414,43 417,40 618,40 L618,346 363,346Z" fill="#0000db"/>
<path d="M363,115.8 366,112 369,108.2 372,104.4 375,100.6 378,96.7 381,92.9 384,89.1 387,85.3 390,81.5 393,77.6 396,73.8 399,70 402,66.1 405,62.3 408,58.5 411,54.7 414,51 417,47.2 420,43.5 423,40 618,40 L618,346 363,346Z" fill="#0000ff"/>
<path d="M363,124.8 366,121 369,117.2 372,113.4 375,109.6 378,105.7 381,101.9 384,98.1 387,94.3 390,90.5 393,86.6 396,82.8 399,79 402,75.1 405,71.3 408,67.5 411,63.7 414,60 417,56.2 420,52.5 423,48.7 426,45 429,41.3 432,40 618,40 L618,346 363,346Z" fill="#0000e3"/>
<path d="M363,129.8 366,126 369,122.2 372,118.4 375,114.6 378,110.7 381,106.9 384,103.1 387,99.3 390,95.5 393,91.6 396,87.8 399,84 402,80.1 405,76.3 408,72.5 411,68.7 414,65 417,61.2 420,57.5 423,53.7 426,50 429,46.3 432,42.5 435,40 618,40 L618,346 363,346Z" fill="#0000ff"/>
<path d="M363,133.8 366,130 369,126.2 372,122.4 375,118.6 378,114.7 381,110.9 384,107.1 387,103.3 390,99.5 393,95.6 396,91.8 399,88 402,84.1 405,80.3 408,76.5 411,72.7 414,69 417,65.2 420,61.5 423,57.7 426,54 429,50.3 432,46.5 435,42.8 438,40 618,40 L618,346 363,346Z" fill="url(#g37)"/>
<path d="M363,163.1 366,159.6 369,156 372,152.5 375,148.9 378,145.3 381,141.8 384,138.2 387,134.6 390,131.1 393,127.5 396,123.9 399,120.4 402,116.8 405,113.2 408,109.7 411,106.1 414,102.6 417,99.1 420,95.5 423,92.1 426,88.7 429,85.4 432,82.1 435,78.8 438,75.4 441,72 444,68.5 447,64.8 450,61.1 453,57.2 456,53.2 459,49.2 462,45.2 465,41.2 468,40 618,40 L618,346 363,346Z" fill="url(#g38)"/>
<path d="M363,166.6 366,163.1 369,159.6 372,156 375,152.5 378,149 381,145.4 384,141.9 387,138.4 390,134.8 393,131.3 396,127.8 399,124.2 402,120.7 405,117.2 408,113.6 411,110.1 414,106.6 417,103.1 420,99.6 423,96.2 426,92.8 429,89.5 432,86.3 435,83 438,79.7 441,76.4 444,72.9 447,69.2 450,65.5 453,61.6 456,57.6 459,53.5 462,49.5 465,45.5 468,41.4 471,40 618,40 L618,346 363,346Z" fill="url(#g37)"/>
<path d="M363,172.9 366,169.4 369,166 372,162.5 375,159 378,155.5 381,152 384,148.6 387,145.1 390,141.6 393,138.1 396,134.7 399,131.2 402,127.7 405,124.2 408,120.7 411,117.3 414,113.8 417,110.3 420,106.9 423,103.5 426,100.2 429,97.1 432,93.9 435,90.7 438,87.5 441,84.2 444,80.8 447,77.2 450,73.4 453,69.5 456,65.4 459,61.3 462,57.3 465,53.2 468,49 471,44.4 474,40 618,40 L618,346 363,346Z" fill="url(#g39)"/>
<path d="M363,175.7 366,172.3 369,168.8 372,165.3 375,161.9 378,158.4 381,155 384,151.5 387,148.1 390,144.6 393,141.2 396,137.7 399,134.3 402,130.8 405,127.3 408,123.9 411,120.5 414,117 417,113.6 420,110.1 423,106.8 426,103.6 429,100.4 432,97.3 435,94.2 438,91 441,87.7 444,84.3 447,80.7 450,76.9 453,73 456,68.9 459,64.8 462,60.7 465,56.6 468,52.4 471,47.7 474,42.3 477,40 618,40 L618,346 363,346Z" fill="url(#g40)"/>
<path d="M363,182.7 366,179.3 369,175.9 372,172.5 375,169.1 378,165.7 381,162.3 384,158.9 387,155.5 390,152.2 393,148.8 396,145.4 399,142 402,138.6 405,135.2 408,131.8 411,128.4 414,125 417,121.6 420,118.3 423,115 426,111.8 429,108.8 432,105.7 435,102.7 438,99.6 441,96.5 444,93.1 447,89.5 450,85.7 453,81.7 456,77.6 459,73.5 462,69.3 465,65.2 468,60.9 471,56 474,50.3 477,43.3 480,40 618,40 L618,346 363,346Z" fill="url(#g41)"/>
<path d="M363,185.1 366,181.8 369,178.4 372,175 375,171.6 378,168.3 381,164.9 384,161.5 387,158.2 390,154.8 393,151.4 396,148 399,144.7 402,141.3 405,137.9 408,134.6 411,131.2 414,127.8 417,124.5 420,121.1 423,117.8 426,114.7 429,111.7 432,108.7 435,105.7 438,102.7 441,99.5 444,96.2 447,92.6 450,88.8 453,84.8 456,80.7 459,76.5 462,72.3 465,68.2 468,63.8 471,58.9 474,53.1 477,46 480,40 618,40 L618,346 363,346Z" fill="url(#g42)"/>
<path d="M363,190.4 366,187 369,183.7 372,180.4 375,177.1 378,173.7 381,170.4 384,167.1 387,163.8 390,160.4 393,157.1 396,153.8 399,150.5 402,147.1 405,143.8 408,140.5 411,137.2 414,133.8 417,130.5 420,127.2 423,124 426,120.9 429,117.9 432,115.1 435,112.1 438,109.2 441,106.1 444,102.8 447,99.2 450,95.4 453,91.4 456,87.2 459,83 462,78.8 465,74.6 468,70.2 471,65.2 474,59.1 477,51.6 480,44.2 483,40 618,40 L618,346 363,346Z" fill="url(#g43)"/>
<path d="M363,192.8 366,189.5 369,186.2 372,182.9 375,179.6 378,176.3 381,173 384,169.7 387,166.4 390,163.1 393,159.8 396,156.5 399,153.2 402,149.8 405,146.5 408,143.2 411,139.9 414,136.7 417,133.3 420,130 423,126.8 426,123.8 429,120.9 432,118 435,115.1 438,112.2 441,109.1 444,105.9 447,102.3 450,98.5 453,94.5 456,90.3 459,86 462,81.8 465,77.6 468,73.1 471,68.1 474,61.9 477,54.3 480,46.7 483,40 618,40 L618,346 363,346Z" fill="url(#g44)"/>
<path d="M363,198 366,194.8 369,191.5 372,188.3 375,185 378,181.7 381,178.5 384,175.2 387,172 390,168.7 393,165.5 396,162.2 399,158.9 402,155.7 405,152.4 408,149.2 411,145.9 414,142.7 417,139.4 420,136.1 423,132.9 426,130 429,127.1 432,124.4 435,121.6 438,118.7 441,115.7 444,112.5 447,108.9 450,105.1 453,101.1 456,96.8 459,92.5 462,88.2 465,84 468,79.5 471,74.3 474,68 477,60 480,52 483,44.3 486,40 618,40 L618,346 363,346Z" fill="url(#g45)"/>
<path d="M363,200.5 366,197.2 369,194 372,190.8 375,187.5 378,184.3 381,181.1 384,177.8 387,174.6 390,171.3 393,168.1 396,164.9 399,161.6 402,158.4 405,155.2 408,151.9 411,148.7 414,145.5 417,142.2 420,138.9 423,135.8 426,132.9 429,130.1 432,127.3 435,124.6 438,121.7 441,118.7 444,115.5 447,112 450,108.2 453,104.1 456,99.9 459,95.6 462,91.3 465,87 468,82.4 471,77.2 474,70.8 477,62.6 480,54.5 483,46.7 486,40 618,40 L618,346 363,346Z" fill="url(#g46)"/>
<path d="M363,203.6 366,200.4 369,197.2 372,194 375,190.8 378,187.6 381,184.4 384,181.2 387,177.9 390,174.7 393,171.5 396,168.3 399,165.1 402,161.9 405,158.7 408,155.5 411,152.3 414,149.1 417,145.8 420,142.6 423,139.5 426,136.6 429,133.8 432,131.1 435,128.4 438,125.6 441,122.7 444,119.5 447,116 450,112.2 453,108.1 456,103.8 459,99.5 462,95.1 465,90.8 468,86.3 471,81 474,74.4 477,66 480,57.7 483,49.7 486,41.7 489,40 618,40 L618,346 363,346Z" fill="url(#g47)"/>
<path d="M363,213.6 366,210.4 369,207.2 372,204 375,200.8 378,197.6 381,194.4 384,191.2 387,187.9 390,184.7 393,181.5 396,178.3 399,175.1 402,171.9 405,168.7 408,165.5 411,162.3 414,159.1 417,155.8 420,152.6 423,149.5 426,146.6 429,143.8 432,141.1 435,138.4 438,135.6 441,132.7 444,129.5 447,126 450,122.2 453,118.1 456,113.8 459,109.5 462,105.1 465,100.8 468,96.3 471,91 474,84.4 477,76 480,67.7 483,59.7 486,51.7 489,43.7 492,40 618,40 L618,346 363,346Z" fill="url(#g48)"/>
<path d="M363,221.7 366,218.4 369,215.2 372,211.9 375,208.6 378,205.4 381,202.1 384,198.8 387,195.6 390,192.3 393,189 396,185.7 399,182.5 402,179.2 405,175.9 408,172.7 411,169.4 414,166.1 417,162.8 420,159.5 423,156.4 426,153.4 429,150.5 432,147.7 435,144.8 438,141.9 441,138.9 444,135.7 447,132.1 450,128.3 453,124.3 456,120.1 459,115.8 462,111.5 465,107.3 468,102.9 471,97.8 474,91.6 477,83.9 480,76.3 483,68.9 486,61.6 489,54.3 492,47 495,40 618,40 L618,346 363,346Z" fill="url(#g49)"/>
<path d="M363,229.8 366,226.5 369,223.2 372,219.8 375,216.5 378,213.2 381,209.8 384,206.5 387,203.2 390,199.8 393,196.5 396,193.2 399,189.8 402,186.5 405,183.2 408,179.9 411,176.5 414,173.2 417,169.8 420,166.5 423,163.2 426,160.1 429,157.2 432,154.2 435,151.3 438,148.3 441,145.1 444,141.8 447,138.3 450,134.5 453,130.5 456,126.3 459,122.2 462,118 465,113.8 468,109.4 471,104.6 474,98.9 477,91.8 480,84.9 483,78.2 486,71.6 489,65 492,58.4 495,51.8 498,45.2 501,40 618,40 L618,346 363,346Z" fill="url(#g50)"/>
<path d="M363,237.9 366,234.5 369,231.1 372,227.7 375,224.4 378,221 381,217.6 384,214.2 387,210.8 390,207.4 393,204 396,200.6 399,197.2 402,193.8 405,190.4 408,187 411,183.6 414,180.3 417,176.8 420,173.4 423,170.1 426,166.9 429,163.8 432,160.8 435,157.7 438,154.6 441,151.4 444,148 447,144.4 450,140.6 453,136.7 456,132.6 459,128.5 462,124.4 465,120.3 468,116 471,111.4 474,106.1 477,99.7 480,93.5 483,87.5 486,81.5 489,75.6 492,69.7 495,63.8 498,58 501,52.2 504,46.3 507,40.5 510,40 618,40 L618,346 363,346Z" fill="url(#g51)"/>
<path d="M363,246 366,242.6 369,239.1 372,235.7 375,232.2 378,228.8 381,225.3 384,221.8 387,218.4 390,214.9 393,211.5 396,208 399,204.6 402,201.1 405,197.7 408,194.2 411,190.8 414,187.3 417,183.8 420,180.4 423,177 426,173.7 429,170.5 432,167.3 435,164.1 438,160.9 441,157.6 444,154.2 447,150.6 450,146.8 453,142.8 456,138.9 459,134.9 462,130.8 465,126.8 468,122.6 471,118.2 474,113.3 477,107.6 480,102 483,96.7 486,91.5 489,86.3 492,81.1 495,75.9 498,70.8 501,65.6 504,60.6 507,55.4 510,50.3 513,45.2 516,40.1 519,40 618,40 L618,346 363,346Z" fill="url(#g52)"/>
<path d="M363,254.1 366,250.6 369,247.1 372,243.6 375,240.1 378,236.6 381,233 384,229.5 387,226 390,222.5 393,219 396,215.5 399,211.9 402,208.4 405,204.9 408,201.4 411,197.9 414,194.4 417,190.8 420,187.3 423,183.9 426,180.5 429,177.2 432,173.9 435,170.6 438,167.2 441,163.8 444,160.3 447,156.7 450,152.9 453,149 456,145.1 459,141.2 462,137.2 465,133.2 468,129.2 471,125.1 474,120.6 477,115.5 480,110.6 483,106 486,101.4 489,96.9 492,92.4 495,88 498,83.5 501,79.1 504,74.8 507,70.4 510,66 513,61.6 516,57.2 519,52.7 522,48.3 525,43.9 528,40 618,40 L618,346 363,346Z" fill="url(#g53)"/>
<path d="M363,262.2 366,258.7 369,255.1 372,251.5 375,247.9 378,244.3 381,240.8 384,237.2 387,233.6 390,230 393,226.5 396,222.9 399,219.3 402,215.7 405,212.2 408,208.6 411,205 414,201.4 417,197.8 420,194.3 423,190.7 426,187.2 429,183.8 432,180.4 435,177 438,173.6 441,170.1 444,166.5 447,162.8 450,159.1 453,155.2 456,151.4 459,147.6 462,143.6 465,139.7 468,135.8 471,131.9 474,127.8 477,123.5 480,119.2 483,115.3 486,111.4 489,107.5 492,103.8 495,100 498,96.3 501,92.6 504,89 507,85.3 510,81.6 513,77.9 516,74.2 519,70.6 522,66.9 525,63.2 528,59.5 531,55.8 534,52.1 537,48.4 540,44.7 543,41 546,40 618,40 L618,346 363,346Z" fill="url(#g54)"/>
<path d="M363,270.3 366,266.7 369,263.1 372,259.4 375,255.8 378,252.1 381,248.5 384,244.9 387,241.2 390,237.6 393,234 396,230.3 399,226.7 402,223 405,219.4 408,215.8 411,212.1 414,208.5 417,204.8 420,201.2 423,197.6 426,194 429,190.5 432,187 435,183.4 438,179.9 441,176.3 444,172.7 447,169 450,165.2 453,161.4 456,157.7 459,153.9 462,150.1 465,146.2 468,142.4 471,138.7 474,135.1 477,131.4 480,127.8 483,124.5 486,121.3 489,118.2 492,115.1 495,112.1 498,109.1 501,106.1 504,103.2 507,100.3 510,97.3 513,94.3 516,91.3 519,88.4 522,85.4 525,82.4 528,79.4 531,76.5 534,73.5 537,70.5 540,67.5 543,64.5 546,61.6 549,58.6 552,55.6 555,52.6 558,49.6 561,46.7 564,43.7 567,40.7 570,40 618,40 L618,346 363,346Z" fill="url(#g55)"/>
<path d="M363,278.4 366,274.7 369,271 372,267.3 375,263.6 378,259.9 381,256.2 384,252.5 387,248.8 390,245.1 393,241.4 396,237.8 399,234.1 402,230.4 405,226.7 408,223 411,219.3 414,215.6 417,211.9 420,208.2 423,204.5 426,200.8 429,197.2 432,193.5 435,189.9 438,186.2 441,182.5 444,178.8 447,175.1 450,171.4 453,167.6 456,163.9 459,160.3 462,156.5 465,152.7 468,149 471,145.5 474,142.3 477,139.3 480,136.4 483,133.8 486,131.3 489,128.8 492,126.5 495,124.1 498,121.8 501,119.6 504,117.4 507,115.2 510,113 513,110.7 516,108.4 519,106.2 522,103.9 525,101.7 528,99.4 531,97.1 534,94.9 537,92.6 540,90.4 543,88.1 546,85.8 549,83.6 552,81.3 555,79 558,76.8 561,74.5 564,72.3 567,70 570,67.7 573,65.5 576,63.2 579,61 582,58.7 585,56.4 588,54.2 591,51.9 594,49.7 597,47.4 600,45.1 603,42.9 606,40.6 609,40 618,40 L618,346 363,346Z" fill="url(#g56)"/>
<path d="M363,286.5 366,282.8 369,279 372,275.3 375,271.5 378,267.7 381,264 384,260.2 387,256.5 390,252.7 393,248.9 396,245.2 399,241.4 402,237.7 405,233.9 408,230.1 411,226.4 414,222.6 417,218.9 420,215.1 423,211.3 426,207.6 429,203.8 432,200.1 435,196.3 438,192.5 441,188.8 444,185 447,181.3 450,177.5 453,173.8 456,170.2 459,166.6 462,162.9 465,159.2 468,155.6 471,152.3 474,149.5 477,147.2 480,145 483,143 486,141.2 489,139.5 492,137.8 495,136.2 498,134.6 501,133.1 504,131.7 507,130.2 510,128.6 513,127.1 516,125.5 519,124 522,122.5 525,120.9 528,119.4 531,117.8 534,116.3 537,114.7 540,113.2 543,111.6 546,110.1 549,108.6 552,107 555,105.5 558,103.9 561,102.4 564,100.8 567,99.3 570,97.8 573,96.2 576,94.7 579,93.1 582,91.6 585,90 588,88.5 591,86.9 594,85.4 597,83.9 600,82.3 603,80.8 606,79.2 609,77.7 612,76.1 615,74.6 618,73.1 L618,346 363,346Z" fill="#ff7d00"/>
<path d="M363,290.7 366,287 369,283.2 372,279.5 375,275.7 378,271.9 381,268.2 384,264.4 387,260.7 390,256.9 393,253.1 396,249.4 399,245.6 402,241.9 405,238.1 408,234.3 411,230.6 414,226.8 417,223.1 420,219.3 423,215.5 426,211.8 429,208 432,204.3 435,200.5 438,196.7 441,193 444,189.2 447,185.5 450,181.7 453,178 456,174.3 459,170.7 462,166.9 465,163.1 468,159.5 471,156.2 474,153.4 477,151 480,148.8 483,146.8 486,144.9 489,143.1 492,141.4 495,139.8 498,138.2 501,136.6 504,135.2 507,133.7 510,132.1 513,130.6 516,129.1 519,127.5 522,126 525,124.4 528,122.9 531,121.3 534,119.8 537,118.3 540,116.7 543,115.2 546,113.6 549,112.1 552,110.5 555,109 558,107.4 561,105.9 564,104.4 567,102.8 570,101.3 573,99.7 576,98.2 579,96.6 582,95.1 585,93.6 588,92 591,90.5 594,88.9 597,87.4 600,85.8 603,84.3 606,82.7 609,81.2 612,79.7 615,78.1 618,76.6 L618,346 363,346Z" fill="#ffad00"/>
<path d="M363,294.1 366,290.3 369,286.6 372,282.8 375,279.1 378,275.3 381,271.5 384,267.8 387,264 390,260.3 393,256.5 396,252.7 399,249 402,245.2 405,241.5 408,237.7 411,233.9 414,230.2 417,226.4 420,222.7 423,218.9 426,215.1 429,211.4 432,207.6 435,203.9 438,200.1 441,196.3 444,192.6 447,188.8 450,185.1 453,181.3 456,177.6 459,173.9 462,170.1 465,166.3 468,162.6 471,159.3 474,156.4 477,154 480,151.8 483,149.7 486,147.8 489,146 492,144.3 495,142.6 498,141 501,139.5 504,138 507,136.5 510,135 513,133.4 516,131.9 519,130.3 522,128.8 525,127.2 528,125.7 531,124.2 534,122.6 537,121.1 540,119.5 543,118 546,116.4 549,114.9 552,113.4 555,111.8 558,110.3 561,108.7 564,107.2 567,105.6 570,104.1 573,102.5 576,101 579,99.5 582,97.9 585,96.4 588,94.8 591,93.3 594,91.7 597,90.2 600,88.7 603,87.1 606,85.6 609,84 612,82.5 615,80.9 618,79.4 L618,346 363,346Z" fill="#ffd100"/>
<path d="M363,303.3 366,299.6 369,295.8 372,292.1 375,288.3 378,284.5 381,280.8 384,277 387,273.3 390,269.5 393,265.7 396,262 399,258.2 402,254.5 405,250.7 408,246.9 411,243.2 414,239.4 417,235.7 420,231.9 423,228.1 426,224.4 429,220.6 432,216.9 435,213.1 438,209.3 441,205.6 444,201.8 447,198.1 450,194.3 453,190.4 456,186.6 459,182.8 462,178.9 465,175 468,171.2 471,167.8 474,164.8 477,162.3 480,160 483,157.9 486,155.9 489,154.1 492,152.3 495,150.5 498,148.8 501,147.2 504,145.7 507,144.3 510,142.7 513,141.2 516,139.6 519,138.1 522,136.5 525,135 528,133.4 531,131.9 534,130.4 537,128.8 540,127.3 543,125.7 546,124.2 549,122.6 552,121.1 555,119.6 558,118 561,116.5 564,114.9 567,113.4 570,111.8 573,110.3 576,108.7 579,107.2 582,105.7 585,104.1 588,102.6 591,101 594,99.5 597,97.9 600,96.4 603,94.9 606,93.3 609,91.8 612,90.2 615,88.7 618,87.1 L618,346 363,346Z" fill="#ffb300"/>
<path d="M363,307.5 366,303.8 369,300 372,296.3 375,292.5 378,288.7 381,285 384,281.2 387,277.5 390,273.7 393,269.9 396,266.2 399,262.4 402,258.7 405,254.9 408,251.1 411,247.4 414,243.6 417,239.9 420,236.1 423,232.3 426,228.6 429,224.8 432,221.1 435,217.3 438,213.5 441,209.8 444,206 447,202.3 450,198.5 453,194.6 456,190.7 459,186.9 462,182.9 465,179 468,175.1 471,171.6 474,168.6 477,166.1 480,163.7 483,161.6 486,159.6 489,157.7 492,155.9 495,154.1 498,152.3 501,150.7 504,149.3 507,147.8 510,146.2 513,144.7 516,143.1 519,141.6 522,140.1 525,138.5 528,137 531,135.4 534,133.9 537,132.3 540,130.8 543,129.2 546,127.7 549,126.2 552,124.6 555,123.1 558,121.5 561,120 564,118.4 567,116.9 570,115.4 573,113.8 576,112.3 579,110.7 582,109.2 585,107.6 588,106.1 591,104.5 594,103 597,101.5 600,99.9 603,98.4 606,96.8 609,95.3 612,93.7 615,92.2 618,90.7 L618,346 363,346Z" fill="#27ffd0"/>
<path d="M363,311.5 366,307.8 369,304.2 372,300.5 375,296.9 378,293.2 381,289.6 384,285.9 387,282.3 390,278.6 393,275 396,271.3 399,267.7 402,264 405,260.4 408,256.7 411,253.1 414,249.4 417,245.8 420,242.1 423,238.5 426,234.8 429,231.2 432,227.5 435,223.9 438,220.2 441,216.6 444,212.9 447,209.3 450,205.6 453,201.8 456,198.1 459,194.4 462,190.6 465,186.7 468,183 471,179.6 474,176.6 477,174 480,171.7 483,169.5 486,167.4 489,165.4 492,163.4 495,161.5 498,159.7 501,158 504,156.4 507,154.9 510,153.4 513,151.9 516,150.5 519,149.1 522,147.7 525,146.4 528,145 531,143.6 534,142.2 537,140.9 540,139.5 543,138.1 546,136.8 549,135.5 552,134.2 555,132.8 558,131.5 561,130.2 564,128.9 567,127.6 570,126.2 573,124.9 576,123.6 579,122.3 582,120.9 585,119.6 588,118.3 591,116.9 594,115.6 597,114.3 600,113 603,111.6 606,110.3 609,109 612,107.6 615,106.3 618,105 L618,346 363,346Z" fill="#19ffdd"/>
<path d="M363,315.4 366,311.8 369,308.3 372,304.8 375,301.2 378,297.7 381,294.1 384,290.6 387,287.1 390,283.5 393,280 396,276.5 399,272.9 402,269.4 405,265.8 408,262.3 411,258.8 414,255.2 417,251.7 420,248.1 423,244.6 426,241.1 429,237.5 432,234 435,230.5 438,226.9 441,223.4 444,219.8 447,216.3 450,212.8 453,209.1 456,205.5 459,201.9 462,198.2 465,194.5 468,190.9 471,187.6 474,184.6 477,182 480,179.6 483,177.3 486,175.1 489,173 492,171 495,169 498,167 501,165.2 504,163.5 507,161.9 510,160.5 513,159.1 516,157.8 519,156.6 522,155.4 525,154.2 528,153 531,151.8 534,150.6 537,149.4 540,148.2 543,147 546,145.9 549,144.8 552,143.7 555,142.6 558,141.5 561,140.5 564,139.3 567,138.2 570,137.1 573,136 576,134.9 579,133.8 582,132.7 585,131.6 588,130.4 591,129.3 594,128.2 597,127.1 600,126 603,124.9 606,123.8 609,122.7 612,121.5 615,120.4 618,119.3 L618,346 363,346Z" fill="#41ffb6"/>
<path d="M363,319.3 366,315.9 369,312.4 372,309 375,305.6 378,302.2 381,298.7 384,295.3 387,291.9 390,288.4 393,285 396,281.6 399,278.2 402,274.7 405,271.3 408,267.9 411,264.5 414,261 417,257.6 420,254.2 423,250.7 426,247.3 429,243.9 432,240.5 435,237 438,233.6 441,230.2 444,226.8 447,223.3 450,219.9 453,216.4 456,212.9 459,209.4 462,205.8 465,202.3 468,198.8 471,195.5 474,192.6 477,190 480,187.5 483,185.2 486,182.9 489,180.7 492,178.6 495,176.4 498,174.3 501,172.4 504,170.6 507,169 510,167.7 513,166.4 516,165.2 519,164.1 522,163.1 525,162.1 528,161 531,160 534,159 537,158 540,156.9 543,155.9 546,155 549,154.1 552,153.2 555,152.4 558,151.6 561,150.7 564,149.8 567,148.9 570,148 573,147.1 576,146.2 579,145.3 582,144.4 585,143.5 588,142.6 591,141.7 594,140.8 597,139.9 600,139 603,138.1 606,137.2 609,136.3 612,135.5 615,134.6 618,133.7 L618,346 363,346Z" fill="#34ffc3"/>
<path d="M363,323.2 366,319.9 369,316.6 372,313.3 375,310 378,306.6 381,303.3 384,300 387,296.7 390,293.4 393,290 396,286.7 399,283.4 402,280.1 405,276.8 408,273.5 411,270.1 414,266.8 417,263.5 420,260.2 423,256.9 426,253.6 429,250.2 432,246.9 435,243.6 438,240.3 441,237 444,233.7 447,230.3 450,227 453,223.6 456,220.2 459,216.9 462,213.5 465,210 468,206.7 471,203.5 474,200.6 477,198 480,195.4 483,193 486,190.7 489,188.4 492,186.2 495,183.8 498,181.7 501,179.6 504,177.7 507,176.1 510,174.8 513,173.6 516,172.5 519,171.6 522,170.8 525,169.9 528,169.1 531,168.2 534,167.4 537,166.5 540,165.6 543,164.8 546,164.1 549,163.4 552,162.8 555,162.2 558,161.6 561,160.9 564,160.3 567,159.6 570,158.9 573,158.2 576,157.5 579,156.8 582,156.2 585,155.5 588,154.8 591,154.1 594,153.4 597,152.8 600,152.1 603,151.4 606,150.7 609,150 612,149.4 615,148.7 618,148 L618,346 363,346Z" fill="#5bff9c"/>
<path d="M363,327.1 366,323.9 369,320.7 372,317.5 375,314.3 378,311.1 381,307.9 384,304.7 387,301.5 390,298.3 393,295.1 396,291.9 399,288.7 402,285.5 405,282.3 408,279 411,275.8 414,272.6 417,269.4 420,266.2 423,263 426,259.8 429,256.6 432,253.4 435,250.2 438,247 441,243.8 444,240.6 447,237.4 450,234.2 453,230.9 456,227.6 459,224.4 462,221.1 465,217.8 468,214.6 471,211.5 474,208.6 477,205.9 480,203.4 483,200.9 486,198.4 489,196.1 492,193.7 495,191.3 498,189 501,186.9 504,184.8 507,183.2 510,182 513,180.8 516,179.9 519,179.2 522,178.5 525,177.8 528,177.1 531,176.4 534,175.7 537,175 540,174.4 543,173.8 546,173.2 549,172.7 552,172.3 555,171.9 558,171.6 561,171.2 564,170.7 567,170.2 570,169.8 573,169.3 576,168.8 579,168.4 582,167.9 585,167.4 588,167 591,166.5 594,166.1 597,165.6 600,165.1 603,164.7 606,164.2 609,163.7 612,163.3 615,162.8 618,162.3 L618,346 363,346Z" fill="#5bff9c"/>
<path d="M363,331.1 366,328 369,324.9 372,321.8 375,318.7 378,315.6 381,312.5 384,309.4 387,306.3 390,303.2 393,300.1 396,297 399,293.9 402,290.8 405,287.7 408,284.6 411,281.5 414,278.4 417,275.3 420,272.2 423,269.1 426,266.1 429,263 432,259.9 435,256.8 438,253.7 441,250.6 444,247.5 447,244.4 450,241.3 453,238.1 456,235 459,231.9 462,228.7 465,225.6 468,222.5 471,219.4 474,216.6 477,213.9 480,211.3 483,208.7 486,206.2 489,203.7 492,201.3 495,198.7 498,196.3 501,194.1 504,191.9 507,190.3 510,189.1 513,188.1 516,187.2 519,186.7 522,186.2 525,185.6 528,185.1 531,184.6 534,184.1 537,183.6 540,183.1 543,182.7 546,182.3 549,182.1 552,181.9 555,181.7 558,181.6 561,181.4 564,181.2 567,180.9 570,180.7 573,180.4 576,180.2 579,179.9 582,179.7 585,179.4 588,179.2 591,178.9 594,178.7 597,178.4 600,178.2 603,177.9 606,177.7 609,177.4 612,177.2 615,176.9 618,176.7 L618,346 363,346Z" fill="#75ff82"/>
<path d="M363,335 366,332 369,329 372,326 375,323 378,320.1 381,317.1 384,314.1 387,311.1 390,308.1 393,305.1 396,302.1 399,299.2 402,296.2 405,293.2 408,290.2 411,287.2 414,284.2 417,281.3 420,278.3 423,275.3 426,272.3 429,269.3 432,266.3 435,263.3 438,260.4 441,257.4 444,254.4 447,251.4 450,248.4 453,245.4 456,242.4 459,239.4 462,236.4 465,233.3 468,230.3 471,227.4 474,224.6 477,221.9 480,219.2 483,216.6 486,214 489,211.4 492,208.9 495,206.2 498,203.7 501,201.3 504,199 507,197.3 510,196.3 513,195.3 516,194.6 519,194.2 522,193.8 525,193.5 528,193.1 531,192.8 534,192.5 537,192.1 540,191.8 543,191.6 546,191.4 552,191.4 555,191.5 558,191.6 561,191.7 567,191.6 573,191.5 579,191.4 585,191.4 591,191.3 597,191.2 603,191.2 609,191.1 615,191 618,191 L618,346 363,346Z" fill="#8fff68"/>
<path d="M363,338.9 366,336 369,333.1 372,330.3 375,327.4 378,324.5 381,321.7 384,318.8 387,315.9 390,313 393,310.2 396,307.3 399,304.4 402,301.5 405,298.7 408,295.8 411,292.9 414,290 417,287.2 420,284.3 423,281.4 426,278.5 429,275.7 432,272.8 435,269.9 438,267 441,264.2 444,261.3 447,258.4 450,255.6 453,252.7 456,249.8 459,246.9 462,244 465,241.1 468,238.2 471,235.4 474,232.6 477,229.8 480,227.1 483,224.4 486,221.8 489,219.1 492,216.4 495,213.6 498,211 501,208.6 504,206.1 507,204.4 510,203.4 513,202.5 516,201.9 519,201.7 522,201.5 525,201.3 528,201.2 531,201 534,200.8 537,200.7 540,200.5 543,200.5 546,200.5 549,200.7 552,200.9 555,201.3 558,201.6 561,201.9 564,202.1 567,202.3 570,202.4 573,202.6 576,202.8 579,203 582,203.2 585,203.3 588,203.5 591,203.7 594,203.9 597,204.1 600,204.2 603,204.4 606,204.6 609,204.8 612,205 615,205.1 618,205.3 L618,346 363,346Z" fill="#a4ff53"/>
<path d="M363,342.8 366,340.1 369,337.3 372,334.5 375,331.8 378,329 381,326.2 384,323.5 387,320.7 390,317.9 393,315.2 396,312.4 399,309.7 402,306.9 405,304.1 408,301.4 411,298.6 414,295.8 417,293.1 420,290.3 423,287.6 426,284.8 429,282 432,279.3 435,276.5 438,273.7 441,271 444,268.2 447,265.4 450,262.7 453,259.9 456,257.2 459,254.4 462,251.6 465,248.9 468,246.1 471,243.3 474,240.6 477,237.8 480,235.1 483,232.3 486,229.5 489,226.8 492,224 495,221.1 498,218.4 501,215.8 504,213.2 507,211.5 510,210.5 513,209.8 516,209.3 519,209.2 540,209.2 543,209.4 546,209.6 549,210 552,210.5 555,211 558,211.6 561,212.1 564,212.5 567,212.9 570,213.3 573,213.7 576,214.1 579,214.5 582,214.9 585,215.3 588,215.7 591,216.1 594,216.5 597,216.9 600,217.3 603,217.7 606,218.1 609,218.5 612,218.9 615,219.3 618,219.7 L618,346 363,346Z" fill="#ff3200"/>
<path d="M363,345.3 366,342.6 369,339.8 372,337 375,334.3 378,331.5 381,328.7 384,326 387,323.2 390,320.4 393,317.7 396,314.9 399,312.2 402,309.4 405,306.6 408,303.9 411,301.1 414,298.3 417,295.6 420,292.8 423,290.1 426,287.3 429,284.5 432,281.8 435,279 438,276.2 441,273.5 444,270.7 447,267.9 450,265.2 453,262.4 456,259.7 459,256.9 462,254.1 465,251.4 468,248.6 471,245.8 474,243.1 477,240.3 480,237.6 483,234.8 486,232 489,229.3 492,226.5 495,223.6 498,220.9 501,218.3 504,215.7 507,214 510,213 513,212.3 516,211.8 519,211.7 540,211.7 543,211.9 546,212.1 549,212.5 552,213 555,213.5 558,214.1 561,214.6 564,215 567,215.4 570,215.8 573,216.2 576,216.6 579,217 582,217.4 585,217.8 588,218.2 591,218.6 594,219 597,219.4 600,219.8 603,220.2 606,220.6 609,221 612,221.4 615,221.8 618,222.2 L618,346 363,346Z" fill="#800000"/>
<path d="M363,346 366,346 369,344.3 372,341.5 375,338.8 378,336 381,333.2 384,330.5 387,327.7 390,324.9 393,322.2 396,319.4 399,316.7 402,313.9 405,311.1 408,308.4 411,305.6 414,302.8 417,300.1 420,297.3 423,294.6 426,291.8 429,289 432,286.3 435,283.5 438,280.7 441,278 444,275.2 447,272.4 450,269.7 453,266.9 456,264.2 459,261.4 462,258.6 465,255.9 468,253.1 471,250.3 474,247.6 477,244.8 480,242.1 483,239.3 486,236.5 489,233.8 492,231 495,228.1 498,225.4 501,222.8 504,220.2 507,218.5 510,217.5 513,216.8 516,216.3 519,216.2 540,216.2 543,216.4 546,216.6 549,217 552,217.5 555,218 558,218.6 561,219.1 564,219.5 567,219.9 570,220.3 573,220.7 576,221.1 579,221.5 582,221.9 585,222.3 588,222.7 591,223.1 594,223.5 597,223.9 600,224.3 603,224.7 606,225.1 609,225.5 612,225.9 615,226.3 618,226.7 L618,346 363,346Z" fill="#ff1400"/>
<path d="M363,346 369,346 372,345.5 375,342.8 378,340 381,337.2 384,334.5 387,331.7 390,328.9 393,326.2 396,323.4 399,320.7 402,317.9 405,315.1 408,312.4 411,309.6 414,306.8 417,304.1 420,301.3 423,298.6 426,295.8 429,293 432,290.3 435,287.5 438,284.7 441,282 444,279.2 447,276.4 450,273.7 453,270.9 456,268.2 459,265.4 462,262.6 465,259.9 468,257.1 471,254.3 474,251.6 477,248.8 480,246.1 483,243.3 486,240.5 489,237.8 492,235 495,232.1 498,229.4 501,226.8 504,224.2 507,222.5 510,221.5 513,220.8 516,220.3 519,220.2 540,220.2 543,220.4 546,220.6 549,221 552,221.5 555,222 558,222.6 561,223.1 564,223.5 567,223.9 570,224.3 573,224.7 576,225.1 579,225.5 582,225.9 585,226.3 588,226.7 591,227.1 594,227.5 597,227.9 600,228.3 603,228.7 606,229.1 609,229.5 612,229.9 615,230.3 618,230.7 L618,346 363,346Z" fill="#ff4700"/></g>
<g mask="url(#cD)"><path d="M462,40 666,40 L666,346 462,346Z" fill="#0000f9"/>
<path d="M462,58.4 465,58.1 468,57.7 471,57.4 474,57 477,56.7 480,56.4 483,56 486,55.7 489,55.3 492,54.9 495,54.6 498,54.4 501,54.2 504,54 507,53.8 510,53.6 513,53.5 516,53.3 519,53.2 522,53.1 525,53 528,52.9 531,52.8 534,52.7 537,52.6 540,52.5 543,52.4 546,52.4 549,52.3 555,52.2 561,52.1 567,52.1 570,52 573,51.9 576,51.8 579,51.7 582,51.6 585,51.4 588,51.2 591,51 594,50.8 597,50.6 600,50.4 603,50.1 606,49.9 609,49.6 612,49.3 615,49 618,48.7 621,48.3 624,47.9 627,47.5 630,47 633,46.5 636,46 639,45.5 642,44.9 645,44.3 648,43.7 651,43.1 654,42.5 657,41.9 660,41.3 663,40.7 666,40.1 L666,346 462,346Z" fill="#0000db"/>
<path d="M462,73.1 465,72.5 468,71.9 471,71.3 474,70.7 477,70.1 480,69.4 483,68.8 486,68.2 489,67.5 492,66.9 495,66.3 498,65.9 501,65.5 504,65.1 507,64.8 510,64.5 513,64.2 516,64 519,63.8 522,63.5 525,63.3 528,63.1 531,63 534,62.8 537,62.6 540,62.5 543,62.4 546,62.2 549,62.1 552,62.1 555,62 558,61.9 561,61.9 564,61.8 567,61.7 570,61.6 573,61.5 576,61.3 579,61.1 582,60.8 585,60.5 588,60.2 591,59.8 594,59.5 597,59.1 600,58.7 603,58.3 606,57.8 609,57.3 612,56.8 615,56.2 618,55.6 621,55 624,54.3 627,53.5 630,52.7 633,51.8 636,50.8 639,49.9 642,48.8 645,47.8 648,46.6 651,45.5 654,44.4 657,43.4 660,42.3 663,41.2 666,40.2 L666,346 462,346Z" fill="#0000ff"/>
<path d="M462,84.2 465,83.4 468,82.5 471,81.7 474,80.9 477,80.1 480,79.3 483,78.4 486,77.6 489,76.7 492,75.8 495,75.1 498,74.5 501,74 504,73.5 507,73.1 510,72.7 513,72.3 516,72 519,71.7 522,71.4 525,71.1 528,70.8 531,70.6 534,70.4 537,70.2 540,70 543,69.8 546,69.7 549,69.5 552,69.4 555,69.3 558,69.2 561,69.1 564,69 567,68.9 570,68.8 573,68.6 576,68.4 579,68.1 582,67.8 585,67.4 588,66.9 591,66.4 594,65.9 597,65.4 600,64.9 603,64.3 606,63.8 609,63.1 612,62.4 615,61.7 618,60.9 621,60 624,59.1 627,58 630,56.9 633,55.7 636,54.4 639,53.2 642,51.8 645,50.4 648,48.9 651,47.3 654,45.9 657,44.5 660,43.1 663,41.6 666,40.2 L666,346 462,346Z" fill="#0000db"/>
<path d="M462,98.9 465,97.8 468,96.7 471,95.6 474,94.5 477,93.4 480,92.3 483,91.2 486,90.1 489,88.9 492,87.7 495,86.8 498,86 501,85.3 504,84.7 507,84.1 510,83.5 513,83.1 516,82.6 519,82.2 522,81.8 525,81.5 528,81.1 531,80.8 534,80.5 537,80.2 540,80 543,79.7 546,79.5 549,79.4 552,79.2 555,79.1 558,79 561,78.9 564,78.7 567,78.6 570,78.4 573,78.2 576,77.9 579,77.5 582,77 585,76.5 588,75.9 591,75.3 594,74.6 597,73.9 600,73.2 603,72.5 606,71.7 609,70.8 612,69.9 615,68.9 618,67.8 621,66.7 624,65.4 627,64 630,62.5 633,60.9 636,59.2 639,57.5 642,55.7 645,53.8 648,51.8 651,49.8 654,47.9 657,46 660,44.1 663,42.2 666,40.3 L666,346 462,346Z" fill="#0000ff"/>
<path d="M462,106.3 465,105.1 468,103.8 471,102.6 474,101.4 477,100.1 480,98.9 483,97.6 486,96.3 489,95 492,93.7 495,92.6 498,91.8 501,91 504,90.2 507,89.6 510,89 513,88.4 516,88 519,87.5 522,87.1 525,86.7 528,86.3 531,85.9 534,85.6 537,85.3 540,85 543,84.7 546,84.5 549,84.3 552,84.1 555,84 558,83.9 561,83.7 564,83.6 567,83.4 570,83.2 573,82.9 576,82.6 579,82.2 582,81.6 585,81 588,80.4 591,79.7 594,78.9 597,78.1 600,77.3 603,76.5 606,75.6 609,74.7 612,73.6 615,72.5 618,71.3 621,70 624,68.6 627,67 630,65.3 633,63.5 636,61.7 639,59.7 642,57.7 645,55.5 648,53.3 651,51 654,48.9 657,46.7 660,44.6 663,42.5 666,40.3 L666,346 462,346Z" fill="#0000ea"/>
<path d="M462,113.7 465,112.3 468,110.9 471,109.5 474,108.2 477,106.8 480,105.4 483,104.1 486,102.6 489,101.1 492,99.7 495,98.5 498,97.5 501,96.6 504,95.8 507,95.1 510,94.4 513,93.8 516,93.3 519,92.8 522,92.3 525,91.8 528,91.4 531,91 534,90.6 537,90.3 540,90 543,89.7 546,89.4 549,89.2 552,89 555,88.9 558,88.7 561,88.6 564,88.4 567,88.2 570,88 573,87.7 576,87.3 579,86.8 582,86.3 585,85.6 588,84.9 591,84.1 594,83.2 597,82.4 600,81.5 603,80.6 606,79.6 609,78.5 612,77.4 615,76.1 618,74.8 621,73.3 624,71.8 627,70 630,68.1 633,66.1 636,64.1 639,61.9 642,59.7 645,57.3 648,54.8 651,52.2 654,49.9 657,47.5 660,45.1 663,42.7 666,40.4 L666,346 462,346Z" fill="#0059ff"/>
<path d="M462,121.2 465,119.9 468,118.7 471,117.5 474,116.3 477,115 480,113.8 483,112.5 486,111.2 489,110 492,108.9 495,107.9 498,107.1 501,106.3 504,105.6 507,104.9 510,104.2 513,103.6 516,103 519,102.4 522,101.8 525,101.3 528,100.9 531,100.5 534,100.2 537,99.9 540,99.6 543,99.4 546,99.2 549,99 552,98.8 555,98.6 558,98.4 561,98.2 564,98.1 567,97.9 570,97.6 573,97.4 576,97 579,96.6 582,96.1 585,95.5 588,94.8 591,94 594,93.2 597,92.3 600,91.4 603,90.5 606,89.5 609,88.4 612,87.3 615,86 618,84.7 621,83.4 624,81.9 627,80.4 630,78.8 633,77.1 636,75.4 639,73.6 642,71.7 645,69.8 648,67.7 651,65.7 654,63.8 657,61.9 660,60 663,58.1 666,56.2 L666,346 462,346Z" fill="#0084ff"/>
<path d="M462,123.2 465,122 468,120.8 471,119.6 474,118.5 477,117.3 480,116 483,114.8 486,113.6 489,112.4 492,111.4 495,110.5 498,109.7 501,108.9 504,108.2 507,107.6 510,106.9 513,106.2 516,105.6 519,105 522,104.4 525,103.9 528,103.4 531,103.1 534,102.8 537,102.5 540,102.2 543,102 546,101.8 549,101.6 552,101.4 555,101.3 558,101.1 561,100.9 564,100.7 567,100.5 570,100.3 573,100 576,99.7 579,99.3 582,98.8 585,98.2 588,97.5 591,96.7 594,95.9 597,95 600,94.1 603,93.2 606,92.2 609,91.1 612,90 615,88.8 618,87.5 621,86.1 624,84.7 627,83.2 630,81.7 633,80.1 636,78.5 639,76.8 642,75 645,73.2 648,71.3 651,69.4 654,67.6 657,65.8 660,64.1 663,62.3 666,60.5 L666,346 462,346Z" fill="#0063ff"/>
<path d="M462,124.8 465,123.7 468,122.5 471,121.4 474,120.2 477,119.1 480,117.8 483,116.6 486,115.4 489,114.3 492,113.4 495,112.5 498,111.8 501,111.1 504,110.4 507,109.7 510,109 513,108.4 516,107.7 519,107.1 522,106.5 525,105.9 528,105.5 531,105.1 534,104.8 537,104.6 540,104.4 543,104.1 546,104 549,103.8 552,103.6 555,103.4 558,103.2 561,103 564,102.8 567,102.6 570,102.4 573,102.1 576,101.8 579,101.4 582,101 585,100.4 588,99.7 591,98.9 594,98.1 597,97.2 600,96.3 603,95.4 606,94.4 609,93.3 612,92.1 615,90.9 618,89.6 621,88.3 624,86.9 627,85.5 630,84 633,82.5 636,80.9 639,79.3 642,77.6 645,75.9 648,74.1 651,72.3 654,70.7 657,69 660,67.3 663,65.6 666,64 L666,346 462,346Z" fill="#00a4ff"/>
<path d="M462,127.3 465,126.2 468,125.1 471,124 474,122.9 477,121.8 480,120.6 483,119.4 486,118.3 489,117.3 492,116.4 495,115.6 498,114.9 501,114.2 504,113.6 507,112.9 510,112.2 513,111.6 516,110.9 519,110.2 522,109.6 525,109 528,108.6 531,108.2 534,108 537,107.7 540,107.5 543,107.3 546,107.1 549,107 552,106.8 555,106.6 558,106.3 561,106.1 564,106 567,105.7 570,105.5 573,105.3 576,105 579,104.6 582,104.2 585,103.6 588,102.9 591,102.2 594,101.3 597,100.4 600,99.5 603,98.6 606,97.6 609,96.5 612,95.4 615,94.2 618,92.9 621,91.6 624,90.3 627,88.9 630,87.5 633,86.1 636,84.6 639,83.1 642,81.6 645,80 648,78.3 651,76.7 654,75.2 657,73.7 660,72.2 663,70.7 666,69.1 L666,346 462,346Z" fill="#0cf5ea"/>
<path d="M462,134.5 465,133.4 468,132.3 471,131.2 474,130.1 477,129 480,127.8 483,126.6 486,125.5 489,124.5 492,123.6 495,122.8 498,122.1 501,121.4 504,120.8 507,120.1 510,119.4 513,118.8 516,118.1 519,117.4 522,116.8 525,116.2 528,115.8 531,115.4 534,115.2 537,114.9 540,114.7 543,114.5 546,114.3 549,114.2 552,114 555,113.8 558,113.5 561,113.3 564,113.2 567,112.9 570,112.7 573,112.5 576,112.2 579,111.8 582,111.4 585,110.8 588,110.1 591,109.4 594,108.5 597,107.6 600,106.7 603,105.8 606,104.8 609,103.7 612,102.6 615,101.4 618,100.1 621,98.8 624,97.5 627,96.1 630,94.7 633,93.3 636,91.8 639,90.3 642,88.8 645,87.2 648,85.5 651,83.9 654,82.4 657,80.9 660,79.4 663,77.9 666,76.3 L666,346 462,346Z" fill="#007aff"/>
<path d="M462,155.6 465,154.2 468,152.7 471,151.3 474,149.9 477,148.4 480,147 483,145.6 486,144.1 489,142.6 492,141.1 495,139.8 498,138.4 501,137.1 504,135.7 507,134.4 510,133.2 513,132.1 516,131.1 519,130.4 522,129.8 525,129.1 528,128.6 531,128 534,127.6 537,127.3 540,127.1 543,127 546,127.1 549,127.4 552,127.7 555,128.2 558,128.6 561,129.1 564,129.6 567,130 570,130.4 573,130.9 576,131.4 579,131.9 582,132.3 585,132.7 588,132.9 591,133 594,132.9 597,132.6 600,132.3 603,131.8 606,131.2 609,130.6 612,130 615,129.3 618,128.6 621,127.6 624,126.5 627,125.3 630,123.9 633,122.5 636,121.1 639,119.7 642,118.2 645,116.5 648,114.8 651,113.1 654,111.4 657,109.8 660,108.1 663,106.5 666,104.8 L666,346 462,346Z" fill="#12fbe5"/>
<path d="M462,166.4 465,165 468,163.5 471,162.1 474,160.7 477,159.2 480,157.8 483,156.4 486,154.9 489,153.4 492,151.9 495,150.6 498,149.2 501,147.9 504,146.5 507,145.2 510,144 513,142.9 516,141.9 519,141.2 522,140.6 525,139.9 528,139.4 531,138.8 534,138.4 537,138.1 540,137.9 543,137.8 546,137.9 549,138.2 552,138.5 555,139 558,139.4 561,139.9 564,140.4 567,140.8 570,141.2 573,141.7 576,142.2 579,142.7 582,143.1 585,143.5 588,143.7 591,143.8 594,143.7 597,143.4 600,143.1 603,142.6 606,142 609,141.4 612,140.8 615,140.1 618,139.4 621,138.4 624,137.3 627,136.1 630,134.7 633,133.3 636,131.9 639,130.5 642,129 645,127.3 648,125.6 651,123.9 654,122.2 657,120.6 660,118.9 663,117.3 666,115.6 L666,346 462,346Z" fill="url(#g57)"/>
<path d="M543,159.1 546,159.3 549,159.2 552,159.2 555,159.1 558,159 561,159 564,159 567,159 570,159 573,159.3 576,159.5 579,159.7 582,159.9 585,160.1 588,160.2 591,160.2 594,160.1 597,160 600,159.7 603,159.4 606,159.1 609,158.7 612,158.2 615,157.8 618,157.1 621,156.2 624,155.2 627,154 630,152.8 633,151.5 636,150.3 639,149.2 642,148.2 645,147.2 648,146.3 651,145.3 654,144.3 657,143.3 660,142.3 663,141.3 666,140.3 L666,145.1 663,146.1 660,147.1 657,148.1 654,149.1 651,150.1 648,151.1 645,152 642,153 639,154 636,155.1 633,156.3 630,157.6 627,158.8 624,160 621,161 618,161.9 615,162.6 612,163 609,163.5 606,163.9 603,164.2 600,164.5 597,164.8 594,164.9 591,165 588,165 585,164.9 582,164.7 579,164.5 576,164.3 573,164.1 570,163.8 567,163.2 564,162.6 561,162.1 558,161.5 555,161 552,160.5 549,160 546,159.4 543,159.1Z" fill="#3bffbb"/>
<path d="M462,209.8 465,207.8 468,205.8 471,203.8 474,201.8 477,199.8 480,197.8 483,195.8 486,193.8 489,191.8 492,189.8 495,187.8 498,185.8 501,183.9 504,181.9 507,179.8 510,177.8 513,175.9 516,174.1 519,172.4 522,170.7 525,169 528,167.5 531,166.4 534,165.7 537,165.4 540,165.2 543,165 546,164.9 552,164.9 555,165 558,165.5 561,166.2 564,167.2 567,168.3 570,169.3 573,170.1 576,170.8 579,171.6 582,172.3 585,172.9 588,173.4 591,173.7 594,173.8 597,173.7 600,173.6 603,173.4 606,173.1 609,172.8 612,172.5 615,172.1 618,171.4 621,170.4 624,169.2 627,167.9 630,166.6 633,165.3 636,164 639,162.6 642,161.1 645,159.5 648,157.8 651,156.2 654,154.6 657,153.1 660,151.6 663,150.1 666,148.5 L666,346 462,346Z" fill="url(#g58)"/>
<path d="M462,220.7 465,218.5 468,216.4 471,214.2 474,212.1 477,210 480,207.8 483,205.7 486,203.5 489,201.4 492,199.3 495,197.1 498,195 501,192.9 504,190.7 507,188.5 510,186.2 513,184.1 516,182.2 519,180.2 522,178.2 525,176.3 528,174.6 531,173.3 534,172.5 537,172.3 540,172 543,171.8 546,171.7 549,171.6 552,171.5 555,171.5 558,172 561,172.8 564,173.9 567,175.1 570,176.3 573,177.2 576,178 579,178.8 582,179.6 585,180.3 588,180.9 591,181.2 594,181.3 597,181.3 600,181.2 603,181 606,180.9 609,180.7 612,180.5 615,180.1 618,179.4 621,178.4 624,177.2 627,175.9 630,174.6 633,173.3 636,172 639,170.6 642,169.1 645,167.5 648,165.9 651,164.2 654,162.8 657,161.2 660,159.8 663,158.2 666,156.8 L666,346 462,346Z" fill="#ff7d00"/>
<path d="M462,222.7 465,220.6 468,218.6 471,216.5 474,214.5 477,212.4 480,210.3 483,208.3 486,206.2 489,204.2 492,202.1 495,200 498,198 501,195.9 504,193.9 507,191.7 510,189.6 513,187.5 516,185.6 519,183.7 522,181.7 525,179.9 528,178.2 531,176.9 534,176.1 537,175.6 540,175.2 543,174.9 546,174.8 549,174.6 552,174.5 555,174.5 558,174.8 561,175.5 564,176.4 567,177.4 570,178.4 573,179.3 576,180.1 579,180.9 582,181.7 585,182.3 588,182.9 591,183.3 594,183.5 597,183.5 600,183.5 603,183.5 606,183.3 609,183.1 612,182.8 615,182.4 618,181.8 621,180.8 624,179.7 627,178.5 630,177.2 633,175.9 636,174.5 639,173.1 642,171.6 645,170 648,168.4 651,166.8 654,165.3 657,163.8 660,162.3 663,160.8 666,159.3 L666,346 462,346Z" fill="#ffad00"/>
<path d="M462,224.3 465,222.3 468,220.3 471,218.3 474,216.4 477,214.4 480,212.4 483,210.4 486,208.4 489,206.4 492,204.4 495,202.4 498,200.4 501,198.4 504,196.4 507,194.3 510,192.3 513,190.2 516,188.3 519,186.4 522,184.6 525,182.8 528,181.2 531,179.8 534,178.9 537,178.3 540,177.8 543,177.4 546,177.2 549,177.1 552,176.9 555,176.9 558,177.1 561,177.7 564,178.4 567,179.2 570,180.1 573,181 576,181.8 579,182.6 582,183.3 585,184 588,184.5 591,185 594,185.2 597,185.4 600,185.4 603,185.4 606,185.2 609,185 612,184.7 615,184.3 618,183.6 621,182.8 624,181.8 627,180.6 630,179.2 633,177.9 636,176.5 639,175 642,173.5 645,172 648,170.4 651,168.8 654,167.3 657,165.8 660,164.3 663,162.8 666,161.3 L666,346 462,346Z" fill="#ffd100"/>
<path d="M462,228.8 465,227 468,225.2 471,223.4 474,221.5 477,219.7 480,217.9 483,216.1 486,214.3 489,212.4 492,210.6 495,208.8 498,207 501,205.2 504,203.3 507,201.5 510,199.6 513,197.7 516,195.8 519,194 522,192.3 525,190.8 528,189.3 531,187.9 534,186.6 537,185.6 540,184.8 543,184.2 546,184 549,183.8 552,183.6 555,183.4 558,183.4 561,183.5 564,183.7 567,184.2 570,184.8 573,185.5 576,186.3 579,187.1 582,187.9 585,188.4 588,189 591,189.6 594,190 597,190.4 600,190.6 603,190.7 606,190.6 609,190.3 612,190 615,189.5 618,188.8 621,188.1 624,187.3 627,186.3 630,185 633,183.5 636,182 639,180.5 642,179 645,177.5 648,176 651,174.4 654,172.9 657,171.4 660,169.9 663,168.4 666,166.9 L666,346 462,346Z" fill="#ffb300"/>
<path d="M462,230.9 465,229.1 468,227.4 471,225.7 474,223.9 477,222.2 480,220.4 483,218.7 486,216.9 489,215.2 492,213.5 495,211.7 498,210 501,208.2 504,206.5 507,204.7 510,203 513,201.1 516,199.2 519,197.5 522,195.9 525,194.4 528,193 531,191.5 534,190.1 537,188.9 540,188 543,187.3 546,187 549,186.8 552,186.6 555,186.4 558,186.3 561,186.2 564,186.2 567,186.4 570,186.9 573,187.6 576,188.4 579,189.2 582,189.9 585,190.5 588,191.1 591,191.7 594,192.2 597,192.7 600,193 603,193.1 606,193 609,192.7 612,192.3 615,191.8 618,191.2 621,190.6 624,189.8 627,188.8 630,187.6 633,186.1 636,184.5 639,183 642,181.4 645,180 648,178.5 651,177 654,175.5 657,174 660,172.5 663,171 666,169.5 L666,346 462,346Z" fill="#4effa9"/>
<path d="M462,225.8 465,224.4 468,223 471,221.6 474,220.2 477,218.8 480,217.4 483,216 486,214.6 489,213.2 492,211.8 495,210.4 498,209 501,207.6 504,206.2 507,204.7 510,203.3 513,201.8 516,200.3 519,198.9 522,197.6 525,196.5 528,195.3 531,194.1 534,193.1 537,192.2 540,191.5 543,191.1 546,191 549,190.8 552,190.7 555,190.6 558,190.5 561,190.4 564,190.4 567,190.6 570,191.1 573,191.8 576,192.6 579,193.4 582,194.2 585,194.8 588,195.4 591,196 594,196.6 597,197 600,197.3 603,197.4 606,197.3 609,197.1 612,196.8 615,196.3 618,195.8 621,195.2 624,194.6 627,193.7 630,192.6 633,191.2 636,189.8 639,188.4 642,187 645,185.7 648,184.3 651,182.9 654,181.5 657,180.2 660,178.8 663,177.4 666,176.1 L666,346 462,346Z" fill="#27ffd0"/>
<path d="M462,218.1 465,217.2 468,216.4 471,215.5 474,214.6 477,213.7 480,212.8 483,211.9 486,211 489,210.1 492,209.2 495,208.3 498,207.4 501,206.5 504,205.7 507,204.8 510,203.9 513,202.8 516,201.9 519,201 522,200.2 525,199.5 528,198.8 531,198.1 534,197.5 537,197 540,196.8 543,196.7 546,196.8 549,196.9 552,196.8 555,196.7 558,196.7 564,196.7 567,196.9 570,197.3 573,198 576,198.8 579,199.7 582,200.5 585,201.1 588,201.9 591,202.6 594,203.1 597,203.5 600,203.7 603,203.9 606,203.8 609,203.7 612,203.4 615,203.1 618,202.7 621,202.2 624,201.7 627,201 630,200 633,198.9 636,197.7 639,196.5 642,195.3 645,194.2 648,193 651,191.8 654,190.6 657,189.5 660,188.3 663,187.2 666,186 L666,346 462,346Z" fill="#5bff9c"/>
<path d="M462,213 465,212.5 468,211.9 471,211.4 474,210.8 477,210.3 480,209.7 483,209.2 486,208.6 489,208.1 492,207.5 495,207 498,206.4 501,205.9 504,205.3 507,204.8 510,204.2 513,203.5 516,202.9 519,202.4 522,201.9 525,201.5 528,201.1 531,200.8 534,200.4 537,200.3 540,200.3 543,200.5 546,200.8 549,200.9 561,200.8 564,200.9 567,201.1 570,201.5 573,202.1 576,202.9 579,203.8 582,204.7 585,205.4 588,206.2 591,206.9 594,207.4 597,207.8 600,208 603,208.2 606,208.2 609,208 612,207.8 615,207.6 618,207.2 621,206.9 624,206.5 627,205.8 630,205 633,204.1 636,203 639,201.9 642,200.9 645,199.8 648,198.8 651,197.7 654,196.7 657,195.7 660,194.7 663,193.6 666,192.6 L666,346 462,346Z" fill="#34ffc3"/>
<path d="M462,207.5 465,207.3 468,207.2 471,207 474,206.8 477,206.6 480,206.4 483,206.2 486,206.1 489,205.9 492,205.7 495,205.5 498,205.3 501,205.1 504,205 507,204.8 510,204.6 513,204.3 516,204.1 519,203.9 522,203.8 525,203.7 528,203.7 531,203.6 534,203.6 537,203.8 540,204.2 543,204.6 546,205 549,205.3 552,205.3 564,205.4 567,205.6 570,206 573,206.6 576,207.4 579,208.4 582,209.3 585,210 588,210.9 591,211.7 594,212.1 597,212.5 600,212.7 603,212.8 606,212.9 609,212.8 612,212.6 615,212.4 618,212.2 621,211.9 624,211.6 627,211.1 630,210.4 633,209.6 636,208.7 639,207.8 642,206.9 645,206 648,205 651,204.1 654,203.2 657,202.4 660,201.5 663,200.7 666,199.8 L666,346 462,346Z" fill="#75ff82"/>
<path d="M462,203.3 465,203.4 468,203.5 471,203.6 474,203.7 477,203.8 480,203.9 483,204 486,204.1 489,204.2 492,204.3 495,204.4 498,204.5 501,204.6 504,204.7 507,204.8 510,204.9 513,204.9 516,205 519,205.1 522,205.2 525,205.4 528,205.6 531,205.8 534,206.1 537,206.5 540,207.1 543,207.7 546,208.3 549,208.6 552,208.7 555,208.8 561,208.9 564,208.9 567,209.1 570,209.4 573,210 576,210.9 579,211.8 582,212.8 585,213.6 588,214.5 591,215.3 594,215.8 597,216.1 600,216.3 603,216.4 609,216.4 612,216.3 615,216.2 618,216 621,215.8 624,215.5 627,215.1 630,214.6 633,213.9 636,213.1 639,212.3 642,211.5 645,210.7 648,209.9 651,209 654,208.3 657,207.6 660,206.8 663,206.1 666,205.3 L666,346 462,346Z" fill="#5bff9c"/>
<path d="M462,197.8 465,198.2 468,198.7 471,199.2 474,199.6 477,200.1 480,200.6 483,201 486,201.5 489,202 492,202.4 495,202.9 498,203.4 501,203.9 504,204.3 507,204.8 510,205.3 513,205.7 516,206.1 519,206.6 522,207.1 525,207.6 528,208.2 531,208.7 534,209.2 537,210 540,210.9 543,211.8 546,212.5 549,213 552,213.2 555,213.3 558,213.3 561,213.4 564,213.5 567,213.6 570,213.9 573,214.5 576,215.4 579,216.4 582,217.3 585,218.2 588,219.2 591,220 594,220.5 597,220.7 600,220.9 603,221.1 606,221.2 612,221.1 615,221.1 618,221 621,220.9 624,220.7 627,220.4 630,220 633,219.5 636,218.9 639,218.2 642,217.6 645,216.9 648,216.1 651,215.4 654,214.9 657,214.3 660,213.7 663,213.1 666,212.5 L666,346 462,346Z" fill="#9cff5b"/>
<path d="M462,192.7 465,193.5 468,194.3 471,195.1 474,195.9 477,196.7 480,197.5 483,198.3 486,199.1 489,199.9 492,200.7 495,201.6 498,202.4 501,203.2 504,204 507,204.8 510,205.6 513,206.4 516,207.2 519,208 522,208.8 525,209.7 528,210.5 531,211.3 534,212.2 537,213.3 540,214.5 543,215.6 546,216.4 549,217 552,217.2 555,217.4 558,217.5 561,217.6 564,217.7 567,217.8 570,218.1 573,218.6 576,219.5 579,220.5 582,221.6 585,222.5 588,223.5 591,224.4 594,224.8 597,225.1 600,225.2 603,225.4 606,225.5 609,225.5 621,225.5 624,225.4 627,225.3 630,225 633,224.6 636,224.2 639,223.7 642,223.1 645,222.5 648,221.9 651,221.4 654,220.9 657,220.5 660,220 663,219.6 666,219.1 L666,346 462,346Z" fill="#b6ff41"/>
<path d="M462,188.4 465,189.5 468,190.6 471,191.7 474,192.8 477,193.9 480,195 483,196.1 486,197.2 489,198.2 492,199.3 495,200.4 498,201.5 501,202.6 504,203.7 507,204.8 510,205.9 513,207 516,208.1 519,209.2 522,210.3 525,211.4 528,212.5 531,213.5 534,214.6 537,216 540,217.4 543,218.7 546,219.7 549,220.4 552,220.7 555,220.8 558,220.9 561,221 564,221.1 567,221.3 570,221.5 573,222.1 576,223 579,224 582,225.1 585,226 588,227.1 591,228 594,228.5 597,228.6 600,228.8 603,229 606,229.1 609,229.2 612,229.3 615,229.3 621,229.4 624,229.4 627,229.3 630,229.1 633,228.9 636,228.6 639,228.2 642,227.7 645,227.3 648,226.8 651,226.3 654,226 657,225.6 660,225.3 663,225 666,224.7 L666,346 462,346Z" fill="#c90000"/>
<path d="M462,189.6 465,190.7 468,191.8 471,192.9 474,194 477,195.1 480,196.2 483,197.3 486,198.4 489,199.4 492,200.5 495,201.6 498,202.7 501,203.8 504,204.9 507,206 510,207.1 513,208.2 516,209.3 519,210.4 522,211.5 525,212.6 528,213.7 531,214.7 534,215.8 537,217.2 540,218.6 543,219.9 546,220.9 549,221.6 552,221.9 555,222 558,222.1 561,222.2 564,222.3 567,222.5 570,222.7 573,223.3 576,224.2 579,225.2 582,226.3 585,227.2 588,228.3 591,229.2 594,229.7 597,229.8 600,230 603,230.2 606,230.3 609,230.4 612,230.5 615,230.5 621,230.6 624,230.6 627,230.5 630,230.3 633,230.1 636,229.8 639,229.4 642,228.9 645,228.5 648,228 651,227.5 654,227.2 657,226.8 660,226.5 663,226.2 666,225.9 L666,346 462,346Z" fill="#800000"/>
<path d="M462,192.6 465,193.7 468,194.8 471,195.9 474,197 477,198.1 480,199.2 483,200.3 486,201.4 489,202.4 492,203.5 495,204.6 498,205.7 501,206.8 504,207.9 507,209 510,210.1 513,211.2 516,212.3 519,213.4 522,214.5 525,215.6 528,216.7 531,217.7 534,218.8 537,220.2 540,221.6 543,222.9 546,223.9 549,224.6 552,224.9 555,225 558,225.1 561,225.2 564,225.3 567,225.5 570,225.7 573,226.3 576,227.2 579,228.2 582,229.3 585,230.2 588,231.3 591,232.2 594,232.7 597,232.8 600,233 603,233.2 606,233.3 609,233.4 612,233.5 615,233.5 621,233.6 624,233.6 627,233.5 630,233.3 633,233.1 636,232.8 639,232.4 642,231.9 645,231.5 648,231 651,230.5 654,230.2 657,229.8 660,229.5 663,229.2 666,228.9 L666,346 462,346Z" fill="#ff4100"/>
<path d="M462,196.9 465,198 468,199.1 471,200.2 474,201.3 477,202.4 480,203.5 483,204.6 486,205.7 489,206.7 492,207.8 495,208.9 498,210 501,211.1 504,212.2 507,213.3 510,214.4 513,215.5 516,216.6 519,217.7 522,218.8 525,219.9 528,221 531,222 534,223.1 537,224.5 540,225.9 543,227.2 546,228.2 549,228.9 552,229.2 555,229.3 558,229.4 561,229.5 564,229.6 567,229.8 570,230 573,230.6 576,231.5 579,232.5 582,233.6 585,234.5 588,235.6 591,236.5 594,237 597,237.1 600,237.3 603,237.5 606,237.6 609,237.7 612,237.8 615,237.8 621,237.9 624,237.9 627,237.8 630,237.6 633,237.4 636,237.1 639,236.7 642,236.2 645,235.8 648,235.3 651,234.8 654,234.5 657,234.1 660,233.8 663,233.5 666,233.2 L666,346 462,346Z" fill="#ff5f00"/>
<path d="M462,199.9 465,201 468,202.1 471,203.2 474,204.3 477,205.4 480,206.5 483,207.6 486,208.7 489,209.7 492,210.8 495,211.9 498,213 501,214.1 504,215.2 507,216.3 510,217.4 513,218.5 516,219.6 519,220.7 522,221.8 525,222.9 528,224 531,225 534,226.1 537,227.5 540,228.9 543,230.2 546,231.2 549,231.9 552,232.2 555,232.3 558,232.4 561,232.5 564,232.6 567,232.8 570,233 573,233.6 576,234.5 579,235.5 582,236.6 585,237.5 588,238.6 591,239.5 594,240 597,240.1 600,240.3 603,240.5 606,240.6 609,240.7 612,240.8 615,240.8 621,240.9 624,240.9 627,240.8 630,240.6 633,240.4 636,240.1 639,239.7 642,239.2 645,238.8 648,238.3 651,237.8 654,237.5 657,237.1 660,236.8 663,236.5 666,236.2 L666,346 462,346Z" fill="#ff4100"/></g>
<g mask="url(#cE)"><path d="M60,264.8 72,264.7 84,264.6 96,264.6 108,264.5 120,264.4 141,264.5 147,264.6 153,264.6 156,264.7 159,264.7 162,264.8 165,264.8 168,264.9 171,264.9 174,265 177,265.1 180,265.1 183,265.2 186,265.2 189,265.3 192,265.3 195,265.4 198,265.4 201,265.5 204,265.5 207,265.6 210,265.6 213,265.7 216,265.7 219,265.8 222,265.9 225,265.9 228,265.4 231,265 234,264.5 237,264.1 240,263.6 243,263.2 246,262.5 249,261.6 252,260.8 255,259.9 258,259.1 261,258.2 264,257.4 267,256.5 270,255.6 273,254.7 276,253.8 279,252.9 282,252 285,251 288,249.9 291,248.8 294,247.7 297,246.7 300,245.6 303,244 306,242.4 309,240.8 312,239.2 315,237.6 318,235.9 321,234.3 324,233 327,231.8 330,230.5 333,229.3 336,228.1 339,226.8 342,225.6 345,224.6 348,223.5 351,222.4 354,221.3 357,220.2 360,219.1 363,218 366,216.9 369,215.9 372,214.9 375,214 378,213.1 381,212.2 384,211.3 387,210.3 390,209.4 393,208.5 396,207.6 399,206.7 402,205.9 405,205 408,204.2 411,203.4 414,202.6 417,201.8 420,201.2 423,200.6 426,200 429,199.4 432,198.8 435,198.2 438,198.7 441,201.1 444,203.4 447,205.7 450,207.1 453,208.5 456,209.9 459,211.3 462,212.8 465,214.3 468,215.7 471,216.9 474,216.3 477,215.7 480,215 483,214.4 486,213.8 489,213.2 492,212.8 495,214.4 498,216.1 501,218.2 504,220.6 507,223.1 510,225.6 513,228 516,228.4 519,228.7 522,229.1 525,229.4 528,229.8 531,230.1 534,230.5 537,230.8 540,231.1 543,231.3 546,231.6 549,231.9 552,232.2 555,232.5 558,233.1 561,234 564,234.9 567,235.8 570,236.7 573,237.7 576,238.6 579,239.5 582,240.9 585,242.4 588,244 591,245.6 594,247.2 597,248.7 600,249.7 603,249.4 606,249.1 609,248.8 612,248.4 615,248 618,247.6 621,247.2 624,246.8 627,246.2 630,245.7 633,245.2 636,244.6 639,244.1 642,243.6 645,243.1 648,242.5 651,242 654,241.5 657,240.9 660,240.4 663,239.9 666,239.4 L666,346 60,346Z" fill="url(#g59)"/>
<path d="M60,269 105,268.9 132,269 138,269 144,269.1 150,269.2 153,269.2 156,269.3 159,269.4 162,269.4 165,269.5 168,269.6 171,269.7 174,269.8 177,269.9 180,270 183,270.1 186,270.2 189,270.3 192,270.4 195,270.5 198,270.6 201,270.6 204,270.7 207,270.8 210,270.9 213,270.9 216,271 219,271.1 225,271.1 228,270.9 231,270.6 234,270.3 237,270 240,269.8 243,269.5 246,269.1 249,268.6 252,268.1 255,267.5 258,266.4 261,264.9 264,263.5 267,262.3 270,261 273,259.8 276,258.6 279,257.5 282,256.3 285,255.1 288,253.9 291,252.7 294,251.5 297,250.3 300,249.2 303,247.7 306,246.2 309,244.7 312,243.2 315,241.8 318,240.3 321,238.9 324,237.7 327,236.5 330,235.3 333,234.1 336,232.9 339,231.8 342,230.6 345,229.5 348,228.5 351,227.4 354,226.3 357,225.3 360,224.2 363,223.2 366,222.2 369,221.2 372,220.2 375,219.3 378,218.4 381,217.5 384,216.6 387,215.8 390,214.9 393,214.1 396,213.3 399,212.6 402,211.9 405,211.2 408,210.6 411,209.9 414,209.3 417,208.8 420,208.3 423,207.9 426,207.5 429,207.1 432,206.7 435,206.3 438,206.7 441,208 444,209.4 447,210.8 450,211.8 453,212.9 456,214.2 459,215.6 462,217 465,218.5 468,219.9 471,221.2 474,221.5 477,221.9 480,222.3 483,222.8 486,223.4 489,224.1 492,224.9 495,227.1 498,229.4 501,232 504,234.9 507,237.9 510,240.9 513,243.8 516,245.5 519,247.1 522,248.8 525,250.5 528,252.2 531,253.8 534,255.5 537,257.1 540,258.8 543,260.4 546,262 549,263.7 552,265.3 555,266.9 558,268.7 561,270.7 564,272.7 567,274.7 570,276.7 573,278.8 576,280.8 579,282.8 582,285 585,287.4 588,289.9 591,292.3 594,294.7 597,297.1 600,299.1 603,300.4 606,301.6 609,302.9 612,304.2 615,305.4 618,306.6 621,307.8 624,309 627,310.1 630,311.3 633,312.4 636,313.6 639,314.7 642,315.8 645,317 648,318.1 651,319.3 654,320.4 657,321.5 660,322.7 663,323.8 666,325 L666,346 60,346Z" fill="url(#g60)"/>
<path d="M60,271.9 96,272 111,272 123,272.1 132,272.2 138,272.2 144,272.3 150,272.4 153,272.4 156,272.5 159,272.6 162,272.7 165,272.8 168,272.9 171,273 174,273.1 177,273.3 180,273.4 183,273.5 186,273.7 189,273.8 192,273.9 195,274 198,274.1 201,274.3 204,274.4 207,274.5 210,274.5 213,274.6 216,274.7 219,274.7 225,274.8 228,274.7 231,274.5 234,274.4 237,274.2 240,274.1 243,273.9 246,273.7 249,273.4 252,273.2 255,272.8 258,271.5 261,269.5 264,267.8 267,266.3 270,264.9 273,263.4 276,262.1 279,260.7 282,259.4 285,258 288,256.7 291,255.4 294,254.2 297,252.9 300,251.7 303,250.3 306,248.9 309,247.5 312,246.1 315,244.7 318,243.4 321,242.1 324,240.9 327,239.8 330,238.6 333,237.5 336,236.4 339,235.2 342,234.1 345,233 348,232 351,230.9 354,229.9 357,228.8 360,227.8 363,226.8 366,225.8 369,224.9 372,223.9 375,223 378,222.1 381,221.2 384,220.4 387,219.5 390,218.8 393,218 396,217.4 399,216.7 402,216.1 405,215.5 408,215 411,214.5 414,214 417,213.6 420,213.3 423,213.1 426,212.8 429,212.5 432,212.3 435,212.1 438,212.2 441,212.9 444,213.7 447,214.4 450,215 453,216 456,217.2 459,218.6 462,220 465,221.4 468,222.9 471,224.3 474,225.2 477,226.3 480,227.4 483,228.7 486,230.1 489,231.7 492,233.5 495,236 498,238.7 501,241.7 504,245 507,248.3 510,251.6 513,254.8 516,257.4 519,260 522,262.6 525,265.2 528,267.8 531,270.4 534,273 537,275.6 540,278.1 543,280.7 546,283.3 549,285.9 552,288.4 555,291 558,293.7 561,296.4 564,299.2 567,302 570,304.7 573,307.5 576,310.3 579,313.1 582,316 585,319 588,321.9 591,324.9 594,327.9 597,330.9 600,333.7 603,336.1 606,338.4 609,340.8 612,343.2 615,345.5 618,346 666,346 L666,346 60,346Z" fill="url(#g61)"/>
<path d="M60,275.3 69,275.4 87,275.4 99,275.5 108,275.6 114,275.6 120,275.7 126,275.7 132,275.8 138,275.9 144,276 150,276 153,276.1 156,276.2 159,276.3 162,276.4 165,276.5 168,276.7 171,276.8 174,277 177,277.1 180,277.3 183,277.5 186,277.6 189,277.8 192,277.9 195,278.1 198,278.3 201,278.4 204,278.5 207,278.6 210,278.7 213,278.8 216,278.9 219,279 252,279 255,278.9 258,277.3 261,274.8 264,272.7 267,271 270,269.3 273,267.6 276,266 279,264.4 282,262.9 285,261.4 288,259.9 291,258.5 294,257.2 297,255.8 300,254.5 303,253.2 306,251.9 309,250.6 312,249.3 315,248.1 318,246.9 321,245.8 324,244.6 327,243.5 330,242.4 333,241.4 336,240.3 339,239.2 342,238.1 345,237 348,236 351,234.9 354,233.9 357,232.9 360,231.9 363,230.9 366,230 369,229.1 372,228.2 375,227.3 378,226.4 381,225.5 384,224.7 387,223.9 390,223.1 393,222.5 396,221.9 399,221.4 402,221 405,220.5 408,220.1 411,219.7 414,219.4 417,219.1 420,219 423,218.9 426,218.8 429,218.7 432,218.7 435,218.6 441,218.5 447,218.5 450,218.8 453,219.5 456,220.7 459,222 462,223.4 465,224.8 468,226.2 471,227.7 474,229.4 477,231.3 480,233.2 483,235.4 486,237.8 489,240.4 492,243.2 495,246.2 498,249.3 501,252.7 504,256.4 507,260.2 510,263.8 513,267.5 516,271.1 519,274.8 522,278.4 525,282.1 528,285.7 531,289.4 534,293 537,296.7 540,300.3 543,303.9 546,307.6 549,311.2 552,314.9 555,318.5 558,322.2 561,325.8 564,329.5 567,333.1 570,336.7 573,340.4 576,344 579,346 666,346 L666,346 60,346Z" fill="#8fff68"/>
<path d="M60,277.8 69,277.9 87,277.9 99,278 108,278.1 114,278.1 120,278.2 126,278.2 132,278.3 138,278.4 144,278.5 150,278.5 153,278.6 156,278.7 159,278.8 162,278.9 165,279 168,279.2 171,279.3 174,279.5 177,279.6 180,279.8 183,280 186,280.1 189,280.3 192,280.4 195,280.6 198,280.8 201,280.9 204,281 207,281.1 210,281.2 213,281.3 216,281.4 219,281.5 252,281.5 255,281.4 258,279.8 261,277.3 264,275.2 267,273.5 270,271.8 273,270.1 276,268.5 279,266.9 282,265.4 285,263.9 288,262.4 291,261 294,259.7 297,258.3 300,257 303,255.7 306,254.4 309,253.1 312,251.8 315,250.6 318,249.4 321,248.3 324,247.1 327,246 330,244.9 333,243.9 336,242.8 339,241.7 342,240.6 345,239.5 348,238.5 351,237.4 354,236.4 357,235.4 360,234.4 363,233.4 366,232.5 369,231.6 372,230.7 375,229.8 378,228.9 381,228 384,227.2 387,226.4 390,225.6 393,225 396,224.4 399,223.9 402,223.5 405,223 408,222.6 411,222.2 414,221.9 417,221.6 420,221.5 423,221.4 426,221.3 429,221.2 432,221.2 435,221.1 441,221 447,221 450,221.3 453,222 456,223.2 459,224.5 462,225.9 465,227.3 468,228.7 471,230.2 474,231.9 477,233.8 480,235.7 483,237.9 486,240.3 489,242.9 492,245.7 495,248.7 498,251.8 501,255.2 504,258.9 507,262.7 510,266.3 513,270 516,273.6 519,277.3 522,280.9 525,284.6 528,288.2 531,291.9 534,295.5 537,299.2 540,302.8 543,306.4 546,310.1 549,313.7 552,317.4 555,321 558,324.7 561,328.3 564,332 567,335.6 570,339.2 573,342.9 576,346 666,346 L666,346 60,346Z" fill="#c3ff34"/>
<path d="M249,292.9 252,291.6 255,290.2 258,288.9 261,287.6 264,286.2 267,284.9 270,283.5 273,282.1 276,280.8 279,279.4 282,278.1 285,276.8 288,275.4 291,274.1 294,272.7 297,271.4 300,270 303,268.7 306,267.4 309,266.1 312,264.7 315,263.3 318,261.9 321,260.5 324,259 327,257.3 330,255.6 333,254 336,252.6 339,251.4 342,250.5 345,249.8 348,249.1 351,248.6 354,248 357,247.5 360,247 363,246.5 366,246 369,245.3 372,244.7 375,243.9 378,243 381,242.1 384,241.1 387,240.1 390,239.1 393,238.1 396,237.2 399,236.4 402,235.6 405,234.8 408,234 411,233.2 414,232.5 417,231.8 420,231.2 423,230.8 426,230.7 432,230.8 435,230.8 438,230.9 441,231 444,231.2 447,231.3 450,231.5 453,232 456,232.8 459,234 462,235.4 465,236.8 468,238.5 471,240.7 474,243.3 477,246 480,248.6 483,251 486,253.4 489,255.8 492,258.2 495,260.6 498,263 501,265.4 504,267.8 507,270.3 510,272.8 513,275.3 516,277.8 519,280.3 522,282.9 525,285.4 528,287.9 531,290.4 534,292.9 537,295.4 540,297.9 543,300.4 546,302.9 549,305.4 552,308 555,310.5 558,313 561,315.5 564,318 567,320.5 570,323 573,325.5 576,328 579,330.5 582,333 585,335.6 588,338.1 591,340.6 594,343.1 597,345.6 600,346 666,346 L666,346 249,346Z" fill="#ff6500"/>
<path d="M249,295.8 252,294.4 255,293.1 258,291.7 261,290.4 264,289 267,287.7 270,286.3 273,284.9 276,283.6 279,282.2 282,280.9 285,279.6 288,278.2 291,276.9 294,275.5 297,274.2 300,272.8 303,271.5 306,270.2 309,268.9 312,267.5 315,266.1 318,264.7 321,263.3 324,261.8 327,260.1 330,258.4 333,256.8 336,255.4 339,254.2 342,253.3 345,252.6 348,251.9 351,251.4 354,250.8 357,250.3 360,249.8 363,249.3 366,248.8 369,248.1 372,247.5 375,246.7 378,245.8 381,244.9 384,243.9 387,242.9 390,241.9 393,240.9 396,240 399,239.2 402,238.4 405,237.6 408,236.8 411,236 414,235.3 417,234.6 420,234 423,233.6 426,233.5 432,233.6 435,233.6 438,233.7 441,233.8 444,234 447,234.1 450,234.3 453,234.8 456,235.6 459,236.8 462,238.2 465,239.6 468,241.3 471,243.5 474,246.1 477,248.8 480,251.4 483,253.8 486,256.2 489,258.6 492,261 495,263.4 498,265.8 501,268.2 504,270.6 507,273.1 510,275.6 513,278.1 516,280.6 519,283.1 522,285.7 525,288.2 528,290.7 531,293.2 534,295.7 537,298.2 540,300.7 543,303.2 546,305.7 549,308.2 552,310.8 555,313.3 558,315.8 561,318.3 564,320.8 567,323.3 570,325.8 573,328.3 576,330.8 579,333.3 582,335.8 585,338.4 588,340.9 591,343.4 594,345.9 597,346 666,346 L666,346 249,346Z" fill="#ff9500"/>
<path d="M249,298.1 252,296.8 255,295.4 258,294.1 261,292.8 264,291.4 267,290.1 270,288.7 273,287.3 276,286 279,284.6 282,283.3 285,281.9 288,280.6 291,279.2 294,277.9 297,276.6 300,275.2 303,273.9 306,272.6 309,271.3 312,269.9 315,268.5 318,267.1 321,265.7 324,264.2 327,262.5 330,260.8 333,259.2 336,257.8 339,256.6 342,255.7 345,255 348,254.3 351,253.8 354,253.2 357,252.7 360,252.2 363,251.7 366,251.2 369,250.5 372,249.9 375,249.1 378,248.2 381,247.3 384,246.3 387,245.3 390,244.3 393,243.3 396,242.4 399,241.6 402,240.8 405,240 408,239.2 411,238.4 414,237.7 417,237 420,236.4 423,236 426,235.9 432,236 435,236 438,236.1 441,236.2 444,236.4 447,236.5 450,236.7 453,237.2 456,238 459,239.2 462,240.6 465,242 468,243.7 471,245.9 474,248.5 477,251.2 480,253.8 483,256.2 486,258.6 489,261 492,263.4 495,265.8 498,268.2 501,270.6 504,273 507,275.5 510,278 513,280.5 516,283 519,285.5 522,288.1 525,290.6 528,293.1 531,295.6 534,298.1 537,300.6 540,303.1 543,305.6 546,308.1 549,310.6 552,313.2 555,315.7 558,318.2 561,320.7 564,323.2 567,325.7 570,328.2 573,330.7 576,333.2 579,335.7 582,338.2 585,340.8 588,343.3 591,345.8 594,346 666,346 L666,346 249,346Z" fill="#ffc800"/>
<path d="M249,300.4 252,299.1 255,297.8 258,296.4 261,295.1 264,293.7 267,292.4 270,291 273,289.6 276,288.3 279,286.9 282,285.6 285,284.2 288,282.9 291,281.6 294,280.2 297,278.9 300,277.5 303,276.2 306,274.9 309,273.6 312,272.2 315,270.8 318,269.4 321,268 324,266.5 327,264.8 330,263.1 333,261.5 336,260.1 339,258.9 342,258 345,257.3 348,256.6 351,256.1 354,255.5 357,255 360,254.5 363,254 366,253.5 369,252.8 372,252.2 375,251.4 378,250.5 381,249.6 384,248.6 387,247.6 390,246.6 393,245.6 396,244.7 399,243.9 402,243.1 405,242.3 408,241.5 411,240.7 414,240 417,239.3 420,238.7 423,238.3 426,238.2 432,238.3 435,238.3 438,238.4 441,238.5 444,238.7 447,238.8 450,239 453,239.5 456,240.3 459,241.5 462,242.9 465,244.3 468,246 471,248.2 474,250.8 477,253.5 480,256.1 483,258.5 486,260.9 489,263.3 492,265.7 495,268.1 498,270.5 501,272.9 504,275.3 507,277.8 510,280.3 513,282.8 516,285.3 519,287.8 522,290.4 525,292.9 528,295.4 531,297.9 534,300.4 537,302.9 540,305.4 543,307.9 546,310.4 549,312.9 552,315.5 555,318 558,320.5 561,323 564,325.5 567,328 570,330.5 573,333 576,335.5 579,338 582,340.5 585,343.1 588,345.6 591,346 666,346 L666,346 249,346Z" fill="#edff0a"/>
<path d="M249,338.8 252,336.8 255,334.8 258,332.8 261,330.8 264,328.8 267,326.8 270,324.8 273,322.8 276,320.8 279,318.8 282,316.8 285,314.8 288,312.8 291,310.7 294,308.7 297,306.7 300,304.7 303,302.7 306,300.7 309,298.7 312,296.7 315,294.7 318,292.7 321,290.7 324,288.7 327,286.5 330,284.4 333,282.4 336,280.4 339,278.6 342,276.9 345,275.2 348,273.6 351,272 354,270.6 357,269.4 360,268.3 363,267.3 366,266.4 369,265.5 372,264.8 375,264.1 378,263.4 381,262.8 384,262.2 387,261.7 390,261.2 393,260.7 396,260.2 399,259.7 402,259.1 405,258.5 408,257.8 411,257.1 414,256.4 417,255.7 420,255.1 423,254.5 426,254 429,253.7 432,253.4 435,253.4 438,253.5 441,253.7 444,253.9 447,254.2 450,254.6 453,255.1 456,255.5 459,256.1 462,256.9 465,258 468,259.3 471,260.8 474,262.4 477,264.3 480,266.5 483,268.9 486,271.4 489,274.1 492,277 495,280 498,282.8 501,285.6 504,288.4 507,291.2 510,294 513,296.8 516,299.6 519,302.4 522,305.3 525,308.1 528,310.9 531,313.7 534,316.5 537,319.3 540,322.1 543,324.9 546,327.7 549,330.5 552,333.3 555,336.1 558,338.9 561,341.7 564,344.5 567,346 666,346 L666,346 249,346Z" fill="#ff9b00"/>
<path d="M249,346 252,344.3 255,342.3 258,340.3 261,338.3 264,336.3 267,334.3 270,332.3 273,330.3 276,328.3 279,326.3 282,324.3 285,322.3 288,320.3 291,318.2 294,316.2 297,314.2 300,312.2 303,310.2 306,308.2 309,306.2 312,304.2 315,302.2 318,300.2 321,298.2 324,296.2 327,294 330,291.9 333,289.9 336,287.9 339,286.1 342,284.4 345,282.7 348,281.1 351,279.5 354,278.1 357,276.9 360,275.8 363,274.8 366,273.9 369,273 372,272.3 375,271.6 378,270.9 381,270.3 384,269.7 387,269.2 390,268.7 393,268.2 396,267.7 399,267.2 402,266.6 405,266 408,265.3 411,264.6 414,263.9 417,263.2 420,262.6 423,262 426,261.5 429,261.2 432,260.9 435,260.9 438,261 441,261.2 444,261.4 447,261.7 450,262.1 453,262.6 456,263 459,263.6 462,264.4 465,265.5 468,266.8 471,268.3 474,269.9 477,271.8 480,274 483,276.4 486,278.9 489,281.6 492,284.5 495,287.5 498,290.3 501,293.1 504,295.9 507,298.7 510,301.5 513,304.3 516,307.1 519,309.9 522,312.8 525,315.6 528,318.4 531,321.2 534,324 537,326.8 540,329.6 543,332.4 546,335.2 549,338 552,340.8 555,343.6 558,346 666,346 L666,346 249,346Z" fill="#ffd100"/></g>
<g mask="url(#cU)"><path d="M60,287 63,282 66,276.9 69,271.6 72,266.2 75,260.6 78,254.9 81,249 84,243 87,236.9 90,230.6 93,224.2 96,217.6 99,210.9 102,204 105,197 108,189.8 111,182.6 114,175.1 117,167.5 120,159.8 123,151.9 126,143.9 129,135.8 132,127.4 135,119 138,110.4 141,101.7 144,92.8 147,83.8 150,74.6 153,65.3 156,55.8 159,46.2 162,40 483,40 L483,346 60,346Z" fill="#ffe600"/>
<path d="M60,323 63,319.2 66,315.3 69,311.2 72,307 75,302.6 78,298.1 81,293.4 84,288.6 87,283.7 90,278.6 93,273.4 96,268 99,262.5 102,256.8 105,251 108,245 111,239 114,232.7 117,226.3 120,219.8 123,213.1 126,206.3 129,199.4 132,192.2 135,185 138,177.6 141,170.1 144,162.4 147,154.6 150,146.6 153,138.5 156,130.2 159,121.8 162,113.3 165,104.6 168,95.8 171,86.8 174,77.7 177,68.4 180,59 183,49.4 186,40 483,40 L483,346 60,346Z" fill="#800000"/>
<path d="M60,336.7 63,333.5 66,330.2 69,326.6 72,323 75,319.2 78,315.3 81,311.2 84,307 87,302.6 90,298.1 93,293.4 96,288.6 99,283.7 102,278.6 105,273.4 108,268 111,262.5 114,256.8 117,251 120,245 123,239 126,232.7 129,226.3 132,219.8 135,213.1 138,206.3 141,199.4 144,192.2 147,185 150,177.6 153,170.1 156,162.4 159,154.6 162,146.6 165,138.5 168,130.2 171,121.8 174,113.3 177,104.6 180,95.8 183,86.8 186,77.7 189,68.4 192,59 195,49.4 198,40 483,40 L483,346 60,346Z" fill="#ffe600"/>
<path d="M60,346 66,346 69,345.4 72,342.5 75,339.5 78,336.5 81,333.3 84,330 87,326.5 90,322.9 93,319.2 96,315.3 99,311.3 102,307.2 105,302.9 108,298.5 111,294 114,289.3 117,284.5 120,279.5 123,274.4 126,269.2 129,263.8 132,258.3 135,252.7 138,246.9 141,241 144,235 147,228.8 150,222.5 153,216 156,209.4 159,202.7 162,195.8 165,188.8 168,181.7 171,174.4 174,167 177,159.5 180,151.8 183,144 186,136 189,127.9 192,119.7 195,111.3 198,102.8 201,94.2 204,85.4 207,76.5 210,67.4 213,58.3 216,48.9 219,40 483,40 L483,346 60,346Z" fill="#ff8c00"/>
<path d="M60,346 69,346 72,344.8 75,341.9 78,338.9 81,335.8 84,332.6 87,329.3 90,325.8 93,322.2 96,318.5 99,314.6 102,310.6 105,306.5 108,302.2 111,297.8 114,293.2 117,288.5 120,283.7 123,278.7 126,273.7 129,268.4 132,263.1 135,257.6 138,251.9 141,246.2 144,240.3 147,234.2 150,228 153,221.7 156,215.3 159,208.7 162,202 165,195.2 168,188.2 171,181 174,173.8 177,166.4 180,158.9 183,151.2 186,143.4 189,135.5 192,127.4 195,119.2 198,110.9 201,102.4 204,93.8 207,85.1 210,76.2 213,67.2 216,58 219,48.7 222,40 483,40 L483,346 60,346Z" fill="#ffe600"/>
<path d="M60,346 75,346 78,344.3 81,341.4 84,338.4 87,335.3 90,332.1 93,328.8 96,325.3 99,321.7 102,318 105,314.1 108,310.1 111,306 114,301.8 117,297.4 120,292.8 123,288.2 126,283.4 129,278.5 132,273.4 135,268.2 138,262.9 141,257.4 144,251.9 147,246.1 150,240.3 153,234.3 156,228.2 159,222 162,215.6 165,209.1 168,202.4 171,195.6 174,188.7 177,181.7 180,174.5 183,167.2 186,159.8 189,152.2 192,144.5 195,136.7 198,128.7 201,120.6 204,112.4 207,104 210,95.5 213,86.9 216,78.1 219,69.2 222,60.2 225,51 228,41.7 231,40 483,40 L483,346 60,346Z" fill="#b6ff41"/>
<path d="M60,346 81,346 84,344.5 87,341.6 90,338.6 93,335.6 96,332.4 99,329.1 102,325.7 105,322.1 108,318.4 111,314.6 114,310.7 117,306.6 120,302.4 123,298 126,293.6 129,289 132,284.3 135,279.4 138,274.4 141,269.3 144,264.1 147,258.7 150,253.2 153,247.6 156,241.8 159,236 162,230 165,223.8 168,217.5 171,211.1 174,204.6 177,197.9 180,191.2 183,184.2 186,177.2 189,170 192,162.7 195,155.3 198,147.7 201,140 204,132.2 207,124.2 210,116.2 213,108 216,99.6 219,91.1 222,82.5 225,73.8 228,65 231,56 234,46.9 237,40 483,40 L483,346 60,346Z" fill="#ff5f00"/>
<path d="M60,346 90,346 93,344.3 96,341.3 99,338.4 102,335.4 105,332.3 108,329 111,325.6 114,322.1 117,318.4 120,314.6 123,310.8 126,306.7 129,302.6 132,298.3 135,293.9 138,289.4 141,284.8 144,280 147,275.1 150,270.1 153,264.9 156,259.7 159,254.3 162,248.8 165,243.1 168,237.3 171,231.5 174,225.4 177,219.3 180,213 183,206.6 186,200.1 189,193.5 192,186.7 195,179.8 198,172.8 201,165.7 204,158.4 207,151 210,143.5 213,135.9 216,128.1 219,120.2 222,112.2 225,104.1 228,95.8 231,87.5 234,78.9 237,70.3 240,61.6 243,52.7 246,43.7 249,40 483,40 L483,346 60,346Z" fill="#ffb900"/>
<path d="M60,346 99,346 102,345.2 105,342.3 108,339.4 111,336.5 114,333.4 117,330.2 120,326.9 123,323.5 126,319.9 129,316.2 132,312.4 135,308.5 138,304.5 141,300.4 144,296.1 147,291.7 150,287.2 153,282.6 156,277.8 159,273 162,268 165,262.9 168,257.6 171,252.3 174,246.8 177,241.3 180,235.5 183,229.7 186,223.8 189,217.7 192,211.5 195,205.2 198,198.8 201,192.3 204,185.6 207,178.8 210,172 213,164.9 216,157.8 219,150.5 222,143.2 225,135.7 228,128.1 231,120.3 234,112.5 237,104.5 240,96.4 243,88.2 246,79.9 249,71.4 252,62.8 255,54.1 258,45.3 261,40 483,40 L483,346 60,346Z" fill="#f7f500"/>
<path d="M60,346 114,346 117,344.2 120,341.3 123,338.5 126,335.5 129,332.4 132,329.3 135,326 138,322.6 141,319.1 144,315.5 147,311.7 150,307.9 153,303.9 156,299.8 159,295.6 162,291.3 165,286.9 168,282.4 171,277.8 174,273 177,268.2 180,263.2 183,258.1 186,252.9 189,247.6 192,242.2 195,236.7 198,231 201,225.3 204,219.4 207,213.4 210,207.3 213,201.1 216,194.8 219,188.3 222,181.8 225,175.1 228,168.4 231,161.5 234,154.5 237,147.4 240,140.2 243,132.8 246,125.4 249,117.8 252,110.2 255,102.4 258,94.5 261,86.5 264,78.4 267,70.2 270,61.8 273,53.4 276,44.8 279,40 483,40 L483,346 60,346Z" fill="#ff4100"/>
<path d="M60,346 114,346 117,345.5 120,342.6 123,339.8 126,336.9 129,333.9 132,330.8 135,327.6 138,324.2 141,320.8 144,317.2 147,313.5 150,309.7 153,305.8 156,301.8 159,297.7 162,293.5 165,289.1 168,284.7 171,280.1 174,275.4 177,270.6 180,265.7 183,260.7 186,255.6 189,250.4 192,245 195,239.5 198,234 201,228.3 204,222.5 207,216.6 210,210.6 213,204.4 216,198.2 219,191.8 222,185.4 225,178.8 228,172.1 231,165.3 234,158.4 237,151.4 240,144.2 243,137 246,129.6 249,122.2 252,114.6 255,106.9 258,99.1 261,91.2 264,83.2 267,75 270,66.8 273,58.4 276,49.9 279,41.3 282,40 483,40 L483,346 60,346Z" fill="#c90000"/>
<path d="M60,346 126,346 129,345.9 132,343.1 135,340.3 138,337.4 141,334.5 144,331.5 147,328.3 150,325.1 153,321.7 156,318.3 159,314.8 162,311.1 165,307.4 168,303.5 171,299.6 174,295.5 177,291.4 180,287.1 183,282.8 186,278.3 189,273.7 192,269.1 195,264.3 198,259.5 201,254.5 204,249.5 207,244.3 210,239 213,233.7 216,228.2 219,222.6 222,217 225,211.2 228,205.3 231,199.3 234,193.3 237,187.1 240,180.8 243,174.4 246,168 249,161.4 252,154.7 255,147.9 258,141 261,134.1 264,127 267,119.8 270,112.5 273,105.1 276,97.6 279,90 282,82.3 285,74.5 288,66.6 291,58.7 294,50.6 297,42.4 300,40 483,40 L483,346 60,346Z" fill="#ff4100"/>
<path d="M60,346 129,346 132,344.3 135,341.5 138,338.7 141,335.8 144,332.8 147,329.7 150,326.5 153,323.2 156,319.9 159,316.4 162,312.8 165,309.1 168,305.3 171,301.4 174,297.5 177,293.4 180,289.2 183,284.9 186,280.5 189,276.1 192,271.5 195,266.8 198,262 201,257.1 204,252.2 207,247.1 210,241.9 213,236.6 216,231.3 219,225.8 222,220.2 225,214.5 228,208.8 231,202.9 234,196.9 237,190.8 240,184.7 243,178.4 246,172 249,165.5 252,159 255,152.3 258,145.5 261,138.7 264,131.7 267,124.6 270,117.5 273,110.2 276,102.8 279,95.3 282,87.8 285,80.1 288,72.3 291,64.5 294,56.5 297,48.5 300,40.3 303,40 483,40 L483,346 60,346Z" fill="#e3ff14"/>
<path d="M60,346 141,346 144,344.8 147,342 150,339.2 153,336.4 156,333.5 159,330.6 162,327.5 165,324.3 168,321.1 171,317.8 174,314.4 177,310.9 180,307.3 183,303.7 186,299.9 189,296.1 192,292.2 195,288.2 198,284.2 201,280 204,275.8 207,271.4 210,267 213,262.5 216,258 219,253.3 222,248.5 225,243.7 228,238.8 231,233.8 234,228.7 237,223.6 240,218.3 243,213 246,207.6 249,202.1 252,196.5 255,190.8 258,185.1 261,179.2 264,173.3 267,167.3 270,161.2 273,155 276,148.8 279,142.4 282,136 285,129.5 288,122.9 291,116.2 294,109.5 297,102.6 300,95.7 303,88.7 306,81.6 309,74.4 312,67.1 315,59.8 318,52.4 321,44.8 324,40 483,40 L483,346 60,346Z" fill="#a9ff4e"/>
<path d="M60,346 147,346 150,344.1 153,341.4 156,338.6 159,335.8 162,332.9 165,329.9 168,326.9 171,323.8 174,320.6 177,317.3 180,314 183,310.5 186,307 189,303.4 192,299.8 195,296.1 198,292.2 201,288.3 204,284.4 207,280.3 210,276.2 213,272 216,267.7 219,263.4 222,258.9 225,254.4 228,249.8 231,245.2 234,240.4 237,235.6 240,230.7 243,225.7 246,220.7 249,215.5 252,210.3 255,205 258,199.7 261,194.2 264,188.7 267,183.1 270,177.4 273,171.7 276,165.9 279,159.9 282,154 285,147.9 288,141.8 291,135.5 294,129.3 297,122.9 300,116.4 303,109.9 306,103.3 309,96.6 312,89.9 315,83 318,76.1 321,69.1 324,62.1 327,54.9 330,47.7 333,40.4 336,40 483,40 L483,346 60,346Z" fill="#ffb900"/>
<path d="M60,346 153,346 156,345.6 159,342.9 162,340.2 165,337.4 168,334.6 171,331.8 174,328.8 177,325.8 180,322.7 183,319.6 186,316.4 189,313.1 192,309.7 195,306.3 198,302.9 201,299.3 204,295.7 207,292 210,288.2 213,284.4 216,280.5 219,276.6 222,272.5 225,268.5 228,264.3 231,260.1 234,255.8 237,251.4 240,247 243,242.5 246,237.9 249,233.3 252,228.6 255,223.8 258,218.9 261,214 264,209.1 267,204 270,198.9 273,193.7 276,188.5 279,183.2 282,177.8 285,172.3 288,166.8 291,161.2 294,155.6 297,149.8 300,144 303,138.2 306,132.3 309,126.3 312,120.2 315,114.1 318,107.9 321,101.6 324,95.3 327,88.9 330,82.4 333,75.9 336,69.3 339,62.6 342,55.8 345,49 348,42.1 351,40 483,40 L483,346 60,346Z" fill="#fdef00"/>
<path d="M60,346 159,346 162,345.4 165,342.7 168,340 171,337.3 174,334.5 177,331.6 180,328.7 183,325.8 186,322.8 189,319.7 192,316.5 195,313.3 198,310.1 201,306.7 204,303.4 207,299.9 210,296.4 213,292.8 216,289.2 219,285.5 222,281.8 225,278 228,274.1 231,270.2 234,266.2 237,262.1 240,258 243,253.8 246,249.6 249,245.3 252,240.9 255,236.5 258,232 261,227.5 264,222.9 267,218.2 270,213.5 273,208.7 276,203.9 279,199 282,194 285,189 288,183.9 291,178.8 294,173.6 297,168.3 300,163 303,157.6 306,152.1 309,146.6 312,141 315,135.4 318,129.7 321,124 324,118.2 327,112.3 330,106.3 333,100.3 336,94.3 339,88.2 342,82 345,75.7 348,69.4 351,63.1 354,56.7 357,50.2 360,43.6 363,40 483,40 L483,346 60,346Z" fill="#ff7d00"/>
<path d="M60,346 177,346 180,343.9 183,341.3 186,338.7 189,336 192,333.3 195,330.5 198,327.7 201,324.9 204,322 207,319.1 210,316.1 213,313.1 216,310.1 219,307 222,303.9 225,300.8 228,297.6 231,294.3 234,291 237,287.7 240,284.4 243,281 246,277.5 249,274.1 252,270.5 255,267 258,263.4 261,259.7 264,256.1 267,252.3 270,248.6 273,244.8 276,240.9 279,237 282,233.1 285,229.2 288,225.2 291,221.1 294,217 297,212.9 300,208.7 303,204.5 306,200.3 309,196 312,191.7 315,187.3 318,182.9 321,178.5 324,174 327,169.4 330,164.9 333,160.3 336,155.6 339,150.9 342,146.2 345,141.4 348,136.6 351,131.8 354,126.9 357,122 360,117 363,112 366,106.9 369,101.8 372,96.7 375,91.5 378,86.3 381,81.1 384,75.8 387,70.4 390,65.1 393,59.7 396,54.2 399,48.7 402,43.2 405,40 483,40 L483,346 60,346Z" fill="#fdef00"/>
<path d="M60,346 180,346 183,345 186,342.4 189,339.8 192,337.2 195,334.5 198,331.8 201,329 204,326.3 207,323.4 210,320.6 213,317.7 216,314.8 219,311.8 222,308.9 225,305.8 228,302.8 231,299.7 234,296.6 237,293.4 240,290.2 243,287 246,283.7 249,280.4 252,277 255,273.7 258,270.3 261,266.8 264,263.3 267,259.8 270,256.3 273,252.7 276,249.1 279,245.4 282,241.7 285,238 288,234.3 291,230.5 294,226.6 297,222.8 300,218.9 303,214.9 306,211 309,207 312,202.9 315,198.9 318,194.8 321,190.6 324,186.4 327,182.2 330,178 333,173.7 336,169.4 339,165 342,160.6 345,156.2 348,151.8 351,147.3 354,142.7 357,138.2 360,133.6 363,128.9 366,124.3 369,119.6 372,114.8 375,110.1 378,105.3 381,100.4 384,95.5 387,90.6 390,85.7 393,80.7 396,75.7 399,70.6 402,65.5 405,60.4 408,55.3 411,50.1 414,44.8 417,40 483,40 L483,346 60,346Z" fill="#e3ff14"/>
<path d="M60,346 186,346 189,344.1 192,341.5 195,338.9 198,336.3 201,333.6 204,331 207,328.2 210,325.5 213,322.7 216,319.9 219,317.1 222,314.2 225,311.4 228,308.4 231,305.5 234,302.5 237,299.5 240,296.5 243,293.4 246,290.3 249,287.2 252,284.1 255,280.9 258,277.7 261,274.5 264,271.2 267,267.9 270,264.6 273,261.2 276,257.9 279,254.5 282,251 285,247.6 288,244.1 291,240.5 294,237 297,233.4 300,229.8 303,226.2 306,222.5 309,218.8 312,215.1 315,211.3 318,207.6 321,203.8 324,199.9 327,196.1 330,192.2 333,188.2 336,184.3 339,180.3 342,176.3 345,172.3 348,168.2 351,164.1 354,160 357,155.8 360,151.6 363,147.4 366,143.2 369,138.9 372,134.6 375,130.3 378,125.9 381,121.5 384,117.1 387,112.7 390,108.2 393,103.7 396,99.2 399,94.6 402,90 405,85.4 408,80.8 411,76.1 414,71.4 417,66.7 420,61.9 423,57.1 426,52.3 429,47.5 432,42.6 435,40 483,40 L483,346 60,346Z" fill="#fdef00"/>
<path d="M60,346 189,346 192,345.2 195,342.6 198,340 201,337.4 204,334.7 207,332.1 210,329.4 213,326.7 216,324 219,321.3 222,318.5 225,315.7 228,312.9 231,310.1 234,307.2 237,304.3 240,301.4 243,298.5 246,295.5 249,292.6 252,289.6 255,286.5 258,283.5 261,280.4 264,277.3 267,274.2 270,271.1 273,267.9 276,264.7 279,261.5 282,258.2 285,255 288,251.7 291,248.4 294,245.1 297,241.7 300,238.3 303,234.9 306,231.5 309,228.1 312,224.6 315,221.1 318,217.6 321,214 324,210.4 327,206.9 330,203.2 333,199.6 336,195.9 339,192.3 342,188.5 345,184.8 348,181.1 351,177.3 354,173.5 357,169.6 360,165.8 363,161.9 366,158 369,154.1 372,150.2 375,146.2 378,142.2 381,138.2 384,134.1 387,130.1 390,126 393,121.9 396,117.7 399,113.6 402,109.4 405,105.2 408,101 411,96.7 414,92.4 417,88.1 420,83.8 423,79.5 426,75.1 429,70.7 432,66.3 435,61.8 438,57.4 441,52.9 444,48.4 447,43.8 450,40 483,40 L483,346 60,346Z" fill="#ff7d00"/>
<path d="M60,346 195,346 198,343.9 201,341.3 204,338.8 207,336.2 210,333.6 213,330.9 216,328.3 219,325.6 222,323 225,320.3 228,317.5 231,314.8 234,312.1 237,309.3 240,306.5 243,303.7 246,300.9 249,298 252,295.2 255,292.3 258,289.4 261,286.5 264,283.6 267,280.6 270,277.6 273,274.7 276,271.7 279,268.6 282,265.6 285,262.5 288,259.5 291,256.4 294,253.3 297,250.1 300,247 303,243.8 306,240.6 309,237.4 312,234.2 315,231 318,227.7 321,224.5 324,221.2 327,217.9 330,214.6 333,211.2 336,207.8 339,204.5 342,201.1 345,197.7 348,194.2 351,190.8 354,187.3 357,183.8 360,180.3 363,176.8 366,173.3 369,169.7 372,166.1 375,162.5 378,158.9 381,155.3 384,151.6 387,148 390,144.3 393,140.6 396,136.9 399,133.1 402,129.4 405,125.6 408,121.8 411,118 414,114.2 417,110.3 420,106.5 423,102.6 426,98.7 429,94.8 432,90.9 435,86.9 438,82.9 441,78.9 444,74.9 447,70.9 450,66.9 453,62.8 456,58.7 459,54.6 462,50.5 465,46.4 468,42.3 471,40 483,40 L483,346 60,346Z" fill="#ee0500"/>
<path d="M60,346 195,346 198,345 201,342.5 204,339.9 207,337.3 210,334.7 213,332.1 216,329.5 219,326.8 222,324.2 225,321.5 228,318.8 231,316.1 234,313.4 237,310.6 240,307.9 243,305.1 246,302.3 249,299.5 252,296.7 255,293.9 258,291 261,288.1 264,285.2 267,282.3 270,279.4 273,276.5 276,273.5 279,270.6 282,267.6 285,264.6 288,261.6 291,258.5 294,255.5 297,252.4 300,249.3 303,246.2 306,243.1 309,240 312,236.8 315,233.7 318,230.5 321,227.3 324,224.1 327,220.8 330,217.6 333,214.3 336,211.1 339,207.8 342,204.4 345,201.1 348,197.8 351,194.4 354,191 357,187.6 360,184.2 363,180.8 366,177.4 369,173.9 372,170.4 375,167 378,163.4 381,159.9 384,156.4 387,152.8 390,149.3 393,145.7 396,142.1 399,138.4 402,134.8 405,131.1 408,127.5 411,123.8 414,120.1 417,116.4 420,112.6 423,108.9 426,105.1 429,101.3 432,97.5 435,93.7 438,89.9 441,86 444,82.2 447,78.3 450,74.4 453,70.5 456,66.5 459,62.6 462,58.6 465,54.7 468,50.7 471,46.7 474,42.6 477,40 483,40 L483,346 60,346Z" fill="#800000"/>
<path d="M60,346 207,346 210,344.3 213,341.7 216,339.2 219,336.7 222,334.1 225,331.5 228,329 231,326.4 234,323.8 237,321.2 240,318.6 243,316 246,313.4 249,310.8 252,308.2 255,305.5 258,302.9 261,300.3 264,297.6 267,294.9 270,292.3 273,289.6 276,286.9 279,284.2 282,281.5 285,278.8 288,276.1 291,273.4 294,270.7 297,267.9 300,265.2 303,262.5 306,259.7 309,257 312,254.2 315,251.4 318,248.6 321,245.9 324,243.1 327,240.3 330,237.4 333,234.6 336,231.8 339,229 342,226.1 345,223.3 348,220.5 351,217.6 354,214.7 357,211.9 360,209 363,206.1 366,203.2 369,200.3 372,197.4 375,194.5 378,191.6 381,188.6 384,185.7 387,182.8 390,179.8 393,176.9 396,173.9 399,170.9 402,167.9 405,165 408,162 411,159 414,156 417,153 420,149.9 423,146.9 426,143.9 429,140.8 432,137.8 435,134.7 438,131.7 441,128.6 444,125.5 447,122.4 450,119.4 453,116.3 456,113.2 459,110 462,106.9 465,103.8 468,100.7 471,97.5 474,94.4 477,91.2 480,88.1 483,84.9 L483,346 60,346Z" fill="#ff4100"/>
<path d="M60,346 207,346 210,345.1 213,342.6 216,340.1 219,337.5 222,335 225,332.4 228,329.8 231,327.3 234,324.7 237,322.1 240,319.5 243,316.9 246,314.3 249,311.7 252,309.1 255,306.5 258,303.8 261,301.2 264,298.6 267,295.9 270,293.2 273,290.6 276,287.9 279,285.2 282,282.6 285,279.9 288,277.2 291,274.5 294,271.7 297,269 300,266.3 303,263.6 306,260.8 309,258.1 312,255.3 315,252.6 318,249.8 321,247.1 324,244.3 327,241.5 330,238.7 333,235.9 336,233.1 339,230.3 342,227.5 345,224.7 348,221.8 351,219 354,216.1 357,213.3 360,210.4 363,207.6 366,204.7 369,201.8 372,198.9 375,196 378,193.2 381,190.2 384,187.3 387,184.4 390,181.5 393,178.6 396,175.6 399,172.7 402,169.7 405,166.8 408,163.8 411,160.8 414,157.9 417,154.9 420,151.9 423,148.9 426,145.9 429,142.9 432,139.9 435,136.8 438,133.8 441,130.8 444,127.7 447,124.7 450,121.6 453,118.6 456,115.5 459,112.4 462,109.3 465,106.2 468,103.1 471,100 474,96.9 477,93.8 480,90.7 483,87.6 L483,346 60,346Z" fill="#ffe600"/>
<path d="M60,346 228,346 231,344 234,341.5 237,339 240,336.4 243,333.9 246,331.4 249,328.9 252,326.4 255,323.9 258,321.4 261,318.9 264,316.4 267,313.9 270,311.4 273,308.9 276,306.3 279,303.8 282,301.3 285,298.8 288,296.3 291,293.8 294,291.3 297,288.8 300,286.3 303,283.8 306,281.3 309,278.8 312,276.3 315,273.8 318,271.3 321,268.8 324,266.4 327,263.9 330,261.4 333,258.9 336,256.4 339,253.9 342,251.4 345,248.9 348,246.4 351,243.9 354,241.4 357,238.9 360,236.5 363,234 366,231.5 369,229 372,226.5 375,224 378,221.5 381,219.1 384,216.6 387,214.1 390,211.6 393,209.1 396,206.7 399,204.2 402,201.7 405,199.2 408,196.7 411,194.3 414,191.8 417,189.3 420,186.8 423,184.4 426,181.9 429,179.4 432,177 435,174.5 438,172 441,169.5 444,167.1 447,164.6 450,162.1 453,159.7 456,157.2 459,154.7 462,152.3 465,149.8 468,147.3 471,144.9 474,142.4 477,139.9 480,137.5 483,135 L483,346 60,346Z" fill="#ddff19"/>
<path d="M60,346 231,346 234,344.3 237,341.8 240,339.3 243,336.8 246,334.3 249,331.8 252,329.3 255,326.8 258,324.3 261,321.8 264,319.3 267,316.8 270,314.3 273,311.8 276,309.3 279,306.9 282,304.4 285,301.9 288,299.4 291,296.9 294,294.5 297,292 300,289.5 303,287 306,284.6 309,282.1 312,279.6 315,277.2 318,274.7 321,272.3 324,269.8 327,267.4 330,264.9 333,262.5 336,260 339,257.6 342,255.1 345,252.7 348,250.2 351,247.8 354,245.4 357,242.9 360,240.5 363,238.1 366,235.6 369,233.2 372,230.8 375,228.4 378,225.9 381,223.5 384,221.1 387,218.7 390,216.3 393,213.8 396,211.4 399,209 402,206.6 405,204.2 408,201.8 411,199.4 414,197 417,194.6 420,192.2 423,189.8 426,187.4 429,185 432,182.7 435,180.3 438,177.9 441,175.5 444,173.1 447,170.8 450,168.4 453,166 456,163.6 459,161.3 462,158.9 465,156.5 468,154.2 471,151.8 474,149.4 477,147.1 480,144.7 483,142.4 L483,346 60,346Z" fill="#ff7d00"/>
<path d="M60,346 240,346 243,344.1 246,341.6 249,339.1 252,336.6 255,334.2 258,331.7 261,329.2 264,326.7 267,324.3 270,321.8 273,319.3 276,316.9 279,314.4 282,312 285,309.6 288,307.1 291,304.7 294,302.3 297,299.9 300,297.5 303,295.1 306,292.7 309,290.3 312,287.9 315,285.5 318,283.1 321,280.7 324,278.4 327,276 330,273.7 333,271.3 336,269 339,266.6 342,264.3 345,261.9 348,259.6 351,257.3 354,255 357,252.7 360,250.4 363,248.1 366,245.8 369,243.5 372,241.2 375,238.9 378,236.6 381,234.4 384,232.1 387,229.8 390,227.6 393,225.3 396,223.1 399,220.8 402,218.6 405,216.4 408,214.2 411,211.9 414,209.7 417,207.5 420,205.3 423,203.1 426,200.9 429,198.7 432,196.6 435,194.4 438,192.2 441,190 444,187.9 447,185.7 450,183.6 453,181.4 456,179.3 459,177.1 462,175 465,172.9 468,170.8 471,168.6 474,166.5 477,164.4 480,162.3 483,160.2 L483,346 60,346Z" fill="#fdef00"/>
<path d="M60,346 243,346 246,345.6 249,343.1 252,340.6 255,338.1 258,335.7 261,333.2 264,330.7 267,328.3 270,325.8 273,323.4 276,320.9 279,318.5 282,316.1 285,313.6 288,311.2 291,308.8 294,306.4 297,304 300,301.7 303,299.3 306,296.9 309,294.5 312,292.2 315,289.8 318,287.5 321,285.2 324,282.8 327,280.5 330,278.2 333,275.9 336,273.6 339,271.3 342,269 345,266.7 348,264.4 351,262.2 354,259.9 357,257.7 360,255.4 363,253.2 366,251 369,248.7 372,246.5 375,244.3 378,242.1 381,239.9 384,237.7 387,235.5 390,233.4 393,231.2 396,229 399,226.9 402,224.7 405,222.6 408,220.4 411,218.3 414,216.2 417,214.1 420,212 423,209.9 426,207.8 429,205.7 432,203.6 435,201.5 438,199.5 441,197.4 444,195.4 447,193.3 450,191.3 453,189.3 456,187.2 459,185.2 462,183.2 465,181.2 468,179.2 471,177.2 474,175.2 477,173.3 480,171.3 483,169.3 L483,346 60,346Z" fill="#ddff19"/>
<path d="M60,346 246,346 249,344.8 252,342.3 255,339.8 258,337.3 261,334.8 264,332.4 267,329.9 270,327.5 273,325 276,322.6 279,320.2 282,317.7 285,315.3 288,312.9 291,310.5 294,308.1 297,305.7 300,303.4 303,301 306,298.6 309,296.3 312,293.9 315,291.6 318,289.3 321,287 324,284.6 327,282.3 330,280 333,277.7 336,275.5 339,273.2 342,270.9 345,268.7 348,266.4 351,264.2 354,261.9 357,259.7 360,257.5 363,255.3 366,253.1 369,250.9 372,248.7 375,246.5 378,244.3 381,242.1 384,240 387,237.8 390,235.7 393,233.5 396,231.4 399,229.3 402,227.2 405,225.1 408,223 411,220.9 414,218.8 417,216.7 420,214.7 423,212.6 426,210.5 429,208.5 432,206.5 435,204.4 438,202.4 441,200.4 444,198.4 447,196.4 450,194.4 453,192.4 456,190.4 459,188.5 462,186.5 465,184.6 468,182.6 471,180.7 474,178.7 477,176.8 480,174.9 483,173 L483,346 60,346Z" fill="#fdef00"/>
<path d="M60,346 249,346 252,343.5 255,341 258,338.6 261,336.1 264,333.6 267,331.2 270,328.7 273,326.3 276,323.8 279,321.4 282,319 285,316.6 288,314.2 291,311.8 294,309.4 297,307 300,304.6 303,302.3 306,299.9 309,297.6 312,295.2 315,292.9 318,290.6 321,288.3 324,286 327,283.7 330,281.4 333,279.1 336,276.9 339,274.6 342,272.3 345,270.1 348,267.9 351,265.6 354,263.4 357,261.2 360,259 363,256.8 366,254.6 369,252.4 372,250.3 375,248.1 378,245.9 381,243.8 384,241.6 387,239.5 390,237.4 393,235.3 396,233.2 399,231.1 402,229 405,226.9 408,224.8 411,222.8 414,220.7 417,218.7 420,216.6 423,214.6 426,212.6 429,210.6 432,208.6 435,206.6 438,204.6 441,202.6 444,200.6 447,198.6 450,196.7 453,194.7 456,192.8 459,190.9 462,188.9 465,187 468,185.1 471,183.2 474,181.3 477,179.4 480,177.6 483,175.7 L483,346 60,346Z" fill="#ff6500"/>
<path d="M60,346 261,346 264,345.2 267,342.8 270,340.3 273,337.8 276,335.4 279,333 282,330.5 285,328.1 288,325.7 291,323.4 294,321 297,318.6 300,316.3 303,314 306,311.7 309,309.4 312,307.1 315,304.8 318,302.5 321,300.3 324,298.1 327,295.8 330,293.6 333,291.5 336,289.3 339,287.1 342,285 345,282.8 348,280.7 351,278.6 354,276.5 357,274.4 360,272.3 363,270.3 366,268.2 369,266.2 372,264.2 375,262.2 378,260.2 381,258.2 384,256.3 387,254.3 390,252.4 393,250.5 396,248.5 399,246.6 402,244.8 405,242.9 408,241 411,239.2 414,237.4 417,235.6 420,233.8 423,232 426,230.2 429,228.4 432,226.7 435,225 438,223.2 441,221.5 444,219.8 447,218.2 450,216.5 453,214.8 456,213.2 459,211.6 462,210 465,208.4 468,206.8 471,205.2 474,203.6 477,202.1 480,200.6 483,199 L483,346 60,346Z" fill="#ffb900"/>
<path d="M60,346 273,346 276,343.6 279,341.1 282,338.7 285,336.2 288,333.8 291,331.4 294,329 297,326.7 300,324.3 303,322 306,319.7 309,317.4 312,315.1 315,312.8 318,310.6 321,308.4 324,306.1 327,304 330,301.8 333,299.6 336,297.5 339,295.4 342,293.2 345,291.2 348,289.1 351,287 354,285 357,283 360,281 363,279 366,277 369,275 372,273.1 375,271.2 378,269.3 381,267.4 384,265.5 387,263.7 390,261.9 393,260 396,258.2 399,256.5 402,254.7 405,252.9 408,251.2 411,249.5 414,247.8 417,246.1 420,244.5 423,242.8 426,241.2 429,239.6 432,238 435,236.4 438,234.9 441,233.3 444,231.8 447,230.3 450,228.8 453,227.3 456,225.9 459,224.4 462,223 465,221.6 468,220.2 471,218.9 474,217.5 477,216.2 480,214.8 483,213.5 L483,346 60,346Z" fill="#ffe600"/>
<path d="M60,346 279,346 282,344.4 285,341.9 288,339.5 291,337 294,334.6 297,332.3 300,329.9 303,327.5 306,325.2 309,322.9 312,320.6 315,318.3 318,316.1 321,313.9 324,311.6 327,309.5 330,307.3 333,305.1 336,303 339,300.9 342,298.8 345,296.7 348,294.7 351,292.6 354,290.6 357,288.6 360,286.7 363,284.7 366,282.8 369,280.9 372,279 375,277.1 378,275.2 381,273.4 384,271.6 387,269.8 390,268 393,266.3 396,264.5 399,262.8 402,261.1 405,259.4 408,257.8 411,256.1 414,254.5 417,252.9 420,251.3 423,249.8 426,248.2 429,246.7 432,245.2 435,243.7 438,242.3 441,240.8 444,239.4 447,238 450,236.6 453,235.3 456,233.9 459,232.6 462,231.3 465,230 468,228.8 471,227.5 474,226.3 477,225.1 480,223.9 483,222.8 L483,346 60,346Z" fill="#db0000"/>
<path d="M60,346 285,346 288,345.2 291,342.8 294,340.4 297,337.9 300,335.5 303,333.2 306,330.8 309,328.5 312,326.2 315,323.9 318,321.6 321,319.4 324,317.1 327,314.9 330,312.8 333,310.6 336,308.5 339,306.4 342,304.3 345,302.2 348,300.2 351,298.1 354,296.1 357,294.2 360,292.2 363,290.3 366,288.4 369,286.5 372,284.6 375,282.8 378,280.9 381,279.1 384,277.4 387,275.6 390,273.9 393,272.2 396,270.5 399,268.8 402,267.2 405,265.6 408,264 411,262.4 414,260.9 417,259.3 420,257.8 423,256.3 426,254.9 429,253.4 432,252 435,250.6 438,249.2 441,247.9 444,246.6 447,245.3 450,244 453,242.7 456,241.5 459,240.3 462,239.1 465,237.9 468,236.8 471,235.6 474,234.5 477,233.4 480,232.4 483,231.4 L483,346 60,346Z" fill="#800000"/>
<path d="M60,346 294,346 297,345.5 300,343.3 303,341.1 306,338.8 309,336.6 312,334.4 315,332.3 318,330.1 321,328 324,325.9 327,323.8 330,321.8 333,319.8 336,317.7 339,315.8 342,313.8 345,311.8 348,309.9 351,308 354,306.1 357,304.3 360,302.4 363,300.6 366,298.8 369,297 372,295.3 375,293.5 378,291.8 381,290.1 384,288.5 387,286.8 390,285.2 393,283.6 396,282 399,280.5 402,278.9 405,277.4 408,275.9 411,274.4 414,273 417,271.5 420,270.1 423,268.7 426,267.4 429,266 432,264.7 435,263.4 438,262.1 441,260.9 444,259.6 447,258.4 450,257.2 453,256.1 456,254.9 459,253.8 462,252.7 465,251.6 468,250.5 471,249.5 474,248.4 477,247.4 480,246.5 483,245.5 L483,346 60,346Z" fill="#ffb300"/>
<path d="M60,346 315,346 318,345.8 321,343.6 324,341.5 327,339.3 330,337.1 333,334.9 336,332.7 339,330.5 342,328.3 345,326.1 348,323.9 351,321.9 354,320 357,318.2 360,316.4 363,314.7 366,312.9 369,311 372,309.1 375,307 378,304.9 381,302.8 384,300.6 387,298.5 390,296.4 393,294.4 396,292.3 399,290.2 402,288.2 405,286.2 408,284.4 411,282.6 414,281 417,279.4 420,277.8 423,276.3 426,274.9 429,273.5 432,272.3 435,271.3 438,270.4 441,269.7 444,269 447,268.4 450,267.8 453,267.3 456,266.9 459,266.5 462,266.2 465,265.8 468,265.5 471,265.3 474,265 477,264.7 480,264.4 483,264 486,263.7 489,263.4 492,263.1 495,262.8 498,262.7 522,262.7 L522,346 60,346Z" fill="#f7f500"/>
<path d="M60,346 324,346 327,344.5 330,342.3 333,340.1 336,337.9 339,335.7 342,333.4 345,331.2 348,329.1 351,327.1 354,325.2 357,323.4 360,321.6 363,319.8 366,318 369,316.2 372,314.2 375,312.2 378,310.1 381,307.9 384,305.8 387,303.7 390,301.6 393,299.5 396,297.5 399,295.4 402,293.4 405,291.4 408,289.5 411,287.8 414,286.2 417,284.6 420,283 423,281.5 426,280 429,278.7 432,277.5 435,276.5 438,275.6 441,274.9 444,274.2 447,273.6 450,273 453,272.5 456,272.1 459,271.7 462,271.3 465,271 468,270.7 471,270.4 474,270.2 477,269.9 480,269.6 483,269.2 486,268.9 489,268.5 492,268.2 495,268 498,267.9 522,267.9 L522,346 60,346Z" fill="#ffb900"/>
<path d="M492,250 666,250 L666,346 492,346Z" fill="#ffe600"/>
<path d="M492,200 495,201.5 498,202.9 501,204.4 504,205.8 507,207.3 510,208.7 513,210.2 516,211.6 519,213.1 522,214.5 525,216 528,217.4 531,218.9 534,220.3 537,221.8 540,223.2 543,224.7 546,226.1 549,227.6 552,229 555,230.5 558,231.9 561,233.4 564,234.8 567,236.3 570,237.7 573,239.2 576,240.6 579,242.1 582,243.5 585,245 588,246.4 591,247.9 594,249.3 597,250.8 600,252.2 603,253.7 606,255.1 609,256.6 612,258 615,259.5 618,260.9 621,262.4 624,263.8 627,265.3 630,266.7 633,268.2 636,269.6 639,271.1 642,272.5 645,274 648,275.4 651,276.9 654,278.3 657,279.8 660,281.2 663,282.7 666,284.1 L666,346 492,346Z" fill="#800000"/>
<path d="M492,203.8 495,205.3 498,206.9 501,208.5 504,210.1 507,211.7 510,213.2 513,214.8 516,216.4 519,218 522,219.5 525,221.1 528,222.7 531,224.3 534,225.8 537,227.4 540,229 543,230.6 546,232.2 549,233.7 552,235.3 555,236.9 558,238.5 561,240 564,241.6 567,243.2 570,244.8 573,246.4 576,247.9 579,249.5 582,251.1 585,252.7 588,254.2 591,255.8 594,257.4 597,259 600,260.5 603,262.1 606,263.7 609,265.3 612,267 615,268.6 618,270.1 621,271.7 624,273.1 627,274.6 630,276.1 633,277.5 636,278.9 639,280.3 642,281.7 645,283 648,284.3 651,285.6 654,286.9 657,288.3 660,289.7 663,291.1 666,292.5 L666,346 492,346Z" fill="#ff7d00"/>
<path d="M492,208.3 495,209.8 498,211.4 501,213 504,214.6 507,216.2 510,217.7 513,219.3 516,220.9 519,222.5 522,224 525,225.6 528,227.2 531,228.8 534,230.3 537,231.9 540,233.5 543,235.1 546,236.7 549,238.2 552,239.8 555,241.4 558,243 561,244.5 564,246.1 567,247.7 570,249.3 573,250.9 576,252.4 579,254 582,255.6 585,257.2 588,258.7 591,260.3 594,261.9 597,263.5 600,265 603,266.6 606,268.2 609,269.8 612,271.5 615,273.1 618,274.6 621,276.2 624,277.6 627,279.1 630,280.6 633,282 636,283.4 639,284.8 642,286.2 645,287.5 648,288.8 651,290.1 654,291.4 657,292.8 660,294.2 663,295.6 666,297 L666,346 492,346Z" fill="#ffb900"/>
<path d="M492,263.9 495,263.5 498,263.1 501,262.9 504,262.7 507,262.5 510,262.3 513,262.1 516,261.9 519,261.7 522,261.5 525,261.5 528,261.7 531,262 534,262.4 537,262.8 540,263.2 543,263.6 546,264 549,264.6 552,265.1 555,265.7 558,266.3 561,266.9 564,267.5 567,268 570,268.5 573,269 576,269.5 579,270.1 582,270.8 585,271.6 588,272.5 591,273.5 594,274.5 597,275.6 600,276.7 603,277.8 606,278.9 609,280 612,281.1 615,282.3 618,283.4 621,284.6 624,285.9 627,287.1 630,288.4 633,289.7 636,291.1 639,292.4 642,293.8 645,295.2 648,296.6 651,298.1 654,299.4 657,300.8 660,302.1 663,303.5 666,304.9 L666,346 492,346Z" fill="#f7f500"/>
<path d="M492,264.3 495,264 498,263.9 501,263.8 507,263.7 513,263.6 519,263.5 522,263.5 525,263.7 528,264 531,264.4 534,265 537,265.5 540,266.1 543,266.6 546,267.2 549,267.9 552,268.7 555,269.4 558,270.2 561,270.9 564,271.6 567,272.3 570,272.9 573,273.6 576,274.3 579,275.1 582,275.9 585,276.8 588,277.9 591,279 594,280.2 597,281.4 600,282.7 603,283.9 606,285.2 609,286.4 612,287.7 615,289 618,290.4 621,291.7 624,293.1 627,294.5 630,296 633,297.4 636,298.9 639,300.4 642,302 645,303.5 648,305.1 651,306.7 654,308.3 657,309.8 660,311.3 663,312.8 666,314.3 L666,346 492,346Z" fill="#ffb900"/>
<path d="M492,269.6 495,269.4 498,269.2 501,269.1 507,269 513,268.9 519,268.8 522,268.8 525,269 528,269.3 531,269.7 534,270.2 537,270.8 540,271.4 543,271.9 546,272.5 549,273.2 552,273.9 555,274.7 558,275.4 561,276.1 564,276.8 567,277.5 570,278.2 573,278.8 576,279.5 579,280.3 582,281.1 585,282 588,283.1 591,284.2 594,285.4 597,286.6 600,287.9 603,289.1 606,290.3 609,291.6 612,292.9 615,294.2 618,295.5 621,296.9 624,298.3 627,299.7 630,301.1 633,302.6 636,304 639,305.6 642,307.1 645,308.6 648,310.2 651,311.8 654,313.3 657,314.8 660,316.3 663,317.9 666,319.4 L666,346 492,346Z" fill="#ff7d00"/>
<path d="M327,346 330,345.3 333,343.1 336,341 339,338.7 342,336.5 345,334.3 348,332.2 351,330.1 354,328.2 357,326.4 360,324.6 363,322.9 366,321.1 369,319.2 372,317.3 375,315.2 378,313.1 381,311 384,308.8 387,306.7 390,304.6 393,302.6 396,300.5 399,298.4 402,296.4 405,294.4 408,292.6 411,290.8 414,289.2 417,287.6 420,286 423,284.5 426,283.1 429,281.8 432,280.6 435,279.5 438,278.6 441,277.9 444,277.2 447,276.6 450,276 453,275.6 456,275.1 459,274.7 462,274.4 465,274 468,273.8 471,273.5 474,273.2 477,272.9 480,272.6 483,272.2 486,271.9 489,271.6 492,271.3 495,271.1 498,270.9 522,270.9 525,271.1 528,271.5 531,272 534,272.6 537,273.2 540,273.8 543,274.4 546,275 549,275.7 552,276.5 555,277.3 558,278.1 561,278.9 564,279.6 567,280.3 570,281.1 573,281.8 576,282.5 579,283.3 582,284.2 585,285.2 588,286.2 591,287.4 594,288.7 597,290 600,291.3 603,292.5 606,293.8 609,295.1 612,296.5 615,297.8 618,299.2 621,300.6 624,302 627,303.5 630,305 633,306.5 636,308 639,309.6 642,311.1 645,312.8 648,314.4 651,316 654,317.6 657,319.2 660,320.7 663,322.3 666,323.8 L666,346 327,346Z" fill="#db0000"/>
<path d="M327,346 336,346 339,345.9 342,343.7 345,341.6 348,339.6 351,337.6 354,335.7 357,333.9 360,332.1 363,330.3 366,328.5 369,326.6 372,324.7 375,322.7 378,320.7 381,318.6 384,316.5 387,314.5 390,312.4 393,310.5 396,308.4 399,306.4 402,304.5 405,302.5 408,300.7 411,298.9 414,297.3 417,295.6 420,294 423,292.4 426,290.9 429,289.5 432,288.2 435,287 438,285.9 441,285 444,284 447,283.1 450,282.3 453,281.6 456,281.1 459,280.7 462,280.3 465,280 468,279.7 471,279.5 474,279.2 477,279 480,278.8 483,278.5 486,278.3 489,278 492,277.8 495,277.7 498,277.6 510,277.7 516,277.7 519,277.8 522,277.9 525,278.1 528,278.5 531,279 534,279.6 537,280.2 540,280.8 543,281.4 546,282.1 549,282.8 552,283.6 555,284.3 558,285.1 561,285.9 564,286.6 567,287.4 570,288.1 573,288.9 576,289.6 579,290.5 582,291.4 585,292.4 588,293.4 591,294.6 594,295.8 597,297.1 600,298.4 603,299.7 606,301 609,302.3 612,303.6 615,305 618,306.4 621,307.8 624,309.2 627,310.7 630,312.1 633,313.6 636,315.2 639,316.7 642,318.3 645,319.9 648,321.5 651,323.1 654,324.6 657,326.2 660,327.7 663,329.2 666,330.7 L666,346 327,346Z" fill="#ff4100"/>
<path d="M327,346 345,346 348,345.4 351,343.5 354,341.6 357,339.8 360,337.9 363,336.1 366,334.3 369,332.4 372,330.5 375,328.6 378,326.6 381,324.6 384,322.6 387,320.6 390,318.6 393,316.6 396,314.7 399,312.7 402,310.8 405,308.9 408,307.1 411,305.3 414,303.6 417,301.9 420,300.3 423,298.7 426,297.1 429,295.6 432,294.2 435,292.9 438,291.7 441,290.5 444,289.3 447,288.2 450,287.2 453,286.4 456,285.8 459,285.4 462,285 465,284.7 468,284.4 471,284.2 474,284 477,283.8 480,283.6 483,283.5 486,283.3 489,283.1 492,283 495,282.9 498,282.8 507,282.9 510,283 513,283 516,283.1 519,283.2 522,283.3 525,283.6 528,284 531,284.5 534,285 537,285.7 540,286.3 543,287 546,287.7 549,288.4 552,289.1 555,289.9 558,290.6 561,291.4 564,292.1 567,292.9 570,293.7 573,294.4 576,295.3 579,296.1 582,297 585,298 588,299.1 591,300.3 594,301.5 597,302.7 600,304 603,305.3 606,306.6 609,307.9 612,309.3 615,310.6 618,312 621,313.4 624,314.8 627,316.3 630,317.8 633,319.3 636,320.8 639,322.3 642,323.9 645,325.5 648,327 651,328.6 654,330.1 657,331.6 660,333.2 663,334.7 666,336.2 L666,346 327,346Z" fill="url(#g62)"/>
<path d="M327,346 354,346 357,344.3 360,342.5 363,340.6 366,338.8 369,336.9 372,335 375,333.1 378,331.2 381,329.2 384,327.2 387,325.3 390,323.3 393,321.4 396,319.5 399,317.6 402,315.7 405,313.8 408,312 411,310.2 414,308.5 417,306.8 420,305.1 423,303.5 426,301.8 429,300.3 432,298.8 435,297.4 438,296.1 441,294.8 444,293.5 447,292.2 450,291 453,290.1 456,289.4 459,289 462,288.6 465,288.3 468,288 471,287.8 474,287.6 477,287.5 480,287.4 483,287.3 486,287.2 489,287.1 492,287 495,286.9 504,286.9 507,287 510,287.1 513,287.2 516,287.3 519,287.4 522,287.5 525,287.8 528,288.2 531,288.7 534,289.3 537,289.9 540,290.6 543,291.3 546,292 549,292.7 552,293.4 555,294.1 558,294.9 561,295.6 564,296.4 567,297.2 570,297.9 573,298.7 576,299.6 579,300.5 582,301.4 585,302.4 588,303.5 591,304.6 594,305.8 597,307.1 600,308.3 603,309.6 606,310.9 609,312.3 612,313.6 615,315 618,316.3 621,317.7 624,319.2 627,320.6 630,322.1 633,323.6 636,325.1 639,326.7 642,328.3 645,329.8 648,331.4 651,332.9 654,334.4 657,335.9 660,337.4 663,338.9 666,340.4 L666,346 327,346Z" fill="#e70000"/>
<path d="M327,346 360,346 363,344.6 366,342.8 369,340.9 372,339 375,337.1 378,335.2 381,333.3 384,331.4 387,329.4 390,327.5 393,325.6 396,323.8 399,321.9 402,320 405,318.2 408,316.3 411,314.5 414,312.8 417,311.1 420,309.4 423,307.7 426,306 429,304.4 432,302.9 435,301.4 438,300 441,298.6 444,297.1 447,295.7 450,294.4 453,293.3 456,292.6 459,292.2 462,291.8 465,291.5 468,291.2 471,291 474,290.8 477,290.8 480,290.7 483,290.7 486,290.6 489,290.5 492,290.5 498,290.4 501,290.5 504,290.5 507,290.6 510,290.7 513,290.8 516,290.9 519,291.1 522,291.2 525,291.5 528,291.9 531,292.4 534,293 537,293.7 540,294.4 543,295.1 546,295.8 549,296.5 552,297.2 555,297.9 558,298.6 561,299.4 564,300.1 567,300.9 570,301.7 573,302.5 576,303.4 579,304.3 582,305.2 585,306.2 588,307.3 591,308.5 594,309.7 597,310.9 600,312.2 603,313.5 606,314.8 609,316.1 612,317.4 615,318.8 618,320.2 621,321.6 624,323 627,324.4 630,325.9 633,327.4 636,329 639,330.5 642,332.1 645,333.7 648,335.2 651,336.7 654,338.2 657,339.6 660,341.1 663,342.6 666,344.1 L666,346 327,346Z" fill="url(#g62)"/>
<path d="M435,292.5 438,291.6 441,290.7 444,289.8 447,289 450,288.3 453,287.6 456,287 459,286.4 462,285.9 465,285.4 468,285 471,284.7 474,284.5 477,284.2 480,284 483,283.8 486,283.6 489,283.5 492,283.4 495,283.4 498,283.4 501,283.5 504,283.7 507,283.9 510,284.1 513,284.4 516,284.7 519,285.1 522,285.4 525,285.8 528,286.2 531,286.7 534,287.3 537,287.9 540,288.6 543,289.3 546,290 549,290.8 552,291.7 555,292.6 558,293.5 561,294.3 L561,296.3 558,296.2 555,296.1 552,296 549,295.9 546,295.8 543,295.7 540,295.6 537,295.5 534,295.4 531,295.3 528,295.2 525,295.1 522,295 519,294.8 516,294.6 513,294.5 510,294.3 507,294.2 504,294.1 501,294.1 498,294 495,294 492,294 489,294 486,294 483,294 480,294 477,294 474,294 471,294.1 468,294.1 465,294.1 462,294.1 459,294.2 456,294.2 453,294.3 450,294.4 447,294.4 444,294.5 441,294.6 438,294.7 435,294.7Z" fill="#ffc800"/>
<path d="M438,292.8 441,291.9 444,291 447,290.2 450,289.5 453,288.8 456,288.2 459,287.6 462,287.1 465,286.6 468,286.2 471,285.9 474,285.7 477,285.4 480,285.2 483,285 486,284.8 489,284.7 492,284.6 495,284.6 498,284.6 501,284.7 504,284.9 507,285.1 510,285.3 513,285.6 516,285.9 519,286.3 522,286.6 525,287 528,287.4 531,287.9 534,288.5 537,289.1 540,289.8 543,290.5 546,291.2 549,292 552,292.9 555,293.8 L555,294.6 552,294.5 549,294.4 546,294.3 543,294.2 540,294.1 537,294 534,293.9 531,293.8 528,293.7 525,293.6 522,293.5 519,293.3 516,293.1 513,293 510,292.8 507,292.7 504,292.6 501,292.6 498,292.5 495,292.5 492,292.5 489,292.5 486,292.5 483,292.5 480,292.5 477,292.5 474,292.5 471,292.6 468,292.6 465,292.6 462,292.6 459,292.7 456,292.7 453,292.8 450,292.9 447,292.9 444,293 441,293.1 438,293.2Z" fill="#75ff82"/>
<path d="M444,291.8 447,291 450,290.3 453,289.6 456,289 459,288.4 462,287.9 465,287.4 468,287 471,286.7 474,286.5 477,286.2 480,286 483,285.8 486,285.6 489,285.5 492,285.4 495,285.4 498,285.4 501,285.5 504,285.7 507,285.9 510,286.1 513,286.4 516,286.7 519,287.1 522,287.4 525,287.8 528,288.2 531,288.7 534,289.3 537,289.9 540,290.6 543,291.3 546,292 L546,293.1 543,293 540,292.9 537,292.8 534,292.7 531,292.6 528,292.5 525,292.4 522,292.3 519,292.1 516,291.9 513,291.8 510,291.6 507,291.5 504,291.4 501,291.4 498,291.3 495,291.3 492,291.3 489,291.3 486,291.3 483,291.3 480,291.3 477,291.3 474,291.3 471,291.4 468,291.4 465,291.4 462,291.4 459,291.5 456,291.5 453,291.6 450,291.7 447,291.7 444,291.8Z" fill="#3bffbb"/>
<path d="M327,346 366,346 369,345.7 372,343.8 375,341.9 378,340.1 381,338.2 384,336.3 387,334.4 390,332.6 393,330.7 396,328.9 399,327 402,325.2 405,323.4 408,321.6 411,319.8 414,318 417,316.2 420,314.5 423,312.8 426,311.1 429,309.4 432,307.8 435,306.2 438,304.7 441,303.1 444,301.5 447,299.8 450,298.4 453,297.2 456,296.4 459,296 462,295.6 465,295.3 468,295 471,294.8 474,294.7 501,294.8 504,294.8 507,294.9 510,295 513,295.2 516,295.3 519,295.5 522,295.7 525,296 528,296.4 531,296.9 534,297.5 537,298.2 540,298.9 543,299.6 546,300.3 549,301 552,301.7 555,302.4 558,303.1 561,303.9 564,304.6 567,305.4 570,306.3 573,307.1 576,308 579,308.9 582,309.9 585,310.9 588,311.9 591,313.1 594,314.3 597,315.5 600,316.8 603,318.1 606,319.4 609,320.7 612,322.1 615,323.4 618,324.8 621,326.2 624,327.6 627,329 630,330.5 633,332 636,333.6 639,335.1 642,336.7 645,338.2 648,339.7 651,341.2 654,342.7 657,344.1 660,345.6 663,346 666,346 L666,346 327,346Z" fill="#800000"/>
<path d="M327,346 381,346 384,344.3 387,342.4 390,340.6 393,338.7 396,336.9 399,335 402,333.2 405,331.4 408,329.6 411,327.8 414,326 417,324.2 420,322.5 423,320.8 426,319.1 429,317.4 432,315.8 435,314.2 438,312.7 441,311.1 444,309.5 447,307.8 450,306.4 453,305.2 456,304.4 459,304 462,303.6 465,303.3 468,303 471,302.8 474,302.7 501,302.8 504,302.8 507,302.9 510,303 513,303.2 516,303.3 519,303.5 522,303.7 525,304 528,304.4 531,304.9 534,305.5 537,306.2 540,306.9 543,307.6 546,308.3 549,309 552,309.7 555,310.4 558,311.1 561,311.9 564,312.6 567,313.4 570,314.3 573,315.1 576,316 579,316.9 582,317.9 585,318.9 588,319.9 591,321.1 594,322.3 597,323.5 600,324.8 603,326.1 606,327.4 609,328.7 612,330.1 615,331.4 618,332.8 621,334.2 624,335.6 627,337 630,338.5 633,340 636,341.6 639,343.1 642,344.7 645,346 666,346 L666,346 327,346Z" fill="#ff7700"/>
<path d="M327,346 390,346 393,345.3 396,343.5 399,341.6 402,339.8 405,338 408,336.2 411,334.4 414,332.6 417,330.8 420,329.1 423,327.4 426,325.7 429,324 432,322.4 435,320.8 438,319.3 441,317.7 444,316.1 447,314.4 450,313 453,311.8 456,311 459,310.6 462,310.2 465,309.9 468,309.6 471,309.4 474,309.3 501,309.4 504,309.4 507,309.5 510,309.6 513,309.8 516,309.9 519,310.1 522,310.3 525,310.6 528,311 531,311.5 534,312.1 537,312.8 540,313.5 543,314.2 546,314.9 549,315.6 552,316.3 555,317 558,317.7 561,318.5 564,319.2 567,320 570,320.9 573,321.7 576,322.6 579,323.5 582,324.5 585,325.5 588,326.5 591,327.7 594,328.9 597,330.1 600,331.4 603,332.7 606,334 609,335.3 612,336.7 615,338 618,339.4 621,340.8 624,342.2 627,343.6 630,345.1 633,346 666,346 L666,346 327,346Z" fill="#ffb900"/>
<path d="M327,346 402,346 405,345.7 408,343.9 411,342.1 414,340.3 417,338.5 420,336.8 423,335.1 426,333.4 429,331.7 432,330.1 435,328.5 438,327 441,325.4 444,323.8 447,322.1 450,320.7 453,319.5 456,318.7 459,318.3 462,317.9 465,317.6 468,317.3 471,317.1 474,317 501,317.1 504,317.1 507,317.2 510,317.3 513,317.5 516,317.6 519,317.8 522,318 525,318.3 528,318.7 531,319.2 534,319.8 537,320.5 540,321.2 543,321.9 546,322.6 549,323.3 552,324 555,324.7 558,325.4 561,326.2 564,326.9 567,327.7 570,328.6 573,329.4 576,330.3 579,331.2 582,332.2 585,333.2 588,334.2 591,335.4 594,336.6 597,337.8 600,339.1 603,340.4 606,341.7 609,343 612,344.4 615,345.7 618,346 666,346 L666,346 327,346Z" fill="#ff4100"/>
<path d="M327,346 414,346 417,344.2 420,342.5 423,340.8 426,339.1 429,337.4 432,335.8 435,334.2 438,332.7 441,331.1 444,329.5 447,327.8 450,326.4 453,325.2 456,324.4 459,324 462,323.6 465,323.3 468,323 471,322.8 474,322.7 501,322.8 504,322.8 507,322.9 510,323 513,323.2 516,323.3 519,323.5 522,323.7 525,324 528,324.4 531,324.9 534,325.5 537,326.2 540,326.9 543,327.6 546,328.3 549,329 552,329.7 555,330.4 558,331.1 561,331.9 564,332.6 567,333.4 570,334.3 573,335.1 576,336 579,336.9 582,337.9 585,338.9 588,339.9 591,341.1 594,342.3 597,343.5 600,344.8 603,346 666,346 L666,346 327,346Z" fill="#ffb300"/>
<path d="M327,346 423,346 426,345.1 429,343.4 432,341.8 435,340.2 438,338.7 441,337.1 444,335.5 447,333.8 450,332.4 453,331.2 456,330.4 459,330 462,329.6 465,329.3 468,329 471,328.8 474,328.7 501,328.8 504,328.8 507,328.9 510,329 513,329.2 516,329.3 519,329.5 522,329.7 525,330 528,330.4 531,330.9 534,331.5 537,332.2 540,332.9 543,333.6 546,334.3 549,335 552,335.7 555,336.4 558,337.1 561,337.9 564,338.6 567,339.4 570,340.3 573,341.1 576,342 579,342.9 582,343.9 585,344.9 588,345.9 591,346 666,346 L666,346 327,346Z" fill="#ee0500"/>
<path d="M327,346 432,346 435,345.7 438,344.2 441,342.6 444,341 447,339.3 450,337.9 453,336.7 456,335.9 459,335.5 462,335.1 465,334.8 468,334.5 471,334.3 474,334.2 501,334.3 504,334.3 507,334.4 510,334.5 513,334.7 516,334.8 519,335 522,335.2 525,335.5 528,335.9 531,336.4 534,337 537,337.7 540,338.4 543,339.1 546,339.8 549,340.5 552,341.2 555,341.9 558,342.6 561,343.4 564,344.1 567,344.9 570,345.8 573,346 666,346 L666,346 327,346Z" fill="#800000"/></g>
<path d="M60,274.9 63,274.9 66,274.9 69,275 72,275 75,275 78,275.1 81,275.1 84,275.1 87,275.2 90,275.2 93,275.2 96,275.3 99,275.3 102,275.4 105,275.4 108,275.4 111,275.5 114,275.5 117,275.5 120,275.6 123,275.6 126,275.6 129,275.7 132,275.7 135,275.8 138,275.8 141,275.8 144,275.9 147,275.9 150,276 153,276.1 156,276.2 159,276.3 162,276.4 165,276.6 168,276.7 171,276.8 174,276.9 177,277 180,277.1 183,277.2 186,277.3 189,277.5 192,277.6 195,277.7 198,277.8 201,277.9 204,278 207,278.1 210,278.2 213,278.4 216,278.5 219,278.6 222,278.7 225,278.8 228,278.9 231,278.9 234,279 237,279.1 240,279.2 243,279.2 246,279.3 249,279.4 252,279.5 255,279.5 258,279.6 261,279.7 264,279.7 267,279.8 270,279.9 273,280 276,280 279,280.1 282,280.2 285,280.3 288,280.4 291,280.5 294,280.6 297,280.7 300,280.9 303,281 306,281.1 309,281.2 312,281.3 315,281.4 318,281.6 321,281.7 324,281.8 327,281.9 330,282.1 333,282.2 336,282.4 339,282.5 342,282.6 345,282.8 348,282.9 351,283 354,283.2 357,283.3 360,283.5 L360,283.5 357,283.3 354,283.4 351,283.5 348,283.6 345,283.8 342,283.9 339,284 336,284.1 333,284.2 330,284.4 327,284.5 324,284.6 321,284.8 318,284.9 315,285 312,285.2 309,285.3 306,285.4 303,285.6 300,285.8 297,286 294,286.2 291,286.4 288,286.6 285,286.8 282,287 279,287.2 276,287.4 273,288 270,288.6 267,289.3 264,289.9 261,290.3 258,290.7 255,291.1 252,291.5 249,291.9 246,292.1 243,292.2 240,292.4 237,292.6 234,292.8 231,293 228,293.2 225,293.4 222,293.6 219,293.8 216,294 213,294.2 210,294.4 207,294.6 204,294.8 201,295 198,295.2 195,295.4 192,295.6 189,295.8 186,296 183,296.2 180,296.4 177,296.5 174,296.7 171,296.9 168,297.1 165,297.3 162,297.5 159,297.7 156,298 153,298.2 150,298.4 147,298.6 144,298.8 141,299 138,299.2 135,299.4 132,299.6 129,299.8 126,300 123,300.2 120,300.4 117,300.6 114,300.9 111,301.2 108,301.5 105,301.8 102,302 99,302.3 96,302.6 93,302.9 90,303.2 87,303.5 84,303.7 81,303.9 78,304.1 75,304.2 72,304.4 69,304.6 66,304.8 63,305 60,305.1Z" fill="#800000"/>
<path d="M507.2,270.5 541.2,258.5 567.9,253.4 598.8,249.3 623.5,245.1 660,238.4 660,259.6 651.3,259.9 627.6,261.3 607.1,263.3 582.4,265.7 541.2,268.8Z" fill="#800000"/></g>
</g>
<line x1="72.40" y1="340.6" x2="72.40" y2="348.40" class="tk"/>
<text x="72.40" y="376.7" class="t28" text-anchor="middle">0</text>
<line x1="196.50" y1="340.6" x2="196.50" y2="348.40" class="tk"/>
<text x="196.50" y="376.7" class="t28" text-anchor="middle">2</text>
<line x1="320.60" y1="340.6" x2="320.60" y2="348.40" class="tk"/>
<text x="320.60" y="376.7" class="t28" text-anchor="middle">4</text>
<line x1="444.70" y1="340.6" x2="444.70" y2="348.40" class="tk"/>
<text x="444.70" y="376.7" class="t28" text-anchor="middle">6</text>
<line x1="568.80" y1="340.6" x2="568.80" y2="348.40" class="tk"/>
<text x="568.80" y="376.7" class="t28" text-anchor="middle">8</text>
<line x1="64.60" y1="50.90" x2="72.4" y2="50.90" class="tk"/>
<text x="57.80" y="62.20" class="t28" text-anchor="end">0</text>
<line x1="64.60" y1="150.60" x2="72.4" y2="150.60" class="tk"/>
<text x="57.80" y="161.90" class="t28" text-anchor="end">1</text>
<line x1="64.60" y1="250.30" x2="72.4" y2="250.30" class="tk"/>
<text x="57.80" y="261.60" class="t28" text-anchor="end">2</text>
<rect x="72.4" y="50.9" width="578.80" height="289.70" class="sp"/>
<text x="361.80" y="415" class="t32" text-anchor="middle">Lateral distance (km)</text>
<text transform="translate(24.90,194.35) rotate(-90)" class="t32" text-anchor="middle">Depth (km)</text>
<rect x="687.6" y="7.1" width="19.40" height="377.60" fill="url(#jet)"/>
<rect x="687.6" y="7.1" width="19.40" height="377.60" class="sp"/>
<line x1="707.0" y1="366.80" x2="714.60" y2="366.80" class="tk"/>
<text x="720.60" y="374.40" class="t20">1.5</text>
<line x1="707.0" y1="306.85" x2="714.60" y2="306.85" class="tk"/>
<text x="720.60" y="314.45" class="t20">2.0</text>
<line x1="707.0" y1="246.90" x2="714.60" y2="246.90" class="tk"/>
<text x="720.60" y="254.50" class="t20">2.5</text>
<line x1="707.0" y1="186.95" x2="714.60" y2="186.95" class="tk"/>
<text x="720.60" y="194.55" class="t20">3.0</text>
<line x1="707.0" y1="127.00" x2="714.60" y2="127.00" class="tk"/>
<text x="720.60" y="134.60" class="t20">3.5</text>
<line x1="707.0" y1="67.05" x2="714.60" y2="67.05" class="tk"/>
<text x="720.60" y="74.65" class="t20">4.0</text>
<line x1="707.0" y1="7.10" x2="714.60" y2="7.10" class="tk"/>
<text x="720.60" y="14.70" class="t20">4.5</text>
<rect x="870.30" y="50.9" width="579.60" height="289.70" fill="url(#prof)"/>
<line x1="870.30" y1="340.6" x2="870.30" y2="348.40" class="tk"/>
<text x="870.30" y="376.7" class="t28" text-anchor="middle">0</text>
<line x1="994.57" y1="340.6" x2="994.57" y2="348.40" class="tk"/>
<text x="994.57" y="376.7" class="t28" text-anchor="middle">2</text>
<line x1="1118.84" y1="340.6" x2="1118.84" y2="348.40" class="tk"/>
<text x="1118.84" y="376.7" class="t28" text-anchor="middle">4</text>
<line x1="1243.11" y1="340.6" x2="1243.11" y2="348.40" class="tk"/>
<text x="1243.11" y="376.7" class="t28" text-anchor="middle">6</text>
<line x1="1367.39" y1="340.6" x2="1367.39" y2="348.40" class="tk"/>
<text x="1367.39" y="376.7" class="t28" text-anchor="middle">8</text>
<line x1="862.50" y1="50.90" x2="870.3" y2="50.90" class="tk"/>
<text x="855.70" y="62.20" class="t28" text-anchor="end">0</text>
<line x1="862.50" y1="150.60" x2="870.3" y2="150.60" class="tk"/>
<text x="855.70" y="161.90" class="t28" text-anchor="end">1</text>
<line x1="862.50" y1="250.30" x2="870.3" y2="250.30" class="tk"/>
<text x="855.70" y="261.60" class="t28" text-anchor="end">2</text>
<rect x="870.3" y="50.9" width="579.60" height="289.70" class="sp"/>
<text x="1160.10" y="415" class="t32" text-anchor="middle">Lateral distance (km)</text>
<text transform="translate(822.80,194.35) rotate(-90)" class="t32" text-anchor="middle">Depth (km)</text>
<rect x="1485.9" y="7.1" width="19.40" height="377.60" fill="url(#jet)"/>
<rect x="1485.9" y="7.1" width="19.40" height="377.60" class="sp"/>
<line x1="1505.3" y1="366.80" x2="1512.90" y2="366.80" class="tk"/>
<text x="1518.90" y="374.40" class="t20">1.5</text>
<line x1="1505.3" y1="306.85" x2="1512.90" y2="306.85" class="tk"/>
<text x="1518.90" y="314.45" class="t20">2.0</text>
<line x1="1505.3" y1="246.90" x2="1512.90" y2="246.90" class="tk"/>
<text x="1518.90" y="254.50" class="t20">2.5</text>
<line x1="1505.3" y1="186.95" x2="1512.90" y2="186.95" class="tk"/>
<text x="1518.90" y="194.55" class="t20">3.0</text>
<line x1="1505.3" y1="127.00" x2="1512.90" y2="127.00" class="tk"/>
<text x="1518.90" y="134.60" class="t20">3.5</text>
<line x1="1505.3" y1="67.05" x2="1512.90" y2="67.05" class="tk"/>
<text x="1518.90" y="74.65" class="t20">4.0</text>
<line x1="1505.3" y1="7.10" x2="1512.90" y2="7.10" class="tk"/>
<text x="1518.90" y="14.70" class="t20">4.5</text>
<text y="499.3" class="cap"><tspan x="158.7" textLength="48.9" lengthAdjust="spacingAndGlyphs">(a)</tspan> <tspan x="227.1" textLength="85.2" lengthAdjust="spacingAndGlyphs">True</tspan> <tspan x="328.4" textLength="138.4" lengthAdjust="spacingAndGlyphs">velocity</tspan> <tspan x="484.8" textLength="113.0" lengthAdjust="spacingAndGlyphs">model</tspan></text>
<text y="499.3" class="cap"><tspan x="926.1" textLength="51.2" lengthAdjust="spacingAndGlyphs">(b)</tspan> <tspan x="997.1" textLength="177.1" lengthAdjust="spacingAndGlyphs">Reference</tspan> <tspan x="1190.5" textLength="104.4" lengthAdjust="spacingAndGlyphs">initial</tspan> <tspan x="1312.9" textLength="113.3" lengthAdjust="spacingAndGlyphs">model</tspan></text>
</svg></body></html>
